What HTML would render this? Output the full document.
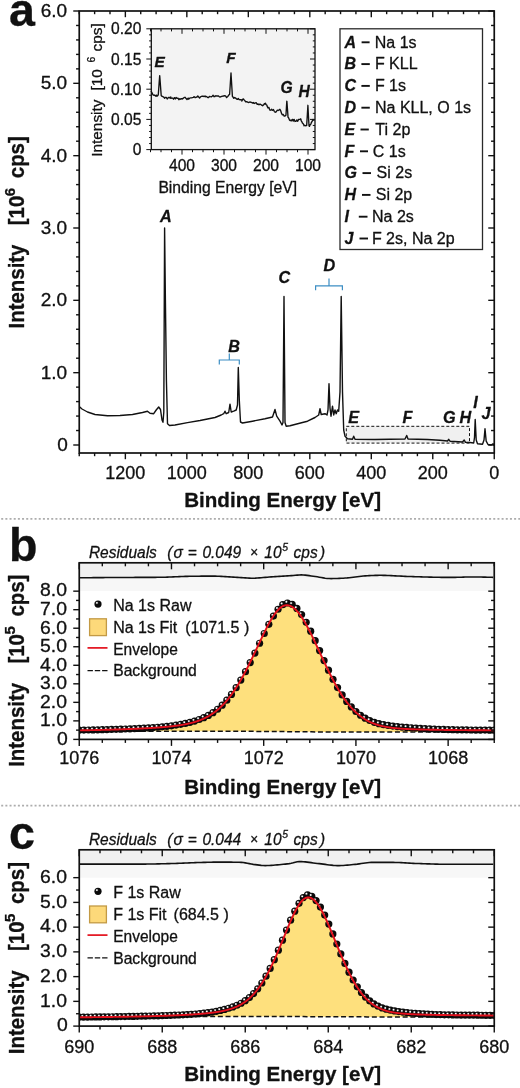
<!DOCTYPE html>
<html lang="en"><head><meta charset="utf-8"><title>XPS spectra</title>
<style>html,body{margin:0;padding:0;background:#fff}svg{display:block}text{stroke:#111;stroke-width:0.3px;stroke-linejoin:round}</style></head>
<body>
<svg width="520" height="1088" viewBox="0 0 520 1088" font-family='"Liberation Sans", Arial, Helvetica, sans-serif'>
<defs><g id="m"><circle r="3.6" fill="#0a0a0a"/><circle cx="-1.1" cy="-1.25" r="0.9" fill="#fff"/><circle cx="-1.05" cy="-1.2" r="1.45" fill="#fff" fill-opacity="0.18"/></g></defs>
<rect width="520" height="1088" fill="#fff"/>
<line x1="1.2" y1="518.8" x2="520" y2="518.8" stroke="#adadad" stroke-width="1.8" stroke-dasharray="2 2.17"/>
<line x1="1.2" y1="805.6" x2="520" y2="805.6" stroke="#adadad" stroke-width="1.8" stroke-dasharray="2 2.17"/>
<rect x="346.3" y="426.3" width="123.2" height="16.8" fill="#f0f0f0" stroke="#111" stroke-width="1" stroke-dasharray="3 2"/>
<path d="M79.5 406.8 L82 409 L87.5 412 L95 414.5 L107.5 415.8 L120 415.5 L132.5 414.5 L142.5 412.5 L147.5 411.2 L150 413.2 L153.7 413.7 L156.2 410 L158.7 407 L160.5 409.5 L162 420 L163 422.3 L163.8 412 L164.6 228 L165.4 300 L166.4 380 L167.5 423.7 L169.5 425.5 L175 425 L187.5 422.6 L200 420.5 L215 417.5 L221.2 415 L223.7 413.7 L225 411.2 L226.2 413.7 L228.7 412.5 L230 404.2 L231.2 412 L233.7 411.2 L236.2 410 L237.5 405 L238.3 367.5 L239.3 400 L240.5 422 L242.5 423 L252.5 421.2 L265 418.7 L272.5 417 L275 409.5 L276.7 416.2 L280 421.2 L282 425 L283 422.5 L284 296.5 L285 422.5 L286.2 426.2 L290 425.7 L302.5 422.5 L307.5 421.2 L315 417.5 L318.7 415 L320 408.7 L321.2 414.5 L325 413.7 L327 415 L328 410 L329 383.7 L330 408 L331 416.2 L332.5 406.2 L333.7 415 L335 410 L336.2 413.7 L337.5 410 L338.7 411.2 L340 392 L341.2 296.5 L342.5 392 L343.7 430 L345 436.2 L347.5 438.7 L352.5 439.2 L353.7 436.2 L355 439.3 L375 439.5 L390 439.3 L405 439 L406.7 435.5 L408 439 L427.5 439.5 L440 440.2 L447.5 441 L448.7 439.3 L450 441.2 L462.5 442 L464.2 440 L465.5 442.4 L470 442.5 L473.7 443 L474.5 437.5 L475.2 419.5 L476.2 440 L477.5 443.7 L482.5 444.2 L484 440 L485 428.7 L486.2 441.2 L488 444.5 L491.2 445 L493 443.7 L494 445.5" fill="none" stroke="#111" stroke-width="1.4" stroke-linejoin="round" />
<rect x="79.25" y="11" width="415" height="442" fill="none" stroke="#111" stroke-width="1.7"/>
<line x1="73.25" y1="445" x2="79.25" y2="445" stroke="#111" stroke-width="1.4" />
<line x1="488.25" y1="445" x2="494.25" y2="445" stroke="#111" stroke-width="1.4" />
<text x="0" y="0" font-size="17.6" text-anchor="end" font-weight="normal" font-style="normal" fill="#111" transform="translate(67.85 450.9) scale(1.08 1)" >0</text>
<line x1="76.05" y1="430.53" x2="79.25" y2="430.53" stroke="#111" stroke-width="1.4" />
<line x1="491.05" y1="430.53" x2="494.25" y2="430.53" stroke="#111" stroke-width="1.4" />
<line x1="76.05" y1="416.07" x2="79.25" y2="416.07" stroke="#111" stroke-width="1.4" />
<line x1="491.05" y1="416.07" x2="494.25" y2="416.07" stroke="#111" stroke-width="1.4" />
<line x1="76.05" y1="401.6" x2="79.25" y2="401.6" stroke="#111" stroke-width="1.4" />
<line x1="491.05" y1="401.6" x2="494.25" y2="401.6" stroke="#111" stroke-width="1.4" />
<line x1="76.05" y1="387.13" x2="79.25" y2="387.13" stroke="#111" stroke-width="1.4" />
<line x1="491.05" y1="387.13" x2="494.25" y2="387.13" stroke="#111" stroke-width="1.4" />
<line x1="73.25" y1="372.67" x2="79.25" y2="372.67" stroke="#111" stroke-width="1.4" />
<line x1="488.25" y1="372.67" x2="494.25" y2="372.67" stroke="#111" stroke-width="1.4" />
<text x="0" y="0" font-size="17.6" text-anchor="end" font-weight="normal" font-style="normal" fill="#111" transform="translate(67.05 378.57) scale(1.08 1)" >1.0</text>
<line x1="76.05" y1="358.2" x2="79.25" y2="358.2" stroke="#111" stroke-width="1.4" />
<line x1="491.05" y1="358.2" x2="494.25" y2="358.2" stroke="#111" stroke-width="1.4" />
<line x1="76.05" y1="343.73" x2="79.25" y2="343.73" stroke="#111" stroke-width="1.4" />
<line x1="491.05" y1="343.73" x2="494.25" y2="343.73" stroke="#111" stroke-width="1.4" />
<line x1="76.05" y1="329.27" x2="79.25" y2="329.27" stroke="#111" stroke-width="1.4" />
<line x1="491.05" y1="329.27" x2="494.25" y2="329.27" stroke="#111" stroke-width="1.4" />
<line x1="76.05" y1="314.8" x2="79.25" y2="314.8" stroke="#111" stroke-width="1.4" />
<line x1="491.05" y1="314.8" x2="494.25" y2="314.8" stroke="#111" stroke-width="1.4" />
<line x1="73.25" y1="300.33" x2="79.25" y2="300.33" stroke="#111" stroke-width="1.4" />
<line x1="488.25" y1="300.33" x2="494.25" y2="300.33" stroke="#111" stroke-width="1.4" />
<text x="0" y="0" font-size="17.6" text-anchor="end" font-weight="normal" font-style="normal" fill="#111" transform="translate(67.05 306.23) scale(1.08 1)" >2.0</text>
<line x1="76.05" y1="285.87" x2="79.25" y2="285.87" stroke="#111" stroke-width="1.4" />
<line x1="491.05" y1="285.87" x2="494.25" y2="285.87" stroke="#111" stroke-width="1.4" />
<line x1="76.05" y1="271.4" x2="79.25" y2="271.4" stroke="#111" stroke-width="1.4" />
<line x1="491.05" y1="271.4" x2="494.25" y2="271.4" stroke="#111" stroke-width="1.4" />
<line x1="76.05" y1="256.93" x2="79.25" y2="256.93" stroke="#111" stroke-width="1.4" />
<line x1="491.05" y1="256.93" x2="494.25" y2="256.93" stroke="#111" stroke-width="1.4" />
<line x1="76.05" y1="242.47" x2="79.25" y2="242.47" stroke="#111" stroke-width="1.4" />
<line x1="491.05" y1="242.47" x2="494.25" y2="242.47" stroke="#111" stroke-width="1.4" />
<line x1="73.25" y1="228" x2="79.25" y2="228" stroke="#111" stroke-width="1.4" />
<line x1="488.25" y1="228" x2="494.25" y2="228" stroke="#111" stroke-width="1.4" />
<text x="0" y="0" font-size="17.6" text-anchor="end" font-weight="normal" font-style="normal" fill="#111" transform="translate(67.05 233.9) scale(1.08 1)" >3.0</text>
<line x1="76.05" y1="213.53" x2="79.25" y2="213.53" stroke="#111" stroke-width="1.4" />
<line x1="491.05" y1="213.53" x2="494.25" y2="213.53" stroke="#111" stroke-width="1.4" />
<line x1="76.05" y1="199.07" x2="79.25" y2="199.07" stroke="#111" stroke-width="1.4" />
<line x1="491.05" y1="199.07" x2="494.25" y2="199.07" stroke="#111" stroke-width="1.4" />
<line x1="76.05" y1="184.6" x2="79.25" y2="184.6" stroke="#111" stroke-width="1.4" />
<line x1="491.05" y1="184.6" x2="494.25" y2="184.6" stroke="#111" stroke-width="1.4" />
<line x1="76.05" y1="170.13" x2="79.25" y2="170.13" stroke="#111" stroke-width="1.4" />
<line x1="491.05" y1="170.13" x2="494.25" y2="170.13" stroke="#111" stroke-width="1.4" />
<line x1="73.25" y1="155.67" x2="79.25" y2="155.67" stroke="#111" stroke-width="1.4" />
<line x1="488.25" y1="155.67" x2="494.25" y2="155.67" stroke="#111" stroke-width="1.4" />
<text x="0" y="0" font-size="17.6" text-anchor="end" font-weight="normal" font-style="normal" fill="#111" transform="translate(67.05 161.57) scale(1.08 1)" >4.0</text>
<line x1="76.05" y1="141.2" x2="79.25" y2="141.2" stroke="#111" stroke-width="1.4" />
<line x1="491.05" y1="141.2" x2="494.25" y2="141.2" stroke="#111" stroke-width="1.4" />
<line x1="76.05" y1="126.73" x2="79.25" y2="126.73" stroke="#111" stroke-width="1.4" />
<line x1="491.05" y1="126.73" x2="494.25" y2="126.73" stroke="#111" stroke-width="1.4" />
<line x1="76.05" y1="112.27" x2="79.25" y2="112.27" stroke="#111" stroke-width="1.4" />
<line x1="491.05" y1="112.27" x2="494.25" y2="112.27" stroke="#111" stroke-width="1.4" />
<line x1="76.05" y1="97.8" x2="79.25" y2="97.8" stroke="#111" stroke-width="1.4" />
<line x1="491.05" y1="97.8" x2="494.25" y2="97.8" stroke="#111" stroke-width="1.4" />
<line x1="73.25" y1="83.33" x2="79.25" y2="83.33" stroke="#111" stroke-width="1.4" />
<line x1="488.25" y1="83.33" x2="494.25" y2="83.33" stroke="#111" stroke-width="1.4" />
<text x="0" y="0" font-size="17.6" text-anchor="end" font-weight="normal" font-style="normal" fill="#111" transform="translate(67.05 89.23) scale(1.08 1)" >5.0</text>
<line x1="76.05" y1="68.87" x2="79.25" y2="68.87" stroke="#111" stroke-width="1.4" />
<line x1="491.05" y1="68.87" x2="494.25" y2="68.87" stroke="#111" stroke-width="1.4" />
<line x1="76.05" y1="54.4" x2="79.25" y2="54.4" stroke="#111" stroke-width="1.4" />
<line x1="491.05" y1="54.4" x2="494.25" y2="54.4" stroke="#111" stroke-width="1.4" />
<line x1="76.05" y1="39.93" x2="79.25" y2="39.93" stroke="#111" stroke-width="1.4" />
<line x1="491.05" y1="39.93" x2="494.25" y2="39.93" stroke="#111" stroke-width="1.4" />
<line x1="76.05" y1="25.47" x2="79.25" y2="25.47" stroke="#111" stroke-width="1.4" />
<line x1="491.05" y1="25.47" x2="494.25" y2="25.47" stroke="#111" stroke-width="1.4" />
<line x1="73.25" y1="11" x2="79.25" y2="11" stroke="#111" stroke-width="1.4" />
<line x1="488.25" y1="11" x2="494.25" y2="11" stroke="#111" stroke-width="1.4" />
<text x="0" y="0" font-size="17.6" text-anchor="end" font-weight="normal" font-style="normal" fill="#111" transform="translate(67.05 16.9) scale(1.08 1)" >6.0</text>
<line x1="494.25" y1="453" x2="494.25" y2="459.2" stroke="#111" stroke-width="1.4" />
<line x1="494.25" y1="11" x2="494.25" y2="17.2" stroke="#111" stroke-width="1.4" />
<text x="494.25" y="478.9" font-size="18" text-anchor="middle" font-weight="normal" font-style="normal" fill="#111" >0</text>
<line x1="478.88" y1="453" x2="478.88" y2="456.2" stroke="#111" stroke-width="1.4" />
<line x1="478.88" y1="11" x2="478.88" y2="14.2" stroke="#111" stroke-width="1.4" />
<line x1="463.51" y1="453" x2="463.51" y2="456.2" stroke="#111" stroke-width="1.4" />
<line x1="463.51" y1="11" x2="463.51" y2="14.2" stroke="#111" stroke-width="1.4" />
<line x1="448.14" y1="453" x2="448.14" y2="456.2" stroke="#111" stroke-width="1.4" />
<line x1="448.14" y1="11" x2="448.14" y2="14.2" stroke="#111" stroke-width="1.4" />
<line x1="432.77" y1="453" x2="432.77" y2="459.2" stroke="#111" stroke-width="1.4" />
<line x1="432.77" y1="11" x2="432.77" y2="17.2" stroke="#111" stroke-width="1.4" />
<text x="432.77" y="478.9" font-size="18" text-anchor="middle" font-weight="normal" font-style="normal" fill="#111" >200</text>
<line x1="417.4" y1="453" x2="417.4" y2="456.2" stroke="#111" stroke-width="1.4" />
<line x1="417.4" y1="11" x2="417.4" y2="14.2" stroke="#111" stroke-width="1.4" />
<line x1="402.03" y1="453" x2="402.03" y2="456.2" stroke="#111" stroke-width="1.4" />
<line x1="402.03" y1="11" x2="402.03" y2="14.2" stroke="#111" stroke-width="1.4" />
<line x1="386.66" y1="453" x2="386.66" y2="456.2" stroke="#111" stroke-width="1.4" />
<line x1="386.66" y1="11" x2="386.66" y2="14.2" stroke="#111" stroke-width="1.4" />
<line x1="371.29" y1="453" x2="371.29" y2="459.2" stroke="#111" stroke-width="1.4" />
<line x1="371.29" y1="11" x2="371.29" y2="17.2" stroke="#111" stroke-width="1.4" />
<text x="371.29" y="478.9" font-size="18" text-anchor="middle" font-weight="normal" font-style="normal" fill="#111" >400</text>
<line x1="355.92" y1="453" x2="355.92" y2="456.2" stroke="#111" stroke-width="1.4" />
<line x1="355.92" y1="11" x2="355.92" y2="14.2" stroke="#111" stroke-width="1.4" />
<line x1="340.55" y1="453" x2="340.55" y2="456.2" stroke="#111" stroke-width="1.4" />
<line x1="340.55" y1="11" x2="340.55" y2="14.2" stroke="#111" stroke-width="1.4" />
<line x1="325.18" y1="453" x2="325.18" y2="456.2" stroke="#111" stroke-width="1.4" />
<line x1="325.18" y1="11" x2="325.18" y2="14.2" stroke="#111" stroke-width="1.4" />
<line x1="309.81" y1="453" x2="309.81" y2="459.2" stroke="#111" stroke-width="1.4" />
<line x1="309.81" y1="11" x2="309.81" y2="17.2" stroke="#111" stroke-width="1.4" />
<text x="309.81" y="478.9" font-size="18" text-anchor="middle" font-weight="normal" font-style="normal" fill="#111" >600</text>
<line x1="294.44" y1="453" x2="294.44" y2="456.2" stroke="#111" stroke-width="1.4" />
<line x1="294.44" y1="11" x2="294.44" y2="14.2" stroke="#111" stroke-width="1.4" />
<line x1="279.06" y1="453" x2="279.06" y2="456.2" stroke="#111" stroke-width="1.4" />
<line x1="279.06" y1="11" x2="279.06" y2="14.2" stroke="#111" stroke-width="1.4" />
<line x1="263.69" y1="453" x2="263.69" y2="456.2" stroke="#111" stroke-width="1.4" />
<line x1="263.69" y1="11" x2="263.69" y2="14.2" stroke="#111" stroke-width="1.4" />
<line x1="248.32" y1="453" x2="248.32" y2="459.2" stroke="#111" stroke-width="1.4" />
<line x1="248.32" y1="11" x2="248.32" y2="17.2" stroke="#111" stroke-width="1.4" />
<text x="248.32" y="478.9" font-size="18" text-anchor="middle" font-weight="normal" font-style="normal" fill="#111" >800</text>
<line x1="232.95" y1="453" x2="232.95" y2="456.2" stroke="#111" stroke-width="1.4" />
<line x1="232.95" y1="11" x2="232.95" y2="14.2" stroke="#111" stroke-width="1.4" />
<line x1="217.58" y1="453" x2="217.58" y2="456.2" stroke="#111" stroke-width="1.4" />
<line x1="217.58" y1="11" x2="217.58" y2="14.2" stroke="#111" stroke-width="1.4" />
<line x1="202.21" y1="453" x2="202.21" y2="456.2" stroke="#111" stroke-width="1.4" />
<line x1="202.21" y1="11" x2="202.21" y2="14.2" stroke="#111" stroke-width="1.4" />
<line x1="186.84" y1="453" x2="186.84" y2="459.2" stroke="#111" stroke-width="1.4" />
<line x1="186.84" y1="11" x2="186.84" y2="17.2" stroke="#111" stroke-width="1.4" />
<text x="186.84" y="478.9" font-size="18" text-anchor="middle" font-weight="normal" font-style="normal" fill="#111" >1000</text>
<line x1="171.47" y1="453" x2="171.47" y2="456.2" stroke="#111" stroke-width="1.4" />
<line x1="171.47" y1="11" x2="171.47" y2="14.2" stroke="#111" stroke-width="1.4" />
<line x1="156.1" y1="453" x2="156.1" y2="456.2" stroke="#111" stroke-width="1.4" />
<line x1="156.1" y1="11" x2="156.1" y2="14.2" stroke="#111" stroke-width="1.4" />
<line x1="140.73" y1="453" x2="140.73" y2="456.2" stroke="#111" stroke-width="1.4" />
<line x1="140.73" y1="11" x2="140.73" y2="14.2" stroke="#111" stroke-width="1.4" />
<line x1="125.36" y1="453" x2="125.36" y2="459.2" stroke="#111" stroke-width="1.4" />
<line x1="125.36" y1="11" x2="125.36" y2="17.2" stroke="#111" stroke-width="1.4" />
<text x="125.36" y="478.9" font-size="18" text-anchor="middle" font-weight="normal" font-style="normal" fill="#111" >1200</text>
<line x1="109.99" y1="453" x2="109.99" y2="456.2" stroke="#111" stroke-width="1.4" />
<line x1="109.99" y1="11" x2="109.99" y2="14.2" stroke="#111" stroke-width="1.4" />
<line x1="94.62" y1="453" x2="94.62" y2="456.2" stroke="#111" stroke-width="1.4" />
<line x1="94.62" y1="11" x2="94.62" y2="14.2" stroke="#111" stroke-width="1.4" />
<line x1="79.25" y1="453" x2="79.25" y2="456.2" stroke="#111" stroke-width="1.4" />
<line x1="79.25" y1="11" x2="79.25" y2="14.2" stroke="#111" stroke-width="1.4" />
<text transform="translate(24.2 328.4) rotate(-90) scale(1 1.1)" font-size="20.4" font-weight="bold" fill="#111">Intensity</text>
<text transform="translate(24.2 225.2) rotate(-90) scale(1 1.1)" font-size="20.4" font-weight="bold" fill="#111">[10</text>
<text transform="translate(14.5 196.2) rotate(-90) scale(1 0.95)" font-size="15" font-weight="bold" fill="#111">6</text>
<text transform="translate(24.2 178.2) rotate(-90) scale(1 1.1)" font-size="20.4" font-weight="bold" fill="#111">cps]</text>
<text x="184.2" y="507.2" font-size="20.6" text-anchor="start" font-weight="bold" font-style="normal" fill="#111" >Binding Energy [eV]</text>
<text x="9" y="26.2" font-size="46.6" text-anchor="start" font-weight="bold" font-style="normal" fill="#111" >a</text>
<text x="160" y="221.7" font-size="16.2" text-anchor="start" font-weight="bold" font-style="italic" fill="#111" >A</text>
<text x="228.3" y="352.2" font-size="16.2" text-anchor="start" font-weight="bold" font-style="italic" fill="#111" >B</text>
<text x="278.6" y="283" font-size="16.2" text-anchor="start" font-weight="bold" font-style="italic" fill="#111" >C</text>
<text x="323.6" y="270.6" font-size="16.2" text-anchor="start" font-weight="bold" font-style="italic" fill="#111" >D</text>
<text x="348.2" y="423" font-size="16.2" text-anchor="start" font-weight="bold" font-style="italic" fill="#111" >E</text>
<text x="402.6" y="422.6" font-size="16.2" text-anchor="start" font-weight="bold" font-style="italic" fill="#111" >F</text>
<text x="443" y="422.6" font-size="16.2" text-anchor="start" font-weight="bold" font-style="italic" fill="#111" >G</text>
<text x="459.6" y="422.6" font-size="16.2" text-anchor="start" font-weight="bold" font-style="italic" fill="#111" >H</text>
<text x="473.2" y="407.6" font-size="16.2" text-anchor="start" font-weight="bold" font-style="italic" fill="#111" >I</text>
<text x="481.6" y="418.6" font-size="16.2" text-anchor="start" font-weight="bold" font-style="italic" fill="#111" >J</text>
<path d="M219.3 364.6V360H239.3V364.6M229.3 360V353.6" fill="none" stroke="#3d8ec4" stroke-width="1.2"/>
<path d="M315.6 290.2V285.8H342.4V290.2M329 285.8V278.6" fill="none" stroke="#3d8ec4" stroke-width="1.2"/>
<rect x="340" y="28.8" width="142.5" height="220.7" fill="#fff" stroke="#2a2a2a" stroke-width="1.3"/>
<text x="344.4" y="47.6" font-size="16" text-anchor="start" font-weight="bold" font-style="italic" fill="#111" >A</text>
<line x1="361.6" y1="42.3" x2="369.6" y2="42.3" stroke="#111" stroke-width="1.9" />
<text x="374.8" y="47.6" font-size="16" text-anchor="start" font-weight="normal" font-style="normal" fill="#111" >Na 1s</text>
<text x="344.4" y="69.4" font-size="16" text-anchor="start" font-weight="bold" font-style="italic" fill="#111" >B</text>
<line x1="361.4" y1="64.1" x2="369.8" y2="64.1" stroke="#111" stroke-width="1.9" />
<text x="374.9" y="69.4" font-size="16" text-anchor="start" font-weight="normal" font-style="normal" fill="#111" >F KLL</text>
<text x="344.4" y="91.2" font-size="16" text-anchor="start" font-weight="bold" font-style="italic" fill="#111" >C</text>
<line x1="361.4" y1="85.9" x2="369.8" y2="85.9" stroke="#111" stroke-width="1.9" />
<text x="374.9" y="91.2" font-size="16" text-anchor="start" font-weight="normal" font-style="normal" fill="#111" >F 1s</text>
<text x="344.4" y="113" font-size="16" text-anchor="start" font-weight="bold" font-style="italic" fill="#111" >D</text>
<line x1="361.4" y1="107.7" x2="369.8" y2="107.7" stroke="#111" stroke-width="1.9" />
<text x="375" y="113" font-size="16" text-anchor="start" font-weight="normal" font-style="normal" fill="#111" >Na KLL, O 1s</text>
<text x="344.4" y="134.8" font-size="16" text-anchor="start" font-weight="bold" font-style="italic" fill="#111" >E</text>
<line x1="360.5" y1="129.5" x2="368.8" y2="129.5" stroke="#111" stroke-width="1.9" />
<text x="375.3" y="134.8" font-size="16" text-anchor="start" font-weight="normal" font-style="normal" fill="#111" >Ti 2p</text>
<text x="344.4" y="156.6" font-size="16" text-anchor="start" font-weight="bold" font-style="italic" fill="#111" >F</text>
<line x1="360" y1="151.3" x2="368" y2="151.3" stroke="#111" stroke-width="1.9" />
<text x="372.8" y="156.6" font-size="16" text-anchor="start" font-weight="normal" font-style="normal" fill="#111" >C 1s</text>
<text x="344.4" y="178.4" font-size="16" text-anchor="start" font-weight="bold" font-style="italic" fill="#111" >G</text>
<line x1="362.5" y1="173.1" x2="371" y2="173.1" stroke="#111" stroke-width="1.9" />
<text x="376.6" y="178.4" font-size="16" text-anchor="start" font-weight="normal" font-style="normal" fill="#111" >Si 2s</text>
<text x="344.4" y="200.2" font-size="16" text-anchor="start" font-weight="bold" font-style="italic" fill="#111" >H</text>
<line x1="362" y1="194.9" x2="370.5" y2="194.9" stroke="#111" stroke-width="1.9" />
<text x="375.8" y="200.2" font-size="16" text-anchor="start" font-weight="normal" font-style="normal" fill="#111" >Si 2p</text>
<text x="344.4" y="222" font-size="16" text-anchor="start" font-weight="bold" font-style="italic" fill="#111" >I</text>
<line x1="358.8" y1="216.7" x2="367.5" y2="216.7" stroke="#111" stroke-width="1.9" />
<text x="372" y="222" font-size="16" text-anchor="start" font-weight="normal" font-style="normal" fill="#111" >Na 2s</text>
<text x="344.4" y="243.8" font-size="16" text-anchor="start" font-weight="bold" font-style="italic" fill="#111" >J</text>
<line x1="359.5" y1="238.5" x2="368" y2="238.5" stroke="#111" stroke-width="1.9" />
<text x="371.9" y="243.8" font-size="16" text-anchor="start" font-weight="normal" font-style="normal" fill="#111" >F 2s, Na 2p</text>
<rect x="151.3" y="28.8" width="163.7" height="120.8" fill="#f3f3f3"/>
<path d="M151 91 L151.9 92.52 L152.8 94.6 L153.7 95.29 L154.6 95.03 L155.5 95.95 L156.2 96.3 L156.4 95.08 L157.3 95.97 L158.2 94.95 L158.3 94.5 L159.1 83.6 L159.7 75.6 L160 79.42 L160.9 91.37 L161.2 95.5 L161.8 96.2 L162.7 96.49 L163.6 97.12 L164 97.2 L164.5 98.28 L165.4 97.53 L166.3 97.36 L167.2 98.97 L168.1 97.88 L169 97.19 L169.9 97.97 L170.8 96.99 L171 98.4 L171.7 98.19 L172.6 98.05 L173.5 99.19 L174.4 97.61 L175.3 98.97 L176.2 97.46 L177.1 98.36 L178 98.08 L178.9 99.74 L179.6 98.9 L179.8 98.68 L180.7 99.3 L181.6 98.61 L182.5 98.97 L183.4 98.1 L184.3 97.44 L185.2 97.3 L186.1 98.53 L187 99.57 L187.9 98.3 L188.3 98.1 L188.8 99.19 L189.7 98.1 L190.6 97.92 L191.5 97.92 L192.4 97.59 L193.3 97.39 L194.2 96.62 L195.1 97.69 L196 97.24 L196.9 97.2 L196.9 96.98 L197.8 96 L198.7 97.04 L199.6 98.06 L200.5 96.76 L201.4 96.41 L202.3 96.17 L203.2 96.21 L204.1 96.61 L205 96.03 L205.6 96.7 L205.9 96.52 L206.8 96.71 L207.7 97.47 L208.6 97.46 L209.5 96.39 L210.4 96.68 L211.3 96.88 L212.2 96.28 L213.1 95.28 L214 96.7 L214.2 96.3 L214.9 96.53 L215.8 95.69 L216.7 96.1 L217.6 95.83 L218.5 95.97 L219.4 96.9 L220.3 97.01 L221.2 96.46 L222.1 96.36 L222.9 96 L223 96 L223.9 96.01 L224.8 95.71 L225.7 96.13 L226.6 97.57 L227.5 96.79 L228 96.3 L228.4 95.57 L229.3 94.32 L229.6 94.5 L230.2 85.52 L231 73 L231.1 74.97 L232 89.44 L232.4 96.5 L232.9 96.87 L233.8 98.31 L234.7 97.51 L235.6 98.11 L236.5 98.97 L236.7 98.9 L237.4 99.4 L238.3 98.54 L239.2 99.6 L240.1 99.71 L241 99.65 L241.8 100.1 L241.9 101.08 L242.8 99.16 L243.5 98.9 L243.7 99.54 L244.6 100.38 L245.3 101.2 L245.5 101.72 L246.4 101.76 L247.3 101.9 L248.2 102.48 L249.1 102.29 L250 101.96 L250.9 102.33 L251.8 102.46 L252.7 103.11 L253.6 102.56 L254 103.3 L254.5 103.48 L255.4 102.85 L256.3 102.72 L257.2 104.34 L258.1 103.92 L259 104.87 L259.1 104.6 L259.9 104.2 L260.8 104.44 L261.7 105.18 L262.6 105.8 L262.6 105.31 L263.5 105.04 L264.4 103.7 L265.2 104.1 L265.3 103.09 L266.2 104.65 L267 105.3 L267.1 106.12 L268 107.93 L268.9 107.41 L269.5 109.3 L269.8 110.1 L270.7 110.2 L271.6 109.28 L272.5 110.32 L273 110.2 L273.4 109.56 L274.3 111.34 L275.2 112.31 L275.6 111.9 L276.1 111.98 L277 110.5 L277.9 110.17 L278.2 110.5 L278.8 110.19 L279.7 109.39 L279.9 109.3 L280.6 110.51 L281.5 113.27 L281.6 113.6 L282.4 114.74 L283.3 114.51 L284.2 116.2 L284.2 115.91 L285.1 115.95 L285.9 115.3 L286 114.46 L286.8 101.2 L286.9 101.41 L287.8 113.63 L288 117.1 L288.7 118.01 L289.6 120.22 L290.3 120.6 L290.5 120.08 L291.4 120.87 L292.3 119.42 L292.9 119.7 L293.2 121.13 L294.1 119.34 L295 121.45 L295.5 121.4 L295.9 121.36 L296.8 119.97 L297.7 121.31 L298 120.6 L298.6 119.39 L299.5 119.38 L300.4 119.47 L300.7 118.8 L301.3 120.8 L302.2 122.33 L302.4 123.1 L303.1 123.49 L304 125.36 L304.1 125.7 L304.9 125.43 L305.8 125.79 L306.7 125.4 L306.7 125.04 L307.6 110.35 L307.9 105.3 L308.5 116.78 L309 125.7 L309.4 126.4 L310.3 124.46 L311 124 L311.2 122.9 L312.1 121.39 L312.8 119.7 L313 119.36 L313.9 120.25 L314.5 120.6" fill="none" stroke="#111" stroke-width="1.35" stroke-linejoin="round" />
<rect x="151.3" y="28.8" width="163.7" height="120.8" fill="none" stroke="#111" stroke-width="1.3"/>
<line x1="146.3" y1="149.6" x2="151.3" y2="149.6" stroke="#111" stroke-width="1" />
<line x1="310" y1="149.6" x2="315" y2="149.6" stroke="#111" stroke-width="1" />
<text x="141.4" y="155.1" font-size="15.6" text-anchor="end" font-weight="normal" font-style="normal" fill="#111" >0</text>
<line x1="149.1" y1="143.56" x2="151.3" y2="143.56" stroke="#111" stroke-width="1" />
<line x1="312.8" y1="143.56" x2="315" y2="143.56" stroke="#111" stroke-width="1" />
<line x1="149.1" y1="137.52" x2="151.3" y2="137.52" stroke="#111" stroke-width="1" />
<line x1="312.8" y1="137.52" x2="315" y2="137.52" stroke="#111" stroke-width="1" />
<line x1="149.1" y1="131.48" x2="151.3" y2="131.48" stroke="#111" stroke-width="1" />
<line x1="312.8" y1="131.48" x2="315" y2="131.48" stroke="#111" stroke-width="1" />
<line x1="149.1" y1="125.44" x2="151.3" y2="125.44" stroke="#111" stroke-width="1" />
<line x1="312.8" y1="125.44" x2="315" y2="125.44" stroke="#111" stroke-width="1" />
<line x1="146.3" y1="119.4" x2="151.3" y2="119.4" stroke="#111" stroke-width="1" />
<line x1="310" y1="119.4" x2="315" y2="119.4" stroke="#111" stroke-width="1" />
<text x="141.4" y="124.9" font-size="15.6" text-anchor="end" font-weight="normal" font-style="normal" fill="#111" >0.05</text>
<line x1="149.1" y1="113.36" x2="151.3" y2="113.36" stroke="#111" stroke-width="1" />
<line x1="312.8" y1="113.36" x2="315" y2="113.36" stroke="#111" stroke-width="1" />
<line x1="149.1" y1="107.32" x2="151.3" y2="107.32" stroke="#111" stroke-width="1" />
<line x1="312.8" y1="107.32" x2="315" y2="107.32" stroke="#111" stroke-width="1" />
<line x1="149.1" y1="101.28" x2="151.3" y2="101.28" stroke="#111" stroke-width="1" />
<line x1="312.8" y1="101.28" x2="315" y2="101.28" stroke="#111" stroke-width="1" />
<line x1="149.1" y1="95.24" x2="151.3" y2="95.24" stroke="#111" stroke-width="1" />
<line x1="312.8" y1="95.24" x2="315" y2="95.24" stroke="#111" stroke-width="1" />
<line x1="146.3" y1="89.2" x2="151.3" y2="89.2" stroke="#111" stroke-width="1" />
<line x1="310" y1="89.2" x2="315" y2="89.2" stroke="#111" stroke-width="1" />
<text x="141.4" y="94.7" font-size="15.6" text-anchor="end" font-weight="normal" font-style="normal" fill="#111" >0.10</text>
<line x1="149.1" y1="83.16" x2="151.3" y2="83.16" stroke="#111" stroke-width="1" />
<line x1="312.8" y1="83.16" x2="315" y2="83.16" stroke="#111" stroke-width="1" />
<line x1="149.1" y1="77.12" x2="151.3" y2="77.12" stroke="#111" stroke-width="1" />
<line x1="312.8" y1="77.12" x2="315" y2="77.12" stroke="#111" stroke-width="1" />
<line x1="149.1" y1="71.08" x2="151.3" y2="71.08" stroke="#111" stroke-width="1" />
<line x1="312.8" y1="71.08" x2="315" y2="71.08" stroke="#111" stroke-width="1" />
<line x1="149.1" y1="65.04" x2="151.3" y2="65.04" stroke="#111" stroke-width="1" />
<line x1="312.8" y1="65.04" x2="315" y2="65.04" stroke="#111" stroke-width="1" />
<line x1="146.3" y1="59" x2="151.3" y2="59" stroke="#111" stroke-width="1" />
<line x1="310" y1="59" x2="315" y2="59" stroke="#111" stroke-width="1" />
<text x="141.4" y="64.5" font-size="15.6" text-anchor="end" font-weight="normal" font-style="normal" fill="#111" >0.15</text>
<line x1="149.1" y1="52.96" x2="151.3" y2="52.96" stroke="#111" stroke-width="1" />
<line x1="312.8" y1="52.96" x2="315" y2="52.96" stroke="#111" stroke-width="1" />
<line x1="149.1" y1="46.92" x2="151.3" y2="46.92" stroke="#111" stroke-width="1" />
<line x1="312.8" y1="46.92" x2="315" y2="46.92" stroke="#111" stroke-width="1" />
<line x1="149.1" y1="40.88" x2="151.3" y2="40.88" stroke="#111" stroke-width="1" />
<line x1="312.8" y1="40.88" x2="315" y2="40.88" stroke="#111" stroke-width="1" />
<line x1="149.1" y1="34.84" x2="151.3" y2="34.84" stroke="#111" stroke-width="1" />
<line x1="312.8" y1="34.84" x2="315" y2="34.84" stroke="#111" stroke-width="1" />
<line x1="146.3" y1="28.8" x2="151.3" y2="28.8" stroke="#111" stroke-width="1" />
<line x1="310" y1="28.8" x2="315" y2="28.8" stroke="#111" stroke-width="1" />
<text x="141.4" y="34.3" font-size="15.6" text-anchor="end" font-weight="normal" font-style="normal" fill="#111" >0.20</text>
<line x1="308" y1="149.6" x2="308" y2="154.6" stroke="#111" stroke-width="1" />
<line x1="308" y1="28.8" x2="308" y2="33.8" stroke="#111" stroke-width="1" />
<text x="308" y="171" font-size="15.6" text-anchor="middle" font-weight="normal" font-style="normal" fill="#111" >100</text>
<line x1="297.5" y1="149.6" x2="297.5" y2="152.2" stroke="#111" stroke-width="1" />
<line x1="297.5" y1="28.8" x2="297.5" y2="31.4" stroke="#111" stroke-width="1" />
<line x1="287" y1="149.6" x2="287" y2="152.2" stroke="#111" stroke-width="1" />
<line x1="287" y1="28.8" x2="287" y2="31.4" stroke="#111" stroke-width="1" />
<line x1="276.5" y1="149.6" x2="276.5" y2="152.2" stroke="#111" stroke-width="1" />
<line x1="276.5" y1="28.8" x2="276.5" y2="31.4" stroke="#111" stroke-width="1" />
<line x1="266" y1="149.6" x2="266" y2="154.6" stroke="#111" stroke-width="1" />
<line x1="266" y1="28.8" x2="266" y2="33.8" stroke="#111" stroke-width="1" />
<text x="266" y="171" font-size="15.6" text-anchor="middle" font-weight="normal" font-style="normal" fill="#111" >200</text>
<line x1="255.5" y1="149.6" x2="255.5" y2="152.2" stroke="#111" stroke-width="1" />
<line x1="255.5" y1="28.8" x2="255.5" y2="31.4" stroke="#111" stroke-width="1" />
<line x1="245" y1="149.6" x2="245" y2="152.2" stroke="#111" stroke-width="1" />
<line x1="245" y1="28.8" x2="245" y2="31.4" stroke="#111" stroke-width="1" />
<line x1="234.5" y1="149.6" x2="234.5" y2="152.2" stroke="#111" stroke-width="1" />
<line x1="234.5" y1="28.8" x2="234.5" y2="31.4" stroke="#111" stroke-width="1" />
<line x1="224" y1="149.6" x2="224" y2="154.6" stroke="#111" stroke-width="1" />
<line x1="224" y1="28.8" x2="224" y2="33.8" stroke="#111" stroke-width="1" />
<text x="224" y="171" font-size="15.6" text-anchor="middle" font-weight="normal" font-style="normal" fill="#111" >300</text>
<line x1="213.5" y1="149.6" x2="213.5" y2="152.2" stroke="#111" stroke-width="1" />
<line x1="213.5" y1="28.8" x2="213.5" y2="31.4" stroke="#111" stroke-width="1" />
<line x1="203" y1="149.6" x2="203" y2="152.2" stroke="#111" stroke-width="1" />
<line x1="203" y1="28.8" x2="203" y2="31.4" stroke="#111" stroke-width="1" />
<line x1="192.5" y1="149.6" x2="192.5" y2="152.2" stroke="#111" stroke-width="1" />
<line x1="192.5" y1="28.8" x2="192.5" y2="31.4" stroke="#111" stroke-width="1" />
<line x1="182" y1="149.6" x2="182" y2="154.6" stroke="#111" stroke-width="1" />
<line x1="182" y1="28.8" x2="182" y2="33.8" stroke="#111" stroke-width="1" />
<text x="182" y="171" font-size="15.6" text-anchor="middle" font-weight="normal" font-style="normal" fill="#111" >400</text>
<line x1="171.5" y1="149.6" x2="171.5" y2="152.2" stroke="#111" stroke-width="1" />
<line x1="171.5" y1="28.8" x2="171.5" y2="31.4" stroke="#111" stroke-width="1" />
<line x1="161" y1="149.6" x2="161" y2="152.2" stroke="#111" stroke-width="1" />
<line x1="161" y1="28.8" x2="161" y2="31.4" stroke="#111" stroke-width="1" />
<line x1="150.5" y1="149.6" x2="150.5" y2="152.2" stroke="#111" stroke-width="1" />
<line x1="150.5" y1="28.8" x2="150.5" y2="31.4" stroke="#111" stroke-width="1" />
<text x="158.4" y="193.2" font-size="15.7" text-anchor="start" font-weight="normal" font-style="normal" fill="#111" >Binding Energy [eV]</text>
<text x="101.6" y="156.8" font-size="15.4" text-anchor="start" font-weight="normal" font-style="normal" fill="#111" transform="rotate(-90 101.6 156.8)" >Intensity</text>
<text x="101.6" y="90.6" font-size="15.4" text-anchor="start" font-weight="normal" font-style="normal" fill="#111" transform="rotate(-90 101.6 90.6)" >[10</text>
<text x="94.8" y="62.4" font-size="10.5" text-anchor="start" font-weight="normal" font-style="normal" fill="#111" transform="rotate(-90 94.8 62.4)" >6</text>
<text x="101.6" y="51.4" font-size="15.4" text-anchor="start" font-weight="normal" font-style="normal" fill="#111" transform="rotate(-90 101.6 51.4)" >cps]</text>
<text x="154.4" y="66.8" font-size="15.4" text-anchor="start" font-weight="bold" font-style="italic" fill="#111" >E</text>
<text x="226.2" y="63" font-size="15.4" text-anchor="start" font-weight="bold" font-style="italic" fill="#111" >F</text>
<text x="280.4" y="93.2" font-size="15.6" text-anchor="start" font-weight="bold" font-style="italic" fill="#111" >G</text>
<text x="298.6" y="97" font-size="15.6" text-anchor="start" font-weight="bold" font-style="italic" fill="#111" >H</text>
<rect x="79.25" y="562.8" width="415" height="15" fill="#f0f0f0"/>
<rect x="79.25" y="577.8" width="415" height="13.2" fill="#f7f7f7"/>
<path d="M79.25 577.8 L81.25 577.78 L83.25 577.76 L85.25 577.74 L87.25 577.72 L89.25 577.7 L91.25 577.68 L93.25 577.66 L95.25 577.65 L97.25 577.63 L99.25 577.61 L101.25 577.6 L103.25 577.58 L105.25 577.57 L107.25 577.55 L109.25 577.54 L111.25 577.52 L113.25 577.51 L115.25 577.5 L117.25 577.49 L119.25 577.48 L121.25 577.47 L123.25 577.46 L125.25 577.45 L127.25 577.45 L129.25 577.44 L131.25 577.43 L133.25 577.43 L135.25 577.42 L137.25 577.41 L139.25 577.41 L141.25 577.4 L143.25 577.39 L145.25 577.39 L147.25 577.38 L149.25 577.37 L151.25 577.36 L153.25 577.35 L155.25 577.33 L157.25 577.32 L159.25 577.31 L161.25 577.29 L163.25 577.25 L165.25 577.2 L167.25 577.14 L169.25 577.07 L171.25 576.99 L173.25 576.9 L175.25 576.81 L177.25 576.72 L179.25 576.64 L181.25 576.55 L183.25 576.48 L185.25 576.41 L187.25 576.35 L189.25 576.31 L191.25 576.28 L193.25 576.25 L195.25 576.23 L197.25 576.2 L199.25 576.18 L201.25 576.15 L203.25 576.14 L205.25 576.12 L207.25 576.11 L209.25 576.1 L211.25 576.1 L213.25 576.12 L215.25 576.16 L217.25 576.22 L219.25 576.31 L221.25 576.4 L223.25 576.51 L225.25 576.63 L227.25 576.75 L229.25 576.87 L231.25 576.99 L233.25 577.11 L235.25 577.21 L237.25 577.33 L239.25 577.47 L241.25 577.62 L243.25 577.77 L245.25 577.91 L247.25 578.03 L249.25 578.13 L251.25 578.19 L253.25 578.2 L255.25 578.15 L257.25 578.05 L259.25 577.92 L261.25 577.75 L263.25 577.57 L265.25 577.39 L267.25 577.21 L269.25 577.05 L271.25 576.92 L273.25 576.78 L275.25 576.66 L277.25 576.53 L279.25 576.4 L281.25 576.27 L283.25 576.14 L285.25 576.01 L287.25 575.88 L289.25 575.75 L291.25 575.61 L293.25 575.43 L295.25 575.25 L297.25 575.08 L299.25 574.96 L301.25 574.9 L303.25 574.95 L305.25 575.11 L307.25 575.35 L309.25 575.64 L311.25 575.95 L313.25 576.26 L315.25 576.53 L317.25 576.83 L319.25 577.17 L321.25 577.53 L323.25 577.88 L325.25 578.19 L327.25 578.43 L329.25 578.57 L331.25 578.6 L333.25 578.57 L335.25 578.52 L337.25 578.45 L339.25 578.37 L341.25 578.28 L343.25 578.19 L345.25 578.06 L347.25 577.9 L349.25 577.69 L351.25 577.46 L353.25 577.21 L355.25 576.96 L357.25 576.7 L359.25 576.45 L361.25 576.22 L363.25 576.01 L365.25 575.84 L367.25 575.72 L369.25 575.62 L371.25 575.53 L373.25 575.45 L375.25 575.38 L377.25 575.33 L379.25 575.3 L381.25 575.3 L383.25 575.33 L385.25 575.38 L387.25 575.45 L389.25 575.53 L391.25 575.62 L393.25 575.73 L395.25 575.84 L397.25 575.95 L399.25 576.06 L401.25 576.17 L403.25 576.27 L405.25 576.36 L407.25 576.44 L409.25 576.51 L411.25 576.57 L413.25 576.63 L415.25 576.69 L417.25 576.75 L419.25 576.81 L421.25 576.87 L423.25 576.93 L425.25 576.98 L427.25 577.04 L429.25 577.09 L431.25 577.14 L433.25 577.19 L435.25 577.23 L437.25 577.27 L439.25 577.31 L441.25 577.34 L443.25 577.36 L445.25 577.38 L447.25 577.39 L449.25 577.4 L451.25 577.4 L453.25 577.37 L455.25 577.34 L457.25 577.29 L459.25 577.24 L461.25 577.18 L463.25 577.12 L465.25 577.07 L467.25 577.03 L469.25 577.01 L471.25 577 L473.25 577 L475.25 577.01 L477.25 577.03 L479.25 577.05 L481.25 577.07 L483.25 577.1 L485.25 577.14 L487.25 577.19 L489.25 577.24 L491.25 577.3 L493.25 577.36" fill="none" stroke="#111" stroke-width="1.6" stroke-linejoin="round" />
<path d="M79.25 730.38 L79.75 730.37 L80.25 730.36 L80.75 730.35 L81.25 730.34 L81.75 730.33 L82.25 730.32 L82.75 730.32 L83.25 730.31 L83.75 730.3 L84.25 730.29 L84.75 730.28 L85.25 730.27 L85.75 730.26 L86.25 730.25 L86.75 730.24 L87.25 730.23 L87.75 730.22 L88.25 730.21 L88.75 730.2 L89.25 730.19 L89.75 730.18 L90.25 730.17 L90.75 730.16 L91.25 730.15 L91.75 730.14 L92.25 730.13 L92.75 730.11 L93.25 730.1 L93.75 730.09 L94.25 730.08 L94.75 730.07 L95.25 730.06 L95.75 730.05 L96.25 730.04 L96.75 730.03 L97.25 730.01 L97.75 730 L98.25 729.99 L98.75 729.98 L99.25 729.97 L99.75 729.96 L100.25 729.94 L100.75 729.93 L101.25 729.92 L101.75 729.91 L102.25 729.9 L102.75 729.88 L103.25 729.87 L103.75 729.86 L104.25 729.84 L104.75 729.83 L105.25 729.82 L105.75 729.81 L106.25 729.79 L106.75 729.78 L107.25 729.77 L107.75 729.75 L108.25 729.74 L108.75 729.73 L109.25 729.71 L109.75 729.7 L110.25 729.68 L110.75 729.67 L111.25 729.65 L111.75 729.64 L112.25 729.63 L112.75 729.61 L113.25 729.6 L113.75 729.58 L114.25 729.57 L114.75 729.55 L115.25 729.54 L115.75 729.52 L116.25 729.51 L116.75 729.49 L117.25 729.47 L117.75 729.46 L118.25 729.44 L118.75 729.43 L119.25 729.41 L119.75 729.39 L120.25 729.38 L120.75 729.36 L121.25 729.34 L121.75 729.33 L122.25 729.31 L122.75 729.29 L123.25 729.27 L123.75 729.26 L124.25 729.24 L124.75 729.22 L125.25 729.2 L125.75 729.19 L126.25 729.17 L126.75 729.15 L127.25 729.13 L127.75 729.11 L128.25 729.09 L128.75 729.07 L129.25 729.05 L129.75 729.03 L130.25 729.01 L130.75 728.99 L131.25 728.97 L131.75 728.95 L132.25 728.93 L132.75 728.91 L133.25 728.89 L133.75 728.87 L134.25 728.85 L134.75 728.83 L135.25 728.81 L135.75 728.78 L136.25 728.76 L136.75 728.74 L137.25 728.72 L137.75 728.69 L138.25 728.67 L138.75 728.65 L139.25 728.62 L139.75 728.6 L140.25 728.58 L140.75 728.55 L141.25 728.53 L141.75 728.5 L142.25 728.48 L142.75 728.45 L143.25 728.43 L143.75 728.4 L144.25 728.38 L144.75 728.35 L145.25 728.32 L145.75 728.3 L146.25 728.27 L146.75 728.24 L147.25 728.21 L147.75 728.19 L148.25 728.16 L148.75 728.13 L149.25 728.1 L149.75 728.07 L150.25 728.04 L150.75 728.01 L151.25 727.98 L151.75 727.95 L152.25 727.92 L152.75 727.89 L153.25 727.85 L153.75 727.82 L154.25 727.79 L154.75 727.76 L155.25 727.72 L155.75 727.69 L156.25 727.65 L156.75 727.62 L157.25 727.58 L157.75 727.55 L158.25 727.51 L158.75 727.47 L159.25 727.44 L159.75 727.4 L160.25 727.36 L160.75 727.32 L161.25 727.28 L161.75 727.24 L162.25 727.2 L162.75 727.16 L163.25 727.12 L163.75 727.07 L164.25 727.03 L164.75 726.99 L165.25 726.94 L165.75 726.9 L166.25 726.85 L166.75 726.8 L167.25 726.75 L167.75 726.71 L168.25 726.66 L168.75 726.61 L169.25 726.56 L169.75 726.5 L170.25 726.45 L170.75 726.4 L171.25 726.34 L171.75 726.29 L172.25 726.23 L172.75 726.17 L173.25 726.11 L173.75 726.05 L174.25 725.99 L174.75 725.93 L175.25 725.87 L175.75 725.8 L176.25 725.73 L176.75 725.67 L177.25 725.6 L177.75 725.53 L178.25 725.46 L178.75 725.38 L179.25 725.31 L179.75 725.23 L180.25 725.15 L180.75 725.08 L181.25 724.99 L181.75 724.91 L182.25 724.83 L182.75 724.74 L183.25 724.65 L183.75 724.56 L184.25 724.47 L184.75 724.38 L185.25 724.28 L185.75 724.18 L186.25 724.08 L186.75 723.98 L187.25 723.87 L187.75 723.76 L188.25 723.65 L188.75 723.54 L189.25 723.43 L189.75 723.31 L190.25 723.19 L190.75 723.06 L191.25 722.94 L191.75 722.81 L192.25 722.68 L192.75 722.54 L193.25 722.4 L193.75 722.26 L194.25 722.11 L194.75 721.97 L195.25 721.81 L195.75 721.66 L196.25 721.5 L196.75 721.33 L197.25 721.17 L197.75 720.99 L198.25 720.82 L198.75 720.64 L199.25 720.46 L199.75 720.27 L200.25 720.08 L200.75 719.88 L201.25 719.68 L201.75 719.47 L202.25 719.26 L202.75 719.04 L203.25 718.82 L203.75 718.59 L204.25 718.36 L204.75 718.12 L205.25 717.88 L205.75 717.63 L206.25 717.38 L206.75 717.12 L207.25 716.85 L207.75 716.58 L208.25 716.3 L208.75 716.02 L209.25 715.72 L209.75 715.43 L210.25 715.12 L210.75 714.81 L211.25 714.49 L211.75 714.17 L212.25 713.84 L212.75 713.5 L213.25 713.15 L213.75 712.8 L214.25 712.43 L214.75 712.07 L215.25 711.69 L215.75 711.3 L216.25 710.91 L216.75 710.51 L217.25 710.1 L217.75 709.68 L218.25 709.26 L218.75 708.82 L219.25 708.38 L219.75 707.92 L220.25 707.46 L220.75 706.99 L221.25 706.51 L221.75 706.03 L222.25 705.53 L222.75 705.02 L223.25 704.51 L223.75 703.98 L224.25 703.44 L224.75 702.9 L225.25 702.34 L225.75 701.78 L226.25 701.21 L226.75 700.62 L227.25 700.03 L227.75 699.42 L228.25 698.81 L228.75 698.18 L229.25 697.55 L229.75 696.91 L230.25 696.25 L230.75 695.59 L231.25 694.91 L231.75 694.22 L232.25 693.53 L232.75 692.82 L233.25 692.1 L233.75 691.38 L234.25 690.64 L234.75 689.89 L235.25 689.13 L235.75 688.37 L236.25 687.59 L236.75 686.8 L237.25 686 L237.75 685.19 L238.25 684.37 L238.75 683.54 L239.25 682.71 L239.75 681.86 L240.25 681 L240.75 680.13 L241.25 679.26 L241.75 678.37 L242.25 677.47 L242.75 676.57 L243.25 675.66 L243.75 674.73 L244.25 673.8 L244.75 672.87 L245.25 671.92 L245.75 670.96 L246.25 670 L246.75 669.03 L247.25 668.05 L247.75 667.06 L248.25 666.07 L248.75 665.07 L249.25 664.07 L249.75 663.06 L250.25 662.04 L250.75 661.01 L251.25 659.99 L251.75 658.95 L252.25 657.91 L252.75 656.87 L253.25 655.82 L253.75 654.77 L254.25 653.72 L254.75 652.66 L255.25 651.6 L255.75 650.54 L256.25 649.48 L256.75 648.42 L257.25 647.35 L257.75 646.29 L258.25 645.22 L258.75 644.16 L259.25 643.1 L259.75 642.03 L260.25 640.97 L260.75 639.92 L261.25 638.87 L261.75 637.82 L262.25 636.77 L262.75 635.73 L263.25 634.7 L263.75 633.67 L264.25 632.65 L264.75 631.64 L265.25 630.63 L265.75 629.63 L266.25 628.65 L266.75 627.67 L267.25 626.71 L267.75 625.75 L268.25 624.81 L268.75 623.88 L269.25 622.97 L269.75 622.07 L270.25 621.18 L270.75 620.32 L271.25 619.46 L271.75 618.63 L272.25 617.82 L272.75 617.02 L273.25 616.24 L273.75 615.49 L274.25 614.75 L274.75 614.04 L275.25 613.35 L275.75 612.68 L276.25 612.04 L276.75 611.43 L277.25 610.84 L277.75 610.27 L278.25 609.73 L278.75 609.22 L279.25 608.74 L279.75 608.29 L280.25 607.86 L280.75 607.47 L281.25 607.1 L281.75 606.77 L282.25 606.47 L282.75 606.19 L283.25 605.96 L283.75 605.75 L284.25 605.57 L284.75 605.43 L285.25 605.32 L285.75 605.24 L286.25 605.2 L286.75 605.19 L287.25 605.21 L287.75 605.25 L288.25 605.33 L288.75 605.43 L289.25 605.56 L289.75 605.72 L290.25 605.91 L290.75 606.13 L291.25 606.37 L291.75 606.64 L292.25 606.93 L292.75 607.26 L293.25 607.61 L293.75 607.99 L294.25 608.39 L294.75 608.82 L295.25 609.27 L295.75 609.75 L296.25 610.25 L296.75 610.78 L297.25 611.33 L297.75 611.91 L298.25 612.5 L298.75 613.12 L299.25 613.76 L299.75 614.43 L300.25 615.11 L300.75 615.82 L301.25 616.54 L301.75 617.28 L302.25 618.05 L302.75 618.83 L303.25 619.63 L303.75 620.44 L304.25 621.28 L304.75 622.13 L305.25 622.99 L305.75 623.87 L306.25 624.77 L306.75 625.68 L307.25 626.6 L307.75 627.53 L308.25 628.48 L308.75 629.44 L309.25 630.41 L309.75 631.39 L310.25 632.38 L310.75 633.38 L311.25 634.39 L311.75 635.41 L312.25 636.44 L312.75 637.47 L313.25 638.51 L313.75 639.56 L314.25 640.61 L314.75 641.67 L315.25 642.73 L315.75 643.79 L316.25 644.86 L316.75 645.94 L317.25 647.01 L317.75 648.09 L318.25 649.17 L318.75 650.25 L319.25 651.33 L319.75 652.41 L320.25 653.5 L320.75 654.58 L321.25 655.66 L321.75 656.74 L322.25 657.81 L322.75 658.89 L323.25 659.96 L323.75 661.03 L324.25 662.09 L324.75 663.16 L325.25 664.21 L325.75 665.27 L326.25 666.31 L326.75 667.36 L327.25 668.39 L327.75 669.43 L328.25 670.45 L328.75 671.47 L329.25 672.48 L329.75 673.49 L330.25 674.49 L330.75 675.48 L331.25 676.46 L331.75 677.43 L332.25 678.4 L332.75 679.36 L333.25 680.31 L333.75 681.25 L334.25 682.18 L334.75 683.1 L335.25 684.01 L335.75 684.91 L336.25 685.8 L336.75 686.69 L337.25 687.56 L337.75 688.42 L338.25 689.27 L338.75 690.12 L339.25 690.95 L339.75 691.77 L340.25 692.58 L340.75 693.37 L341.25 694.16 L341.75 694.94 L342.25 695.71 L342.75 696.46 L343.25 697.2 L343.75 697.94 L344.25 698.66 L344.75 699.37 L345.25 700.07 L345.75 700.75 L346.25 701.43 L346.75 702.1 L347.25 702.75 L347.75 703.39 L348.25 704.03 L348.75 704.65 L349.25 705.26 L349.75 705.86 L350.25 706.45 L350.75 707.02 L351.25 707.59 L351.75 708.15 L352.25 708.69 L352.75 709.22 L353.25 709.75 L353.75 710.26 L354.25 710.77 L354.75 711.26 L355.25 711.74 L355.75 712.22 L356.25 712.68 L356.75 713.13 L357.25 713.58 L357.75 714.01 L358.25 714.43 L358.75 714.85 L359.25 715.25 L359.75 715.65 L360.25 716.04 L360.75 716.42 L361.25 716.79 L361.75 717.15 L362.25 717.5 L362.75 717.85 L363.25 718.18 L363.75 718.51 L364.25 718.83 L364.75 719.14 L365.25 719.45 L365.75 719.74 L366.25 720.03 L366.75 720.31 L367.25 720.59 L367.75 720.86 L368.25 721.12 L368.75 721.37 L369.25 721.62 L369.75 721.86 L370.25 722.09 L370.75 722.32 L371.25 722.54 L371.75 722.76 L372.25 722.97 L372.75 723.17 L373.25 723.37 L373.75 723.56 L374.25 723.75 L374.75 723.93 L375.25 724.11 L375.75 724.28 L376.25 724.45 L376.75 724.61 L377.25 724.77 L377.75 724.92 L378.25 725.07 L378.75 725.22 L379.25 725.36 L379.75 725.49 L380.25 725.62 L380.75 725.75 L381.25 725.88 L381.75 726 L382.25 726.11 L382.75 726.23 L383.25 726.34 L383.75 726.44 L384.25 726.55 L384.75 726.65 L385.25 726.74 L385.75 726.84 L386.25 726.93 L386.75 727.02 L387.25 727.1 L387.75 727.19 L388.25 727.27 L388.75 727.34 L389.25 727.42 L389.75 727.49 L390.25 727.56 L390.75 727.63 L391.25 727.7 L391.75 727.76 L392.25 727.83 L392.75 727.89 L393.25 727.94 L393.75 728 L394.25 728.06 L394.75 728.11 L395.25 728.16 L395.75 728.21 L396.25 728.26 L396.75 728.31 L397.25 728.35 L397.75 728.4 L398.25 728.44 L398.75 728.48 L399.25 728.52 L399.75 728.56 L400.25 728.6 L400.75 728.63 L401.25 728.67 L401.75 728.71 L402.25 728.74 L402.75 728.77 L403.25 728.8 L403.75 728.83 L404.25 728.86 L404.75 728.89 L405.25 728.92 L405.75 728.95 L406.25 728.97 L406.75 729 L407.25 729.02 L407.75 729.05 L408.25 729.07 L408.75 729.1 L409.25 729.12 L409.75 729.14 L410.25 729.16 L410.75 729.18 L411.25 729.2 L411.75 729.22 L412.25 729.24 L412.75 729.26 L413.25 729.28 L413.75 729.3 L414.25 729.31 L414.75 729.33 L415.25 729.35 L415.75 729.36 L416.25 729.38 L416.75 729.39 L417.25 729.41 L417.75 729.42 L418.25 729.44 L418.75 729.45 L419.25 729.47 L419.75 729.48 L420.25 729.49 L420.75 729.51 L421.25 729.52 L421.75 729.53 L422.25 729.54 L422.75 729.56 L423.25 729.57 L423.75 729.58 L424.25 729.59 L424.75 729.6 L425.25 729.61 L425.75 729.62 L426.25 729.63 L426.75 729.64 L427.25 729.65 L427.75 729.66 L428.25 729.67 L428.75 729.68 L429.25 729.69 L429.75 729.7 L430.25 729.71 L430.75 729.72 L431.25 729.73 L431.75 729.74 L432.25 729.75 L432.75 729.76 L433.25 729.76 L433.75 729.77 L434.25 729.78 L434.75 729.79 L435.25 729.8 L435.75 729.81 L436.25 729.81 L436.75 729.82 L437.25 729.83 L437.75 729.84 L438.25 729.84 L438.75 729.85 L439.25 729.86 L439.75 729.87 L440.25 729.87 L440.75 729.88 L441.25 729.89 L441.75 729.89 L442.25 729.9 L442.75 729.91 L443.25 729.92 L443.75 729.92 L444.25 729.93 L444.75 729.93 L445.25 729.94 L445.75 729.95 L446.25 729.95 L446.75 729.96 L447.25 729.97 L447.75 729.97 L448.25 729.98 L448.75 729.98 L449.25 729.99 L449.75 730 L450.25 730 L450.75 730.01 L451.25 730.01 L451.75 730.02 L452.25 730.03 L452.75 730.03 L453.25 730.04 L453.75 730.04 L454.25 730.05 L454.75 730.05 L455.25 730.06 L455.75 730.06 L456.25 730.07 L456.75 730.07 L457.25 730.08 L457.75 730.08 L458.25 730.09 L458.75 730.09 L459.25 730.1 L459.75 730.1 L460.25 730.11 L460.75 730.11 L461.25 730.12 L461.75 730.12 L462.25 730.13 L462.75 730.13 L463.25 730.14 L463.75 730.14 L464.25 730.15 L464.75 730.15 L465.25 730.16 L465.75 730.16 L466.25 730.17 L466.75 730.17 L467.25 730.17 L467.75 730.18 L468.25 730.18 L468.75 730.19 L469.25 730.19 L469.75 730.2 L470.25 730.2 L470.75 730.2 L471.25 730.21 L471.75 730.21 L472.25 730.22 L472.75 730.22 L473.25 730.23 L473.75 730.23 L474.25 730.23 L474.75 730.24 L475.25 730.24 L475.75 730.24 L476.25 730.25 L476.75 730.25 L477.25 730.26 L477.75 730.26 L478.25 730.26 L478.75 730.27 L479.25 730.27 L479.75 730.27 L480.25 730.28 L480.75 730.28 L481.25 730.29 L481.75 730.29 L482.25 730.29 L482.75 730.3 L483.25 730.3 L483.75 730.3 L484.25 730.31 L484.75 730.31 L485.25 730.31 L485.75 730.32 L486.25 730.32 L486.75 730.32 L487.25 730.33 L487.75 730.33 L488.25 730.33 L488.75 730.34 L489.25 730.34 L489.75 730.34 L490.25 730.35 L490.75 730.35 L491.25 730.35 L491.75 730.36 L492.25 730.36 L492.75 730.36 L493.25 730.36 L493.75 730.37 L494.25 730.37 L494.25 732.1 L493.75 732.1 L493.25 732.1 L492.75 732.1 L492.25 732.1 L491.75 732.1 L491.25 732.1 L490.75 732.1 L490.25 732.1 L489.75 732.1 L489.25 732.1 L488.75 732.1 L488.25 732.1 L487.75 732.1 L487.25 732.1 L486.75 732.1 L486.25 732.1 L485.75 732.1 L485.25 732.1 L484.75 732.1 L484.25 732.1 L483.75 732.1 L483.25 732.1 L482.75 732.1 L482.25 732.1 L481.75 732.1 L481.25 732.1 L480.75 732.1 L480.25 732.1 L479.75 732.1 L479.25 732.1 L478.75 732.1 L478.25 732.1 L477.75 732.1 L477.25 732.1 L476.75 732.1 L476.25 732.1 L475.75 732.1 L475.25 732.1 L474.75 732.1 L474.25 732.1 L473.75 732.1 L473.25 732.1 L472.75 732.1 L472.25 732.1 L471.75 732.1 L471.25 732.1 L470.75 732.1 L470.25 732.1 L469.75 732.1 L469.25 732.1 L468.75 732.1 L468.25 732.1 L467.75 732.1 L467.25 732.1 L466.75 732.1 L466.25 732.1 L465.75 732.1 L465.25 732.1 L464.75 732.1 L464.25 732.1 L463.75 732.1 L463.25 732.1 L462.75 732.1 L462.25 732.1 L461.75 732.1 L461.25 732.1 L460.75 732.1 L460.25 732.1 L459.75 732.1 L459.25 732.1 L458.75 732.1 L458.25 732.1 L457.75 732.1 L457.25 732.1 L456.75 732.1 L456.25 732.1 L455.75 732.1 L455.25 732.1 L454.75 732.1 L454.25 732.1 L453.75 732.1 L453.25 732.1 L452.75 732.1 L452.25 732.1 L451.75 732.1 L451.25 732.1 L450.75 732.1 L450.25 732.1 L449.75 732.1 L449.25 732.1 L448.75 732.1 L448.25 732.1 L447.75 732.1 L447.25 732.1 L446.75 732.1 L446.25 732.1 L445.75 732.1 L445.25 732.1 L444.75 732.1 L444.25 732.1 L443.75 732.1 L443.25 732.1 L442.75 732.1 L442.25 732.1 L441.75 732.1 L441.25 732.1 L440.75 732.1 L440.25 732.1 L439.75 732.1 L439.25 732.1 L438.75 732.1 L438.25 732.1 L437.75 732.1 L437.25 732.1 L436.75 732.1 L436.25 732.1 L435.75 732.1 L435.25 732.1 L434.75 732.1 L434.25 732.1 L433.75 732.1 L433.25 732.1 L432.75 732.1 L432.25 732.1 L431.75 732.1 L431.25 732.1 L430.75 732.1 L430.25 732.1 L429.75 732.1 L429.25 732.1 L428.75 732.1 L428.25 732.1 L427.75 732.1 L427.25 732.1 L426.75 732.1 L426.25 732.1 L425.75 732.1 L425.25 732.1 L424.75 732.1 L424.25 732.1 L423.75 732.1 L423.25 732.1 L422.75 732.1 L422.25 732.1 L421.75 732.1 L421.25 732.1 L420.75 732.1 L420.25 732.1 L419.75 732.1 L419.25 732.1 L418.75 732.1 L418.25 732.1 L417.75 732.1 L417.25 732.1 L416.75 732.1 L416.25 732.1 L415.75 732.1 L415.25 732.1 L414.75 732.1 L414.25 732.1 L413.75 732.1 L413.25 732.1 L412.75 732.1 L412.25 732.1 L411.75 732.1 L411.25 732.1 L410.75 732.1 L410.25 732.1 L409.75 732.1 L409.25 732.1 L408.75 732.1 L408.25 732.1 L407.75 732.1 L407.25 732.1 L406.75 732.1 L406.25 732.1 L405.75 732.1 L405.25 732.1 L404.75 732.1 L404.25 732.1 L403.75 732.1 L403.25 732.09 L402.75 732.09 L402.25 732.09 L401.75 732.09 L401.25 732.09 L400.75 732.09 L400.25 732.09 L399.75 732.09 L399.25 732.09 L398.75 732.09 L398.25 732.09 L397.75 732.09 L397.25 732.09 L396.75 732.09 L396.25 732.09 L395.75 732.09 L395.25 732.09 L394.75 732.09 L394.25 732.09 L393.75 732.09 L393.25 732.09 L392.75 732.09 L392.25 732.09 L391.75 732.09 L391.25 732.09 L390.75 732.09 L390.25 732.09 L389.75 732.09 L389.25 732.09 L388.75 732.09 L388.25 732.09 L387.75 732.09 L387.25 732.09 L386.75 732.09 L386.25 732.09 L385.75 732.09 L385.25 732.09 L384.75 732.09 L384.25 732.09 L383.75 732.09 L383.25 732.09 L382.75 732.09 L382.25 732.09 L381.75 732.09 L381.25 732.09 L380.75 732.09 L380.25 732.09 L379.75 732.09 L379.25 732.09 L378.75 732.09 L378.25 732.08 L377.75 732.08 L377.25 732.08 L376.75 732.08 L376.25 732.08 L375.75 732.08 L375.25 732.08 L374.75 732.08 L374.25 732.08 L373.75 732.08 L373.25 732.08 L372.75 732.08 L372.25 732.08 L371.75 732.08 L371.25 732.08 L370.75 732.08 L370.25 732.08 L369.75 732.08 L369.25 732.08 L368.75 732.08 L368.25 732.08 L367.75 732.08 L367.25 732.08 L366.75 732.07 L366.25 732.07 L365.75 732.07 L365.25 732.07 L364.75 732.07 L364.25 732.07 L363.75 732.07 L363.25 732.07 L362.75 732.07 L362.25 732.07 L361.75 732.07 L361.25 732.07 L360.75 732.07 L360.25 732.07 L359.75 732.07 L359.25 732.07 L358.75 732.06 L358.25 732.06 L357.75 732.06 L357.25 732.06 L356.75 732.06 L356.25 732.06 L355.75 732.06 L355.25 732.06 L354.75 732.06 L354.25 732.06 L353.75 732.06 L353.25 732.06 L352.75 732.05 L352.25 732.05 L351.75 732.05 L351.25 732.05 L350.75 732.05 L350.25 732.05 L349.75 732.05 L349.25 732.05 L348.75 732.05 L348.25 732.04 L347.75 732.04 L347.25 732.04 L346.75 732.04 L346.25 732.04 L345.75 732.04 L345.25 732.04 L344.75 732.04 L344.25 732.03 L343.75 732.03 L343.25 732.03 L342.75 732.03 L342.25 732.03 L341.75 732.03 L341.25 732.03 L340.75 732.02 L340.25 732.02 L339.75 732.02 L339.25 732.02 L338.75 732.02 L338.25 732.02 L337.75 732.01 L337.25 732.01 L336.75 732.01 L336.25 732.01 L335.75 732.01 L335.25 732.01 L334.75 732 L334.25 732 L333.75 732 L333.25 732 L332.75 732 L332.25 731.99 L331.75 731.99 L331.25 731.99 L330.75 731.99 L330.25 731.99 L329.75 731.98 L329.25 731.98 L328.75 731.98 L328.25 731.98 L327.75 731.97 L327.25 731.97 L326.75 731.97 L326.25 731.97 L325.75 731.96 L325.25 731.96 L324.75 731.96 L324.25 731.96 L323.75 731.95 L323.25 731.95 L322.75 731.95 L322.25 731.94 L321.75 731.94 L321.25 731.94 L320.75 731.94 L320.25 731.93 L319.75 731.93 L319.25 731.93 L318.75 731.92 L318.25 731.92 L317.75 731.92 L317.25 731.91 L316.75 731.91 L316.25 731.91 L315.75 731.9 L315.25 731.9 L314.75 731.9 L314.25 731.89 L313.75 731.89 L313.25 731.89 L312.75 731.88 L312.25 731.88 L311.75 731.88 L311.25 731.87 L310.75 731.87 L310.25 731.86 L309.75 731.86 L309.25 731.86 L308.75 731.85 L308.25 731.85 L307.75 731.84 L307.25 731.84 L306.75 731.84 L306.25 731.83 L305.75 731.83 L305.25 731.82 L304.75 731.82 L304.25 731.81 L303.75 731.81 L303.25 731.81 L302.75 731.8 L302.25 731.8 L301.75 731.79 L301.25 731.79 L300.75 731.78 L300.25 731.78 L299.75 731.77 L299.25 731.77 L298.75 731.76 L298.25 731.76 L297.75 731.76 L297.25 731.75 L296.75 731.75 L296.25 731.74 L295.75 731.74 L295.25 731.73 L294.75 731.73 L294.25 731.72 L293.75 731.72 L293.25 731.71 L292.75 731.71 L292.25 731.7 L291.75 731.7 L291.25 731.69 L290.75 731.69 L290.25 731.68 L289.75 731.68 L289.25 731.67 L288.75 731.67 L288.25 731.66 L287.75 731.66 L287.25 731.65 L286.75 731.65 L286.25 731.64 L285.75 731.64 L285.25 731.63 L284.75 731.63 L284.25 731.62 L283.75 731.62 L283.25 731.61 L282.75 731.61 L282.25 731.6 L281.75 731.6 L281.25 731.59 L280.75 731.59 L280.25 731.58 L279.75 731.58 L279.25 731.57 L278.75 731.57 L278.25 731.56 L277.75 731.56 L277.25 731.55 L276.75 731.55 L276.25 731.54 L275.75 731.54 L275.25 731.54 L274.75 731.53 L274.25 731.53 L273.75 731.52 L273.25 731.52 L272.75 731.51 L272.25 731.51 L271.75 731.5 L271.25 731.5 L270.75 731.49 L270.25 731.49 L269.75 731.49 L269.25 731.48 L268.75 731.48 L268.25 731.47 L267.75 731.47 L267.25 731.46 L266.75 731.46 L266.25 731.46 L265.75 731.45 L265.25 731.45 L264.75 731.44 L264.25 731.44 L263.75 731.44 L263.25 731.43 L262.75 731.43 L262.25 731.42 L261.75 731.42 L261.25 731.42 L260.75 731.41 L260.25 731.41 L259.75 731.41 L259.25 731.4 L258.75 731.4 L258.25 731.4 L257.75 731.39 L257.25 731.39 L256.75 731.39 L256.25 731.38 L255.75 731.38 L255.25 731.38 L254.75 731.37 L254.25 731.37 L253.75 731.37 L253.25 731.36 L252.75 731.36 L252.25 731.36 L251.75 731.36 L251.25 731.35 L250.75 731.35 L250.25 731.35 L249.75 731.34 L249.25 731.34 L248.75 731.34 L248.25 731.34 L247.75 731.33 L247.25 731.33 L246.75 731.33 L246.25 731.33 L245.75 731.32 L245.25 731.32 L244.75 731.32 L244.25 731.32 L243.75 731.31 L243.25 731.31 L242.75 731.31 L242.25 731.31 L241.75 731.31 L241.25 731.3 L240.75 731.3 L240.25 731.3 L239.75 731.3 L239.25 731.3 L238.75 731.29 L238.25 731.29 L237.75 731.29 L237.25 731.29 L236.75 731.29 L236.25 731.29 L235.75 731.28 L235.25 731.28 L234.75 731.28 L234.25 731.28 L233.75 731.28 L233.25 731.28 L232.75 731.27 L232.25 731.27 L231.75 731.27 L231.25 731.27 L230.75 731.27 L230.25 731.27 L229.75 731.27 L229.25 731.26 L228.75 731.26 L228.25 731.26 L227.75 731.26 L227.25 731.26 L226.75 731.26 L226.25 731.26 L225.75 731.26 L225.25 731.25 L224.75 731.25 L224.25 731.25 L223.75 731.25 L223.25 731.25 L222.75 731.25 L222.25 731.25 L221.75 731.25 L221.25 731.25 L220.75 731.24 L220.25 731.24 L219.75 731.24 L219.25 731.24 L218.75 731.24 L218.25 731.24 L217.75 731.24 L217.25 731.24 L216.75 731.24 L216.25 731.24 L215.75 731.24 L215.25 731.24 L214.75 731.23 L214.25 731.23 L213.75 731.23 L213.25 731.23 L212.75 731.23 L212.25 731.23 L211.75 731.23 L211.25 731.23 L210.75 731.23 L210.25 731.23 L209.75 731.23 L209.25 731.23 L208.75 731.23 L208.25 731.23 L207.75 731.23 L207.25 731.23 L206.75 731.22 L206.25 731.22 L205.75 731.22 L205.25 731.22 L204.75 731.22 L204.25 731.22 L203.75 731.22 L203.25 731.22 L202.75 731.22 L202.25 731.22 L201.75 731.22 L201.25 731.22 L200.75 731.22 L200.25 731.22 L199.75 731.22 L199.25 731.22 L198.75 731.22 L198.25 731.22 L197.75 731.22 L197.25 731.22 L196.75 731.22 L196.25 731.22 L195.75 731.22 L195.25 731.21 L194.75 731.21 L194.25 731.21 L193.75 731.21 L193.25 731.21 L192.75 731.21 L192.25 731.21 L191.75 731.21 L191.25 731.21 L190.75 731.21 L190.25 731.21 L189.75 731.21 L189.25 731.21 L188.75 731.21 L188.25 731.21 L187.75 731.21 L187.25 731.21 L186.75 731.21 L186.25 731.21 L185.75 731.21 L185.25 731.21 L184.75 731.21 L184.25 731.21 L183.75 731.21 L183.25 731.21 L182.75 731.21 L182.25 731.21 L181.75 731.21 L181.25 731.21 L180.75 731.21 L180.25 731.21 L179.75 731.21 L179.25 731.21 L178.75 731.21 L178.25 731.21 L177.75 731.21 L177.25 731.21 L176.75 731.21 L176.25 731.21 L175.75 731.21 L175.25 731.21 L174.75 731.21 L174.25 731.21 L173.75 731.21 L173.25 731.21 L172.75 731.21 L172.25 731.21 L171.75 731.21 L171.25 731.21 L170.75 731.21 L170.25 731.2 L169.75 731.2 L169.25 731.2 L168.75 731.2 L168.25 731.2 L167.75 731.2 L167.25 731.2 L166.75 731.2 L166.25 731.2 L165.75 731.2 L165.25 731.2 L164.75 731.2 L164.25 731.2 L163.75 731.2 L163.25 731.2 L162.75 731.2 L162.25 731.2 L161.75 731.2 L161.25 731.2 L160.75 731.2 L160.25 731.2 L159.75 731.2 L159.25 731.2 L158.75 731.2 L158.25 731.2 L157.75 731.2 L157.25 731.2 L156.75 731.2 L156.25 731.2 L155.75 731.2 L155.25 731.2 L154.75 731.2 L154.25 731.2 L153.75 731.2 L153.25 731.2 L152.75 731.2 L152.25 731.2 L151.75 731.2 L151.25 731.2 L150.75 731.2 L150.25 731.2 L149.75 731.2 L149.25 731.2 L148.75 731.2 L148.25 731.2 L147.75 731.2 L147.25 731.2 L146.75 731.2 L146.25 731.2 L145.75 731.2 L145.25 731.2 L144.75 731.2 L144.25 731.2 L143.75 731.2 L143.25 731.2 L142.75 731.2 L142.25 731.2 L141.75 731.2 L141.25 731.2 L140.75 731.2 L140.25 731.2 L139.75 731.2 L139.25 731.2 L138.75 731.2 L138.25 731.2 L137.75 731.2 L137.25 731.2 L136.75 731.2 L136.25 731.2 L135.75 731.2 L135.25 731.2 L134.75 731.2 L134.25 731.2 L133.75 731.2 L133.25 731.2 L132.75 731.2 L132.25 731.2 L131.75 731.2 L131.25 731.2 L130.75 731.2 L130.25 731.2 L129.75 731.2 L129.25 731.2 L128.75 731.2 L128.25 731.2 L127.75 731.2 L127.25 731.2 L126.75 731.2 L126.25 731.2 L125.75 731.2 L125.25 731.2 L124.75 731.2 L124.25 731.2 L123.75 731.2 L123.25 731.2 L122.75 731.2 L122.25 731.2 L121.75 731.2 L121.25 731.2 L120.75 731.2 L120.25 731.2 L119.75 731.2 L119.25 731.2 L118.75 731.2 L118.25 731.2 L117.75 731.2 L117.25 731.2 L116.75 731.2 L116.25 731.2 L115.75 731.2 L115.25 731.2 L114.75 731.2 L114.25 731.2 L113.75 731.2 L113.25 731.2 L112.75 731.2 L112.25 731.2 L111.75 731.2 L111.25 731.2 L110.75 731.2 L110.25 731.2 L109.75 731.2 L109.25 731.2 L108.75 731.2 L108.25 731.2 L107.75 731.2 L107.25 731.2 L106.75 731.2 L106.25 731.2 L105.75 731.2 L105.25 731.2 L104.75 731.2 L104.25 731.2 L103.75 731.2 L103.25 731.2 L102.75 731.2 L102.25 731.2 L101.75 731.2 L101.25 731.2 L100.75 731.2 L100.25 731.2 L99.75 731.2 L99.25 731.2 L98.75 731.2 L98.25 731.2 L97.75 731.2 L97.25 731.2 L96.75 731.2 L96.25 731.2 L95.75 731.2 L95.25 731.2 L94.75 731.2 L94.25 731.2 L93.75 731.2 L93.25 731.2 L92.75 731.2 L92.25 731.2 L91.75 731.2 L91.25 731.2 L90.75 731.2 L90.25 731.2 L89.75 731.2 L89.25 731.2 L88.75 731.2 L88.25 731.2 L87.75 731.2 L87.25 731.2 L86.75 731.2 L86.25 731.2 L85.75 731.2 L85.25 731.2 L84.75 731.2 L84.25 731.2 L83.75 731.2 L83.25 731.2 L82.75 731.2 L82.25 731.2 L81.75 731.2 L81.25 731.2 L80.75 731.2 L80.25 731.2 L79.75 731.2 L79.25 731.2Z" fill="#fee07d" stroke="none"/>
<path d="M79.25 731.2 L83.25 731.2 L87.25 731.2 L91.25 731.2 L95.25 731.2 L99.25 731.2 L103.25 731.2 L107.25 731.2 L111.25 731.2 L115.25 731.2 L119.25 731.2 L123.25 731.2 L127.25 731.2 L131.25 731.2 L135.25 731.2 L139.25 731.2 L143.25 731.2 L147.25 731.2 L151.25 731.2 L155.25 731.2 L159.25 731.2 L163.25 731.2 L167.25 731.2 L171.25 731.21 L175.25 731.21 L179.25 731.21 L183.25 731.21 L187.25 731.21 L191.25 731.21 L195.25 731.21 L199.25 731.22 L203.25 731.22 L207.25 731.23 L211.25 731.23 L215.25 731.24 L219.25 731.24 L223.25 731.25 L227.25 731.26 L231.25 731.27 L235.25 731.28 L239.25 731.3 L243.25 731.31 L247.25 731.33 L251.25 731.35 L255.25 731.38 L259.25 731.4 L263.25 731.43 L267.25 731.46 L271.25 731.5 L275.25 731.54 L279.25 731.57 L283.25 731.61 L287.25 731.65 L291.25 731.69 L295.25 731.73 L299.25 731.77 L303.25 731.81 L307.25 731.84 L311.25 731.87 L315.25 731.9 L319.25 731.93 L323.25 731.95 L327.25 731.97 L331.25 731.99 L335.25 732.01 L339.25 732.02 L343.25 732.03 L347.25 732.04 L351.25 732.05 L355.25 732.06 L359.25 732.07 L363.25 732.07 L367.25 732.08 L371.25 732.08 L375.25 732.08 L379.25 732.09 L383.25 732.09 L387.25 732.09 L391.25 732.09 L395.25 732.09 L399.25 732.09 L403.25 732.09 L407.25 732.1 L411.25 732.1 L415.25 732.1 L419.25 732.1 L423.25 732.1 L427.25 732.1 L431.25 732.1 L435.25 732.1 L439.25 732.1 L443.25 732.1 L447.25 732.1 L451.25 732.1 L455.25 732.1 L459.25 732.1 L463.25 732.1 L467.25 732.1 L471.25 732.1 L475.25 732.1 L479.25 732.1 L483.25 732.1 L487.25 732.1 L491.25 732.1" fill="none" stroke="#111" stroke-width="1.5" stroke-linejoin="round" stroke-dasharray="5 2.7"/>
<clipPath id="clipb"><rect x="79.25" y="562.8" width="415" height="176.6"/></clipPath><g clip-path="url(#clipb)">
<use href="#m" x="79.25" y="730.18"/>
<use href="#m" x="83.86" y="730.09"/>
<use href="#m" x="88.47" y="730"/>
<use href="#m" x="93.08" y="729.91"/>
<use href="#m" x="97.69" y="729.8"/>
<use href="#m" x="102.31" y="729.69"/>
<use href="#m" x="106.92" y="729.57"/>
<use href="#m" x="111.53" y="729.45"/>
<use href="#m" x="116.14" y="729.31"/>
<use href="#m" x="120.75" y="729.16"/>
<use href="#m" x="125.36" y="729"/>
<use href="#m" x="129.97" y="728.82"/>
<use href="#m" x="134.58" y="728.63"/>
<use href="#m" x="139.19" y="728.42"/>
<use href="#m" x="143.81" y="728.19"/>
<use href="#m" x="148.42" y="727.92"/>
<use href="#m" x="153.03" y="727.62"/>
<use href="#m" x="157.64" y="727.27"/>
<use href="#m" x="162.25" y="726.86"/>
<use href="#m" x="166.86" y="726.37"/>
<use href="#m" x="171.47" y="725.79"/>
<use href="#m" x="176.08" y="725.11"/>
<use href="#m" x="180.69" y="724.31"/>
<use href="#m" x="185.31" y="723.38"/>
<use href="#m" x="189.92" y="722.3"/>
<use href="#m" x="194.53" y="721.03"/>
<use href="#m" x="199.14" y="719.52"/>
<use href="#m" x="203.75" y="717.69"/>
<use href="#m" x="208.36" y="715.44"/>
<use href="#m" x="212.97" y="712.67"/>
<use href="#m" x="217.59" y="709.27"/>
<use href="#m" x="222.2" y="705.14"/>
<use href="#m" x="226.83" y="700.2"/>
<use href="#m" x="231.46" y="694.39"/>
<use href="#m" x="236.12" y="687.68"/>
<use href="#m" x="240.8" y="680.1"/>
<use href="#m" x="245.5" y="671.7"/>
<use href="#m" x="250.21" y="662.62"/>
<use href="#m" x="254.91" y="653.05"/>
<use href="#m" x="259.59" y="643.23"/>
<use href="#m" x="264.23" y="633.52"/>
<use href="#m" x="268.84" y="624.31"/>
<use href="#m" x="273.44" y="616.04"/>
<use href="#m" x="278.06" y="609.27"/>
<use href="#m" x="282.73" y="604.7"/>
<use href="#m" x="287.44" y="603.01"/>
<use href="#m" x="292.17" y="604.35"/>
<use href="#m" x="296.9" y="608.39"/>
<use href="#m" x="301.58" y="614.59"/>
<use href="#m" x="306.19" y="622.34"/>
<use href="#m" x="310.72" y="631.17"/>
<use href="#m" x="315.18" y="640.7"/>
<use href="#m" x="319.62" y="650.6"/>
<use href="#m" x="324.05" y="660.53"/>
<use href="#m" x="328.52" y="670.16"/>
<use href="#m" x="333.02" y="679.23"/>
<use href="#m" x="337.56" y="687.54"/>
<use href="#m" x="342.13" y="694.97"/>
<use href="#m" x="346.71" y="701.44"/>
<use href="#m" x="351.31" y="706.94"/>
<use href="#m" x="355.92" y="711.52"/>
<use href="#m" x="360.53" y="715.24"/>
<use href="#m" x="365.14" y="718.21"/>
<use href="#m" x="369.75" y="720.52"/>
<use href="#m" x="374.36" y="722.3"/>
<use href="#m" x="378.97" y="723.66"/>
<use href="#m" x="383.58" y="724.68"/>
<use href="#m" x="388.19" y="725.47"/>
<use href="#m" x="392.81" y="726.09"/>
<use href="#m" x="397.42" y="726.6"/>
<use href="#m" x="402.03" y="727.03"/>
<use href="#m" x="406.64" y="727.41"/>
<use href="#m" x="411.25" y="727.76"/>
<use href="#m" x="415.86" y="728.09"/>
<use href="#m" x="420.47" y="728.39"/>
<use href="#m" x="425.08" y="728.66"/>
<use href="#m" x="429.69" y="728.9"/>
<use href="#m" x="434.31" y="729.12"/>
<use href="#m" x="438.92" y="729.31"/>
<use href="#m" x="443.53" y="729.46"/>
<use href="#m" x="448.14" y="729.6"/>
<use href="#m" x="452.75" y="729.71"/>
<use href="#m" x="457.36" y="729.8"/>
<use href="#m" x="461.97" y="729.87"/>
<use href="#m" x="466.58" y="729.93"/>
<use href="#m" x="471.19" y="729.99"/>
<use href="#m" x="475.81" y="730.03"/>
<use href="#m" x="480.42" y="730.07"/>
<use href="#m" x="485.03" y="730.11"/>
<use href="#m" x="489.64" y="730.14"/>
<use href="#m" x="494.25" y="730.17"/>
<path d="M79.25 730.38 L79.75 730.37 L80.25 730.36 L80.75 730.35 L81.25 730.34 L81.75 730.33 L82.25 730.32 L82.75 730.32 L83.25 730.31 L83.75 730.3 L84.25 730.29 L84.75 730.28 L85.25 730.27 L85.75 730.26 L86.25 730.25 L86.75 730.24 L87.25 730.23 L87.75 730.22 L88.25 730.21 L88.75 730.2 L89.25 730.19 L89.75 730.18 L90.25 730.17 L90.75 730.16 L91.25 730.15 L91.75 730.14 L92.25 730.13 L92.75 730.11 L93.25 730.1 L93.75 730.09 L94.25 730.08 L94.75 730.07 L95.25 730.06 L95.75 730.05 L96.25 730.04 L96.75 730.03 L97.25 730.01 L97.75 730 L98.25 729.99 L98.75 729.98 L99.25 729.97 L99.75 729.96 L100.25 729.94 L100.75 729.93 L101.25 729.92 L101.75 729.91 L102.25 729.9 L102.75 729.88 L103.25 729.87 L103.75 729.86 L104.25 729.84 L104.75 729.83 L105.25 729.82 L105.75 729.81 L106.25 729.79 L106.75 729.78 L107.25 729.77 L107.75 729.75 L108.25 729.74 L108.75 729.73 L109.25 729.71 L109.75 729.7 L110.25 729.68 L110.75 729.67 L111.25 729.65 L111.75 729.64 L112.25 729.63 L112.75 729.61 L113.25 729.6 L113.75 729.58 L114.25 729.57 L114.75 729.55 L115.25 729.54 L115.75 729.52 L116.25 729.51 L116.75 729.49 L117.25 729.47 L117.75 729.46 L118.25 729.44 L118.75 729.43 L119.25 729.41 L119.75 729.39 L120.25 729.38 L120.75 729.36 L121.25 729.34 L121.75 729.33 L122.25 729.31 L122.75 729.29 L123.25 729.27 L123.75 729.26 L124.25 729.24 L124.75 729.22 L125.25 729.2 L125.75 729.19 L126.25 729.17 L126.75 729.15 L127.25 729.13 L127.75 729.11 L128.25 729.09 L128.75 729.07 L129.25 729.05 L129.75 729.03 L130.25 729.01 L130.75 728.99 L131.25 728.97 L131.75 728.95 L132.25 728.93 L132.75 728.91 L133.25 728.89 L133.75 728.87 L134.25 728.85 L134.75 728.83 L135.25 728.81 L135.75 728.78 L136.25 728.76 L136.75 728.74 L137.25 728.72 L137.75 728.69 L138.25 728.67 L138.75 728.65 L139.25 728.62 L139.75 728.6 L140.25 728.58 L140.75 728.55 L141.25 728.53 L141.75 728.5 L142.25 728.48 L142.75 728.45 L143.25 728.43 L143.75 728.4 L144.25 728.38 L144.75 728.35 L145.25 728.32 L145.75 728.3 L146.25 728.27 L146.75 728.24 L147.25 728.21 L147.75 728.19 L148.25 728.16 L148.75 728.13 L149.25 728.1 L149.75 728.07 L150.25 728.04 L150.75 728.01 L151.25 727.98 L151.75 727.95 L152.25 727.92 L152.75 727.89 L153.25 727.85 L153.75 727.82 L154.25 727.79 L154.75 727.76 L155.25 727.72 L155.75 727.69 L156.25 727.65 L156.75 727.62 L157.25 727.58 L157.75 727.55 L158.25 727.51 L158.75 727.47 L159.25 727.44 L159.75 727.4 L160.25 727.36 L160.75 727.32 L161.25 727.28 L161.75 727.24 L162.25 727.2 L162.75 727.16 L163.25 727.12 L163.75 727.07 L164.25 727.03 L164.75 726.99 L165.25 726.94 L165.75 726.9 L166.25 726.85 L166.75 726.8 L167.25 726.75 L167.75 726.71 L168.25 726.66 L168.75 726.61 L169.25 726.56 L169.75 726.5 L170.25 726.45 L170.75 726.4 L171.25 726.34 L171.75 726.29 L172.25 726.23 L172.75 726.17 L173.25 726.11 L173.75 726.05 L174.25 725.99 L174.75 725.93 L175.25 725.87 L175.75 725.8 L176.25 725.73 L176.75 725.67 L177.25 725.6 L177.75 725.53 L178.25 725.46 L178.75 725.38 L179.25 725.31 L179.75 725.23 L180.25 725.15 L180.75 725.08 L181.25 724.99 L181.75 724.91 L182.25 724.83 L182.75 724.74 L183.25 724.65 L183.75 724.56 L184.25 724.47 L184.75 724.38 L185.25 724.28 L185.75 724.18 L186.25 724.08 L186.75 723.98 L187.25 723.87 L187.75 723.76 L188.25 723.65 L188.75 723.54 L189.25 723.43 L189.75 723.31 L190.25 723.19 L190.75 723.06 L191.25 722.94 L191.75 722.81 L192.25 722.68 L192.75 722.54 L193.25 722.4 L193.75 722.26 L194.25 722.11 L194.75 721.97 L195.25 721.81 L195.75 721.66 L196.25 721.5 L196.75 721.33 L197.25 721.17 L197.75 720.99 L198.25 720.82 L198.75 720.64 L199.25 720.46 L199.75 720.27 L200.25 720.08 L200.75 719.88 L201.25 719.68 L201.75 719.47 L202.25 719.26 L202.75 719.04 L203.25 718.82 L203.75 718.59 L204.25 718.36 L204.75 718.12 L205.25 717.88 L205.75 717.63 L206.25 717.38 L206.75 717.12 L207.25 716.85 L207.75 716.58 L208.25 716.3 L208.75 716.02 L209.25 715.72 L209.75 715.43 L210.25 715.12 L210.75 714.81 L211.25 714.49 L211.75 714.17 L212.25 713.84 L212.75 713.5 L213.25 713.15 L213.75 712.8 L214.25 712.43 L214.75 712.07 L215.25 711.69 L215.75 711.3 L216.25 710.91 L216.75 710.51 L217.25 710.1 L217.75 709.68 L218.25 709.26 L218.75 708.82 L219.25 708.38 L219.75 707.92 L220.25 707.46 L220.75 706.99 L221.25 706.51 L221.75 706.03 L222.25 705.53 L222.75 705.02 L223.25 704.51 L223.75 703.98 L224.25 703.44 L224.75 702.9 L225.25 702.34 L225.75 701.78 L226.25 701.21 L226.75 700.62 L227.25 700.03 L227.75 699.42 L228.25 698.81 L228.75 698.18 L229.25 697.55 L229.75 696.91 L230.25 696.25 L230.75 695.59 L231.25 694.91 L231.75 694.22 L232.25 693.53 L232.75 692.82 L233.25 692.1 L233.75 691.38 L234.25 690.64 L234.75 689.89 L235.25 689.13 L235.75 688.37 L236.25 687.59 L236.75 686.8 L237.25 686 L237.75 685.19 L238.25 684.37 L238.75 683.54 L239.25 682.71 L239.75 681.86 L240.25 681 L240.75 680.13 L241.25 679.26 L241.75 678.37 L242.25 677.47 L242.75 676.57 L243.25 675.66 L243.75 674.73 L244.25 673.8 L244.75 672.87 L245.25 671.92 L245.75 670.96 L246.25 670 L246.75 669.03 L247.25 668.05 L247.75 667.06 L248.25 666.07 L248.75 665.07 L249.25 664.07 L249.75 663.06 L250.25 662.04 L250.75 661.01 L251.25 659.99 L251.75 658.95 L252.25 657.91 L252.75 656.87 L253.25 655.82 L253.75 654.77 L254.25 653.72 L254.75 652.66 L255.25 651.6 L255.75 650.54 L256.25 649.48 L256.75 648.42 L257.25 647.35 L257.75 646.29 L258.25 645.22 L258.75 644.16 L259.25 643.1 L259.75 642.03 L260.25 640.97 L260.75 639.92 L261.25 638.87 L261.75 637.82 L262.25 636.77 L262.75 635.73 L263.25 634.7 L263.75 633.67 L264.25 632.65 L264.75 631.64 L265.25 630.63 L265.75 629.63 L266.25 628.65 L266.75 627.67 L267.25 626.71 L267.75 625.75 L268.25 624.81 L268.75 623.88 L269.25 622.97 L269.75 622.07 L270.25 621.18 L270.75 620.32 L271.25 619.46 L271.75 618.63 L272.25 617.82 L272.75 617.02 L273.25 616.24 L273.75 615.49 L274.25 614.75 L274.75 614.04 L275.25 613.35 L275.75 612.68 L276.25 612.04 L276.75 611.43 L277.25 610.84 L277.75 610.27 L278.25 609.73 L278.75 609.22 L279.25 608.74 L279.75 608.29 L280.25 607.86 L280.75 607.47 L281.25 607.1 L281.75 606.77 L282.25 606.47 L282.75 606.19 L283.25 605.96 L283.75 605.75 L284.25 605.57 L284.75 605.43 L285.25 605.32 L285.75 605.24 L286.25 605.2 L286.75 605.19 L287.25 605.21 L287.75 605.25 L288.25 605.33 L288.75 605.43 L289.25 605.56 L289.75 605.72 L290.25 605.91 L290.75 606.13 L291.25 606.37 L291.75 606.64 L292.25 606.93 L292.75 607.26 L293.25 607.61 L293.75 607.99 L294.25 608.39 L294.75 608.82 L295.25 609.27 L295.75 609.75 L296.25 610.25 L296.75 610.78 L297.25 611.33 L297.75 611.91 L298.25 612.5 L298.75 613.12 L299.25 613.76 L299.75 614.43 L300.25 615.11 L300.75 615.82 L301.25 616.54 L301.75 617.28 L302.25 618.05 L302.75 618.83 L303.25 619.63 L303.75 620.44 L304.25 621.28 L304.75 622.13 L305.25 622.99 L305.75 623.87 L306.25 624.77 L306.75 625.68 L307.25 626.6 L307.75 627.53 L308.25 628.48 L308.75 629.44 L309.25 630.41 L309.75 631.39 L310.25 632.38 L310.75 633.38 L311.25 634.39 L311.75 635.41 L312.25 636.44 L312.75 637.47 L313.25 638.51 L313.75 639.56 L314.25 640.61 L314.75 641.67 L315.25 642.73 L315.75 643.79 L316.25 644.86 L316.75 645.94 L317.25 647.01 L317.75 648.09 L318.25 649.17 L318.75 650.25 L319.25 651.33 L319.75 652.41 L320.25 653.5 L320.75 654.58 L321.25 655.66 L321.75 656.74 L322.25 657.81 L322.75 658.89 L323.25 659.96 L323.75 661.03 L324.25 662.09 L324.75 663.16 L325.25 664.21 L325.75 665.27 L326.25 666.31 L326.75 667.36 L327.25 668.39 L327.75 669.43 L328.25 670.45 L328.75 671.47 L329.25 672.48 L329.75 673.49 L330.25 674.49 L330.75 675.48 L331.25 676.46 L331.75 677.43 L332.25 678.4 L332.75 679.36 L333.25 680.31 L333.75 681.25 L334.25 682.18 L334.75 683.1 L335.25 684.01 L335.75 684.91 L336.25 685.8 L336.75 686.69 L337.25 687.56 L337.75 688.42 L338.25 689.27 L338.75 690.12 L339.25 690.95 L339.75 691.77 L340.25 692.58 L340.75 693.37 L341.25 694.16 L341.75 694.94 L342.25 695.71 L342.75 696.46 L343.25 697.2 L343.75 697.94 L344.25 698.66 L344.75 699.37 L345.25 700.07 L345.75 700.75 L346.25 701.43 L346.75 702.1 L347.25 702.75 L347.75 703.39 L348.25 704.03 L348.75 704.65 L349.25 705.26 L349.75 705.86 L350.25 706.45 L350.75 707.02 L351.25 707.59 L351.75 708.15 L352.25 708.69 L352.75 709.22 L353.25 709.75 L353.75 710.26 L354.25 710.77 L354.75 711.26 L355.25 711.74 L355.75 712.22 L356.25 712.68 L356.75 713.13 L357.25 713.58 L357.75 714.01 L358.25 714.43 L358.75 714.85 L359.25 715.25 L359.75 715.65 L360.25 716.04 L360.75 716.42 L361.25 716.79 L361.75 717.15 L362.25 717.5 L362.75 717.85 L363.25 718.18 L363.75 718.51 L364.25 718.83 L364.75 719.14 L365.25 719.45 L365.75 719.74 L366.25 720.03 L366.75 720.31 L367.25 720.59 L367.75 720.86 L368.25 721.12 L368.75 721.37 L369.25 721.62 L369.75 721.86 L370.25 722.09 L370.75 722.32 L371.25 722.54 L371.75 722.76 L372.25 722.97 L372.75 723.17 L373.25 723.37 L373.75 723.56 L374.25 723.75 L374.75 723.93 L375.25 724.11 L375.75 724.28 L376.25 724.45 L376.75 724.61 L377.25 724.77 L377.75 724.92 L378.25 725.07 L378.75 725.22 L379.25 725.36 L379.75 725.49 L380.25 725.62 L380.75 725.75 L381.25 725.88 L381.75 726 L382.25 726.11 L382.75 726.23 L383.25 726.34 L383.75 726.44 L384.25 726.55 L384.75 726.65 L385.25 726.74 L385.75 726.84 L386.25 726.93 L386.75 727.02 L387.25 727.1 L387.75 727.19 L388.25 727.27 L388.75 727.34 L389.25 727.42 L389.75 727.49 L390.25 727.56 L390.75 727.63 L391.25 727.7 L391.75 727.76 L392.25 727.83 L392.75 727.89 L393.25 727.94 L393.75 728 L394.25 728.06 L394.75 728.11 L395.25 728.16 L395.75 728.21 L396.25 728.26 L396.75 728.31 L397.25 728.35 L397.75 728.4 L398.25 728.44 L398.75 728.48 L399.25 728.52 L399.75 728.56 L400.25 728.6 L400.75 728.63 L401.25 728.67 L401.75 728.71 L402.25 728.74 L402.75 728.77 L403.25 728.8 L403.75 728.83 L404.25 728.86 L404.75 728.89 L405.25 728.92 L405.75 728.95 L406.25 728.97 L406.75 729 L407.25 729.02 L407.75 729.05 L408.25 729.07 L408.75 729.1 L409.25 729.12 L409.75 729.14 L410.25 729.16 L410.75 729.18 L411.25 729.2 L411.75 729.22 L412.25 729.24 L412.75 729.26 L413.25 729.28 L413.75 729.3 L414.25 729.31 L414.75 729.33 L415.25 729.35 L415.75 729.36 L416.25 729.38 L416.75 729.39 L417.25 729.41 L417.75 729.42 L418.25 729.44 L418.75 729.45 L419.25 729.47 L419.75 729.48 L420.25 729.49 L420.75 729.51 L421.25 729.52 L421.75 729.53 L422.25 729.54 L422.75 729.56 L423.25 729.57 L423.75 729.58 L424.25 729.59 L424.75 729.6 L425.25 729.61 L425.75 729.62 L426.25 729.63 L426.75 729.64 L427.25 729.65 L427.75 729.66 L428.25 729.67 L428.75 729.68 L429.25 729.69 L429.75 729.7 L430.25 729.71 L430.75 729.72 L431.25 729.73 L431.75 729.74 L432.25 729.75 L432.75 729.76 L433.25 729.76 L433.75 729.77 L434.25 729.78 L434.75 729.79 L435.25 729.8 L435.75 729.81 L436.25 729.81 L436.75 729.82 L437.25 729.83 L437.75 729.84 L438.25 729.84 L438.75 729.85 L439.25 729.86 L439.75 729.87 L440.25 729.87 L440.75 729.88 L441.25 729.89 L441.75 729.89 L442.25 729.9 L442.75 729.91 L443.25 729.92 L443.75 729.92 L444.25 729.93 L444.75 729.93 L445.25 729.94 L445.75 729.95 L446.25 729.95 L446.75 729.96 L447.25 729.97 L447.75 729.97 L448.25 729.98 L448.75 729.98 L449.25 729.99 L449.75 730 L450.25 730 L450.75 730.01 L451.25 730.01 L451.75 730.02 L452.25 730.03 L452.75 730.03 L453.25 730.04 L453.75 730.04 L454.25 730.05 L454.75 730.05 L455.25 730.06 L455.75 730.06 L456.25 730.07 L456.75 730.07 L457.25 730.08 L457.75 730.08 L458.25 730.09 L458.75 730.09 L459.25 730.1 L459.75 730.1 L460.25 730.11 L460.75 730.11 L461.25 730.12 L461.75 730.12 L462.25 730.13 L462.75 730.13 L463.25 730.14 L463.75 730.14 L464.25 730.15 L464.75 730.15 L465.25 730.16 L465.75 730.16 L466.25 730.17 L466.75 730.17 L467.25 730.17 L467.75 730.18 L468.25 730.18 L468.75 730.19 L469.25 730.19 L469.75 730.2 L470.25 730.2 L470.75 730.2 L471.25 730.21 L471.75 730.21 L472.25 730.22 L472.75 730.22 L473.25 730.23 L473.75 730.23 L474.25 730.23 L474.75 730.24 L475.25 730.24 L475.75 730.24 L476.25 730.25 L476.75 730.25 L477.25 730.26 L477.75 730.26 L478.25 730.26 L478.75 730.27 L479.25 730.27 L479.75 730.27 L480.25 730.28 L480.75 730.28 L481.25 730.29 L481.75 730.29 L482.25 730.29 L482.75 730.3 L483.25 730.3 L483.75 730.3 L484.25 730.31 L484.75 730.31 L485.25 730.31 L485.75 730.32 L486.25 730.32 L486.75 730.32 L487.25 730.33 L487.75 730.33 L488.25 730.33 L488.75 730.34 L489.25 730.34 L489.75 730.34 L490.25 730.35 L490.75 730.35 L491.25 730.35 L491.75 730.36 L492.25 730.36 L492.75 730.36 L493.25 730.36 L493.75 730.37 L494.25 730.37" fill="none" stroke="#e3101c" stroke-width="1.9" stroke-linejoin="round" />
</g>
<rect x="79.25" y="562.8" width="415" height="176.6" fill="none" stroke="#111" stroke-width="1.7"/>
<line x1="73.25" y1="739.4" x2="79.25" y2="739.4" stroke="#111" stroke-width="1.4" />
<line x1="488.25" y1="739.4" x2="494.25" y2="739.4" stroke="#111" stroke-width="1.4" />
<text x="0" y="0" font-size="17.8" text-anchor="end" font-weight="normal" font-style="normal" fill="#111" transform="translate(67.85 744.7) scale(1.09 1)" >0</text>
<line x1="76.05" y1="730.13" x2="79.25" y2="730.13" stroke="#111" stroke-width="1.4" />
<line x1="491.05" y1="730.13" x2="494.25" y2="730.13" stroke="#111" stroke-width="1.4" />
<line x1="73.25" y1="720.87" x2="79.25" y2="720.87" stroke="#111" stroke-width="1.4" />
<line x1="488.25" y1="720.87" x2="494.25" y2="720.87" stroke="#111" stroke-width="1.4" />
<text x="0" y="0" font-size="17.8" text-anchor="end" font-weight="normal" font-style="normal" fill="#111" transform="translate(67.05 726.17) scale(1.09 1)" >1.0</text>
<line x1="76.05" y1="711.61" x2="79.25" y2="711.61" stroke="#111" stroke-width="1.4" />
<line x1="491.05" y1="711.61" x2="494.25" y2="711.61" stroke="#111" stroke-width="1.4" />
<line x1="73.25" y1="702.34" x2="79.25" y2="702.34" stroke="#111" stroke-width="1.4" />
<line x1="488.25" y1="702.34" x2="494.25" y2="702.34" stroke="#111" stroke-width="1.4" />
<text x="0" y="0" font-size="17.8" text-anchor="end" font-weight="normal" font-style="normal" fill="#111" transform="translate(67.05 707.64) scale(1.09 1)" >2.0</text>
<line x1="76.05" y1="693.07" x2="79.25" y2="693.07" stroke="#111" stroke-width="1.4" />
<line x1="491.05" y1="693.07" x2="494.25" y2="693.07" stroke="#111" stroke-width="1.4" />
<line x1="73.25" y1="683.81" x2="79.25" y2="683.81" stroke="#111" stroke-width="1.4" />
<line x1="488.25" y1="683.81" x2="494.25" y2="683.81" stroke="#111" stroke-width="1.4" />
<text x="0" y="0" font-size="17.8" text-anchor="end" font-weight="normal" font-style="normal" fill="#111" transform="translate(67.05 689.11) scale(1.09 1)" >3.0</text>
<line x1="76.05" y1="674.54" x2="79.25" y2="674.54" stroke="#111" stroke-width="1.4" />
<line x1="491.05" y1="674.54" x2="494.25" y2="674.54" stroke="#111" stroke-width="1.4" />
<line x1="73.25" y1="665.28" x2="79.25" y2="665.28" stroke="#111" stroke-width="1.4" />
<line x1="488.25" y1="665.28" x2="494.25" y2="665.28" stroke="#111" stroke-width="1.4" />
<text x="0" y="0" font-size="17.8" text-anchor="end" font-weight="normal" font-style="normal" fill="#111" transform="translate(67.05 670.58) scale(1.09 1)" >4.0</text>
<line x1="76.05" y1="656.01" x2="79.25" y2="656.01" stroke="#111" stroke-width="1.4" />
<line x1="491.05" y1="656.01" x2="494.25" y2="656.01" stroke="#111" stroke-width="1.4" />
<line x1="73.25" y1="646.75" x2="79.25" y2="646.75" stroke="#111" stroke-width="1.4" />
<line x1="488.25" y1="646.75" x2="494.25" y2="646.75" stroke="#111" stroke-width="1.4" />
<text x="0" y="0" font-size="17.8" text-anchor="end" font-weight="normal" font-style="normal" fill="#111" transform="translate(67.05 652.05) scale(1.09 1)" >5.0</text>
<line x1="76.05" y1="637.49" x2="79.25" y2="637.49" stroke="#111" stroke-width="1.4" />
<line x1="491.05" y1="637.49" x2="494.25" y2="637.49" stroke="#111" stroke-width="1.4" />
<line x1="73.25" y1="628.22" x2="79.25" y2="628.22" stroke="#111" stroke-width="1.4" />
<line x1="488.25" y1="628.22" x2="494.25" y2="628.22" stroke="#111" stroke-width="1.4" />
<text x="0" y="0" font-size="17.8" text-anchor="end" font-weight="normal" font-style="normal" fill="#111" transform="translate(67.05 633.52) scale(1.09 1)" >6.0</text>
<line x1="76.05" y1="618.95" x2="79.25" y2="618.95" stroke="#111" stroke-width="1.4" />
<line x1="491.05" y1="618.95" x2="494.25" y2="618.95" stroke="#111" stroke-width="1.4" />
<line x1="73.25" y1="609.69" x2="79.25" y2="609.69" stroke="#111" stroke-width="1.4" />
<line x1="488.25" y1="609.69" x2="494.25" y2="609.69" stroke="#111" stroke-width="1.4" />
<text x="0" y="0" font-size="17.8" text-anchor="end" font-weight="normal" font-style="normal" fill="#111" transform="translate(67.05 614.99) scale(1.09 1)" >7.0</text>
<line x1="76.05" y1="600.42" x2="79.25" y2="600.42" stroke="#111" stroke-width="1.4" />
<line x1="491.05" y1="600.42" x2="494.25" y2="600.42" stroke="#111" stroke-width="1.4" />
<line x1="73.25" y1="591.16" x2="79.25" y2="591.16" stroke="#111" stroke-width="1.4" />
<line x1="488.25" y1="591.16" x2="494.25" y2="591.16" stroke="#111" stroke-width="1.4" />
<text x="0" y="0" font-size="17.8" text-anchor="end" font-weight="normal" font-style="normal" fill="#111" transform="translate(67.05 596.46) scale(1.09 1)" >8.0</text>
<line x1="79.25" y1="739.4" x2="79.25" y2="745.9" stroke="#111" stroke-width="1.4" />
<line x1="79.25" y1="562.8" x2="79.25" y2="569.3" stroke="#111" stroke-width="1.4" />
<text x="79.25" y="763.6" font-size="18" text-anchor="middle" font-weight="normal" font-style="normal" fill="#111" >1076</text>
<line x1="102.31" y1="739.4" x2="102.31" y2="742.9" stroke="#111" stroke-width="1.4" />
<line x1="102.31" y1="562.8" x2="102.31" y2="566.3" stroke="#111" stroke-width="1.4" />
<line x1="125.36" y1="739.4" x2="125.36" y2="742.9" stroke="#111" stroke-width="1.4" />
<line x1="125.36" y1="562.8" x2="125.36" y2="566.3" stroke="#111" stroke-width="1.4" />
<line x1="148.42" y1="739.4" x2="148.42" y2="742.9" stroke="#111" stroke-width="1.4" />
<line x1="148.42" y1="562.8" x2="148.42" y2="566.3" stroke="#111" stroke-width="1.4" />
<line x1="171.47" y1="739.4" x2="171.47" y2="745.9" stroke="#111" stroke-width="1.4" />
<line x1="171.47" y1="562.8" x2="171.47" y2="569.3" stroke="#111" stroke-width="1.4" />
<text x="171.47" y="763.6" font-size="18" text-anchor="middle" font-weight="normal" font-style="normal" fill="#111" >1074</text>
<line x1="194.53" y1="739.4" x2="194.53" y2="742.9" stroke="#111" stroke-width="1.4" />
<line x1="194.53" y1="562.8" x2="194.53" y2="566.3" stroke="#111" stroke-width="1.4" />
<line x1="217.58" y1="739.4" x2="217.58" y2="742.9" stroke="#111" stroke-width="1.4" />
<line x1="217.58" y1="562.8" x2="217.58" y2="566.3" stroke="#111" stroke-width="1.4" />
<line x1="240.64" y1="739.4" x2="240.64" y2="742.9" stroke="#111" stroke-width="1.4" />
<line x1="240.64" y1="562.8" x2="240.64" y2="566.3" stroke="#111" stroke-width="1.4" />
<line x1="263.69" y1="739.4" x2="263.69" y2="745.9" stroke="#111" stroke-width="1.4" />
<line x1="263.69" y1="562.8" x2="263.69" y2="569.3" stroke="#111" stroke-width="1.4" />
<text x="263.69" y="763.6" font-size="18" text-anchor="middle" font-weight="normal" font-style="normal" fill="#111" >1072</text>
<line x1="286.75" y1="739.4" x2="286.75" y2="742.9" stroke="#111" stroke-width="1.4" />
<line x1="286.75" y1="562.8" x2="286.75" y2="566.3" stroke="#111" stroke-width="1.4" />
<line x1="309.81" y1="739.4" x2="309.81" y2="742.9" stroke="#111" stroke-width="1.4" />
<line x1="309.81" y1="562.8" x2="309.81" y2="566.3" stroke="#111" stroke-width="1.4" />
<line x1="332.86" y1="739.4" x2="332.86" y2="742.9" stroke="#111" stroke-width="1.4" />
<line x1="332.86" y1="562.8" x2="332.86" y2="566.3" stroke="#111" stroke-width="1.4" />
<line x1="355.92" y1="739.4" x2="355.92" y2="745.9" stroke="#111" stroke-width="1.4" />
<line x1="355.92" y1="562.8" x2="355.92" y2="569.3" stroke="#111" stroke-width="1.4" />
<text x="355.92" y="763.6" font-size="18" text-anchor="middle" font-weight="normal" font-style="normal" fill="#111" >1070</text>
<line x1="378.97" y1="739.4" x2="378.97" y2="742.9" stroke="#111" stroke-width="1.4" />
<line x1="378.97" y1="562.8" x2="378.97" y2="566.3" stroke="#111" stroke-width="1.4" />
<line x1="402.03" y1="739.4" x2="402.03" y2="742.9" stroke="#111" stroke-width="1.4" />
<line x1="402.03" y1="562.8" x2="402.03" y2="566.3" stroke="#111" stroke-width="1.4" />
<line x1="425.08" y1="739.4" x2="425.08" y2="742.9" stroke="#111" stroke-width="1.4" />
<line x1="425.08" y1="562.8" x2="425.08" y2="566.3" stroke="#111" stroke-width="1.4" />
<line x1="448.14" y1="739.4" x2="448.14" y2="745.9" stroke="#111" stroke-width="1.4" />
<line x1="448.14" y1="562.8" x2="448.14" y2="569.3" stroke="#111" stroke-width="1.4" />
<text x="448.14" y="763.6" font-size="18" text-anchor="middle" font-weight="normal" font-style="normal" fill="#111" >1068</text>
<line x1="471.19" y1="739.4" x2="471.19" y2="742.9" stroke="#111" stroke-width="1.4" />
<line x1="471.19" y1="562.8" x2="471.19" y2="566.3" stroke="#111" stroke-width="1.4" />
<line x1="494.25" y1="739.4" x2="494.25" y2="742.9" stroke="#111" stroke-width="1.4" />
<line x1="494.25" y1="562.8" x2="494.25" y2="566.3" stroke="#111" stroke-width="1.4" />
<text transform="translate(24.2 766.8) rotate(-90) scale(1 1.1)" font-size="20.4" font-weight="bold" fill="#111">Intensity</text>
<text transform="translate(24.2 663.6) rotate(-90) scale(1 1.1)" font-size="20.4" font-weight="bold" fill="#111">[10</text>
<text transform="translate(14.5 634.6) rotate(-90) scale(1 0.95)" font-size="15" font-weight="bold" fill="#111">5</text>
<text transform="translate(24.2 616.6) rotate(-90) scale(1 1.1)" font-size="20.4" font-weight="bold" fill="#111">cps]</text>
<text x="184.2" y="794.2" font-size="20.6" text-anchor="start" font-weight="bold" font-style="normal" fill="#111" >Binding Energy [eV]</text>
<text x="9" y="561.2" font-size="46.6" text-anchor="start" font-weight="bold" font-style="normal" fill="#111" >b</text>
<text x="0" y="0" font-size="17" text-anchor="start" font-weight="normal" font-style="italic" fill="#111" transform="translate(88.9 557.6) scale(0.91 1)" >Residuals</text>
<text x="0" y="0" font-size="17" text-anchor="start" font-weight="normal" font-style="italic" fill="#111" transform="translate(167.2 557.6) scale(0.91 1)" >(</text>
<text x="0" y="0" font-size="17" text-anchor="start" font-weight="normal" font-style="italic" fill="#111" transform="translate(173.6 557.6) scale(0.91 1)" >&#963;</text>
<text x="0" y="0" font-size="17" text-anchor="start" font-weight="normal" font-style="italic" fill="#111" transform="translate(187.8 557.6) scale(0.91 1)" >=</text>
<text x="0" y="0" font-size="17" text-anchor="start" font-weight="normal" font-style="italic" fill="#111" transform="translate(202.4 557.6) scale(0.91 1)" >0.049</text>
<text x="0" y="0" font-size="14.5" text-anchor="start" font-weight="normal" font-style="italic" fill="#111" transform="translate(250 557.4) scale(0.95 1)" >&#215;</text>
<text x="0" y="0" font-size="17" text-anchor="start" font-weight="normal" font-style="italic" fill="#111" transform="translate(264.3 557.6) scale(0.91 1)" >10</text>
<text x="0" y="0" font-size="11.5" text-anchor="start" font-weight="normal" font-style="italic" fill="#111" transform="translate(282.3 551) scale(0.91 1)" >5</text>
<text x="0" y="0" font-size="17" text-anchor="start" font-weight="normal" font-style="italic" fill="#111" transform="translate(293.6 557.6) scale(0.91 1)" >cps</text>
<text x="0" y="0" font-size="17" text-anchor="start" font-weight="normal" font-style="italic" fill="#111" transform="translate(320 557.6) scale(0.91 1)" >)</text>
<use href="#m" x="98" y="604.1"/>
<text x="113.2" y="610.6" font-size="16" text-anchor="start" font-weight="normal" font-style="normal" fill="#111" >Na 1s Raw</text>
<rect x="89.6" y="618.8" width="16.8" height="16.8" fill="#fdd97a" stroke="#c39a45" stroke-width="1.3"/>
<text x="113.2" y="632.6" font-size="16" text-anchor="start" font-weight="normal" font-style="normal" fill="#111" >Na 1s Fit</text>
<text x="185.2" y="632.6" font-size="16" text-anchor="start" font-weight="normal" font-style="normal" fill="#111" >(1071.5 )</text>
<line x1="87.5" y1="647.9" x2="107.5" y2="647.9" stroke="#e3101c" stroke-width="1.7" />
<text x="0" y="0" font-size="16" text-anchor="start" font-weight="normal" font-style="normal" fill="#111" transform="translate(113.2 654.6) scale(0.97 1)" >Envelope</text>
<line x1="87.5" y1="670.6" x2="107.5" y2="670.6" stroke="#111" stroke-width="1.3" stroke-dasharray="5.4 1.9"/>
<text x="0" y="0" font-size="16" text-anchor="start" font-weight="normal" font-style="normal" fill="#111" transform="translate(113.2 676.4) scale(0.98 1)" >Background</text>
<rect x="79.25" y="849.8" width="415" height="14.3" fill="#f0f0f0"/>
<rect x="79.25" y="864.1" width="415" height="13.6" fill="#f7f7f7"/>
<path d="M79.25 864.1 L81.25 864.1 L83.25 864.1 L85.25 864.1 L87.25 864.1 L89.25 864.1 L91.25 864.1 L93.25 864.1 L95.25 864.1 L97.25 864.1 L99.25 864.1 L101.25 864.1 L103.25 864.1 L105.25 864.1 L107.25 864.1 L109.25 864.1 L111.25 864.1 L113.25 864.1 L115.25 864.1 L117.25 864.1 L119.25 864.1 L121.25 864.1 L123.25 864.1 L125.25 864.1 L127.25 864.1 L129.25 864.1 L131.25 864.1 L133.25 864.1 L135.25 864.1 L137.25 864.1 L139.25 864.1 L141.25 864.1 L143.25 864.1 L145.25 864.08 L147.25 864.07 L149.25 864.04 L151.25 864.01 L153.25 863.98 L155.25 863.94 L157.25 863.9 L159.25 863.86 L161.25 863.81 L163.25 863.76 L165.25 863.71 L167.25 863.67 L169.25 863.62 L171.25 863.57 L173.25 863.51 L175.25 863.44 L177.25 863.37 L179.25 863.28 L181.25 863.2 L183.25 863.11 L185.25 863.02 L187.25 862.93 L189.25 862.84 L191.25 862.76 L193.25 862.68 L195.25 862.61 L197.25 862.55 L199.25 862.49 L201.25 862.44 L203.25 862.39 L205.25 862.34 L207.25 862.29 L209.25 862.24 L211.25 862.2 L213.25 862.16 L215.25 862.13 L217.25 862.11 L219.25 862.1 L221.25 862.1 L223.25 862.11 L225.25 862.11 L227.25 862.13 L229.25 862.14 L231.25 862.16 L233.25 862.19 L235.25 862.22 L237.25 862.25 L239.25 862.29 L241.25 862.35 L243.25 862.55 L245.25 862.85 L247.25 863.21 L249.25 863.61 L251.25 864 L253.25 864.35 L255.25 864.63 L257.25 864.89 L259.25 865.16 L261.25 865.39 L263.25 865.55 L265.25 865.6 L267.25 865.56 L269.25 865.47 L271.25 865.35 L273.25 865.19 L275.25 865.03 L277.25 864.86 L279.25 864.7 L281.25 864.52 L283.25 864.32 L285.25 864.11 L287.25 863.87 L289.25 863.6 L291.25 863.28 L293.25 862.79 L295.25 862.25 L297.25 861.81 L299.25 861.6 L301.25 861.63 L303.25 861.74 L305.25 861.91 L307.25 862.13 L309.25 862.38 L311.25 862.65 L313.25 862.92 L315.25 863.18 L317.25 863.42 L319.25 863.63 L321.25 863.87 L323.25 864.14 L325.25 864.4 L327.25 864.67 L329.25 864.93 L331.25 865.15 L333.25 865.35 L335.25 865.49 L337.25 865.58 L339.25 865.6 L341.25 865.55 L343.25 865.45 L345.25 865.32 L347.25 865.15 L349.25 864.96 L351.25 864.76 L353.25 864.57 L355.25 864.38 L357.25 864.15 L359.25 863.87 L361.25 863.55 L363.25 863.23 L365.25 862.93 L367.25 862.68 L369.25 862.49 L371.25 862.4 L373.25 862.4 L375.25 862.4 L377.25 862.4 L379.25 862.4 L381.25 862.4 L383.25 862.4 L385.25 862.4 L387.25 862.4 L389.25 862.4 L391.25 862.4 L393.25 862.4 L395.25 862.43 L397.25 862.49 L399.25 862.56 L401.25 862.66 L403.25 862.77 L405.25 862.88 L407.25 863.01 L409.25 863.13 L411.25 863.24 L413.25 863.35 L415.25 863.44 L417.25 863.51 L419.25 863.57 L421.25 863.64 L423.25 863.71 L425.25 863.77 L427.25 863.84 L429.25 863.9 L431.25 863.97 L433.25 864.02 L435.25 864.08 L437.25 864.13 L439.25 864.18 L441.25 864.22 L443.25 864.25 L445.25 864.27 L447.25 864.29 L449.25 864.3 L451.25 864.3 L453.25 864.3 L455.25 864.3 L457.25 864.3 L459.25 864.3 L461.25 864.3 L463.25 864.3 L465.25 864.3 L467.25 864.3 L469.25 864.3 L471.25 864.3 L473.25 864.3 L475.25 864.3 L477.25 864.3 L479.25 864.3 L481.25 864.3 L483.25 864.3 L485.25 864.3 L487.25 864.3 L489.25 864.3 L491.25 864.3 L493.25 864.3" fill="none" stroke="#111" stroke-width="1.6" stroke-linejoin="round" />
<path d="M79.25 1016.4 L79.75 1016.4 L80.25 1016.4 L80.75 1016.4 L81.25 1016.4 L81.75 1016.4 L82.25 1016.4 L82.75 1016.4 L83.25 1016.4 L83.75 1016.4 L84.25 1016.4 L84.75 1016.4 L85.25 1016.4 L85.75 1016.4 L86.25 1016.4 L86.75 1016.4 L87.25 1016.4 L87.75 1016.4 L88.25 1016.4 L88.75 1016.4 L89.25 1016.4 L89.75 1016.4 L90.25 1016.4 L90.75 1016.4 L91.25 1016.4 L91.75 1016.4 L92.25 1016.4 L92.75 1016.4 L93.25 1016.4 L93.75 1016.4 L94.25 1016.4 L94.75 1016.4 L95.25 1016.4 L95.75 1016.4 L96.25 1016.4 L96.75 1016.4 L97.25 1016.4 L97.75 1016.4 L98.25 1016.4 L98.75 1016.4 L99.25 1016.4 L99.75 1016.4 L100.25 1016.4 L100.75 1016.4 L101.25 1016.4 L101.75 1016.4 L102.25 1016.4 L102.75 1016.4 L103.25 1016.4 L103.75 1016.4 L104.25 1016.4 L104.75 1016.4 L105.25 1016.4 L105.75 1016.4 L106.25 1016.4 L106.75 1016.4 L107.25 1016.4 L107.75 1016.4 L108.25 1016.4 L108.75 1016.4 L109.25 1016.4 L109.75 1016.4 L110.25 1016.4 L110.75 1016.4 L111.25 1016.4 L111.75 1016.4 L112.25 1016.4 L112.75 1016.4 L113.25 1016.4 L113.75 1016.4 L114.25 1016.4 L114.75 1016.4 L115.25 1016.4 L115.75 1016.4 L116.25 1016.4 L116.75 1016.4 L117.25 1016.4 L117.75 1016.4 L118.25 1016.4 L118.75 1016.4 L119.25 1016.4 L119.75 1016.4 L120.25 1016.4 L120.75 1016.4 L121.25 1016.4 L121.75 1016.4 L122.25 1016.4 L122.75 1016.4 L123.25 1016.4 L123.75 1016.4 L124.25 1016.4 L124.75 1016.4 L125.25 1016.4 L125.75 1016.4 L126.25 1016.4 L126.75 1016.4 L127.25 1016.4 L127.75 1016.4 L128.25 1016.4 L128.75 1016.4 L129.25 1016.4 L129.75 1016.4 L130.25 1016.4 L130.75 1016.4 L131.25 1016.4 L131.75 1016.4 L132.25 1016.4 L132.75 1016.4 L133.25 1016.4 L133.75 1016.4 L134.25 1016.4 L134.75 1016.4 L135.25 1016.4 L135.75 1016.4 L136.25 1016.4 L136.75 1016.4 L137.25 1016.4 L137.75 1016.4 L138.25 1016.4 L138.75 1016.4 L139.25 1016.4 L139.75 1016.4 L140.25 1016.4 L140.75 1016.4 L141.25 1016.4 L141.75 1016.4 L142.25 1016.4 L142.75 1016.39 L143.25 1016.38 L143.75 1016.36 L144.25 1016.35 L144.75 1016.34 L145.25 1016.33 L145.75 1016.32 L146.25 1016.3 L146.75 1016.29 L147.25 1016.28 L147.75 1016.27 L148.25 1016.26 L148.75 1016.24 L149.25 1016.23 L149.75 1016.22 L150.25 1016.2 L150.75 1016.19 L151.25 1016.18 L151.75 1016.16 L152.25 1016.15 L152.75 1016.14 L153.25 1016.12 L153.75 1016.11 L154.25 1016.1 L154.75 1016.08 L155.25 1016.07 L155.75 1016.05 L156.25 1016.04 L156.75 1016.02 L157.25 1016.01 L157.75 1015.99 L158.25 1015.98 L158.75 1015.96 L159.25 1015.95 L159.75 1015.93 L160.25 1015.92 L160.75 1015.9 L161.25 1015.88 L161.75 1015.87 L162.25 1015.85 L162.75 1015.84 L163.25 1015.82 L163.75 1015.8 L164.25 1015.78 L164.75 1015.77 L165.25 1015.75 L165.75 1015.73 L166.25 1015.72 L166.75 1015.7 L167.25 1015.68 L167.75 1015.66 L168.25 1015.64 L168.75 1015.62 L169.25 1015.61 L169.75 1015.59 L170.25 1015.57 L170.75 1015.55 L171.25 1015.53 L171.75 1015.51 L172.25 1015.49 L172.75 1015.47 L173.25 1015.45 L173.75 1015.43 L174.25 1015.41 L174.75 1015.39 L175.25 1015.36 L175.75 1015.34 L176.25 1015.32 L176.75 1015.3 L177.25 1015.28 L177.75 1015.25 L178.25 1015.23 L178.75 1015.21 L179.25 1015.19 L179.75 1015.16 L180.25 1015.14 L180.75 1015.11 L181.25 1015.09 L181.75 1015.06 L182.25 1015.04 L182.75 1015.01 L183.25 1014.99 L183.75 1014.96 L184.25 1014.94 L184.75 1014.91 L185.25 1014.88 L185.75 1014.86 L186.25 1014.83 L186.75 1014.8 L187.25 1014.77 L187.75 1014.75 L188.25 1014.72 L188.75 1014.69 L189.25 1014.66 L189.75 1014.63 L190.25 1014.6 L190.75 1014.57 L191.25 1014.54 L191.75 1014.51 L192.25 1014.47 L192.75 1014.44 L193.25 1014.41 L193.75 1014.38 L194.25 1014.34 L194.75 1014.31 L195.25 1014.27 L195.75 1014.24 L196.25 1014.2 L196.75 1014.17 L197.25 1014.13 L197.75 1014.09 L198.25 1014.05 L198.75 1014.02 L199.25 1013.98 L199.75 1013.94 L200.25 1013.9 L200.75 1013.86 L201.25 1013.81 L201.75 1013.77 L202.25 1013.73 L202.75 1013.69 L203.25 1013.64 L203.75 1013.6 L204.25 1013.55 L204.75 1013.5 L205.25 1013.46 L205.75 1013.41 L206.25 1013.36 L206.75 1013.31 L207.25 1013.26 L207.75 1013.2 L208.25 1013.15 L208.75 1013.1 L209.25 1013.04 L209.75 1012.99 L210.25 1012.93 L210.75 1012.87 L211.25 1012.81 L211.75 1012.75 L212.25 1012.69 L212.75 1012.62 L213.25 1012.56 L213.75 1012.49 L214.25 1012.42 L214.75 1012.35 L215.25 1012.28 L215.75 1012.21 L216.25 1012.13 L216.75 1012.06 L217.25 1011.98 L217.75 1011.9 L218.25 1011.82 L218.75 1011.73 L219.25 1011.65 L219.75 1011.56 L220.25 1011.47 L220.75 1011.37 L221.25 1011.28 L221.75 1011.18 L222.25 1011.08 L222.75 1010.98 L223.25 1010.87 L223.75 1010.76 L224.25 1010.65 L224.75 1010.54 L225.25 1010.42 L225.75 1010.3 L226.25 1010.17 L226.75 1010.05 L227.25 1009.92 L227.75 1009.78 L228.25 1009.64 L228.75 1009.5 L229.25 1009.35 L229.75 1009.2 L230.25 1009.05 L230.75 1008.89 L231.25 1008.73 L231.75 1008.56 L232.25 1008.38 L232.75 1008.21 L233.25 1008.02 L233.75 1007.83 L234.25 1007.64 L234.75 1007.44 L235.25 1007.24 L235.75 1007.02 L236.25 1006.81 L236.75 1006.58 L237.25 1006.36 L237.75 1006.12 L238.25 1005.88 L238.75 1005.63 L239.25 1005.37 L239.75 1005.11 L240.25 1004.83 L240.75 1004.56 L241.25 1004.27 L241.75 1003.97 L242.25 1003.67 L242.75 1003.36 L243.25 1003.04 L243.75 1002.71 L244.25 1002.37 L244.75 1002.03 L245.25 1001.67 L245.75 1001.31 L246.25 1000.93 L246.75 1000.55 L247.25 1000.15 L247.75 999.74 L248.25 999.33 L248.75 998.9 L249.25 998.46 L249.75 998.02 L250.25 997.56 L250.75 997.08 L251.25 996.6 L251.75 996.11 L252.25 995.6 L252.75 995.08 L253.25 994.55 L253.75 994.01 L254.25 993.45 L254.75 992.88 L255.25 992.3 L255.75 991.71 L256.25 991.1 L256.75 990.48 L257.25 989.84 L257.75 989.2 L258.25 988.54 L258.75 987.86 L259.25 987.17 L259.75 986.47 L260.25 985.75 L260.75 985.02 L261.25 984.27 L261.75 983.51 L262.25 982.74 L262.75 981.95 L263.25 981.15 L263.75 980.33 L264.25 979.5 L264.75 978.66 L265.25 977.8 L265.75 976.92 L266.25 976.03 L266.75 975.13 L267.25 974.21 L267.75 973.28 L268.25 972.34 L268.75 971.38 L269.25 970.41 L269.75 969.43 L270.25 968.43 L270.75 967.42 L271.25 966.39 L271.75 965.36 L272.25 964.31 L272.75 963.25 L273.25 962.18 L273.75 961.09 L274.25 960 L274.75 958.89 L275.25 957.77 L275.75 956.65 L276.25 955.51 L276.75 954.36 L277.25 953.21 L277.75 952.04 L278.25 950.87 L278.75 949.69 L279.25 948.5 L279.75 947.31 L280.25 946.11 L280.75 944.91 L281.25 943.7 L281.75 942.48 L282.25 941.27 L282.75 940.05 L283.25 938.83 L283.75 937.6 L284.25 936.38 L284.75 935.16 L285.25 933.93 L285.75 932.71 L286.25 931.5 L286.75 930.28 L287.25 929.08 L287.75 927.87 L288.25 926.68 L288.75 925.49 L289.25 924.31 L289.75 923.14 L290.25 921.98 L290.75 920.83 L291.25 919.7 L291.75 918.58 L292.25 917.47 L292.75 916.38 L293.25 915.31 L293.75 914.26 L294.25 913.23 L294.75 912.22 L295.25 911.24 L295.75 910.27 L296.25 909.34 L296.75 908.43 L297.25 907.54 L297.75 906.69 L298.25 905.87 L298.75 905.08 L299.25 904.32 L299.75 903.6 L300.25 902.91 L300.75 902.26 L301.25 901.64 L301.75 901.07 L302.25 900.53 L302.75 900.03 L303.25 899.58 L303.75 899.16 L304.25 898.79 L304.75 898.46 L305.25 898.18 L305.75 897.94 L306.25 897.75 L306.75 897.6 L307.25 897.5 L307.75 897.44 L308.25 897.42 L308.75 897.45 L309.25 897.52 L309.75 897.62 L310.25 897.77 L310.75 897.95 L311.25 898.17 L311.75 898.43 L312.25 898.73 L312.75 899.07 L313.25 899.44 L313.75 899.85 L314.25 900.29 L314.75 900.77 L315.25 901.28 L315.75 901.83 L316.25 902.41 L316.75 903.03 L317.25 903.67 L317.75 904.35 L318.25 905.06 L318.75 905.8 L319.25 906.57 L319.75 907.36 L320.25 908.19 L320.75 909.04 L321.25 909.91 L321.75 910.81 L322.25 911.74 L322.75 912.68 L323.25 913.65 L323.75 914.64 L324.25 915.65 L324.75 916.68 L325.25 917.72 L325.75 918.79 L326.25 919.87 L326.75 920.96 L327.25 922.07 L327.75 923.2 L328.25 924.33 L328.75 925.48 L329.25 926.64 L329.75 927.81 L330.25 928.99 L330.75 930.17 L331.25 931.36 L331.75 932.56 L332.25 933.77 L332.75 934.98 L333.25 936.19 L333.75 937.41 L334.25 938.63 L334.75 939.85 L335.25 941.07 L335.75 942.3 L336.25 943.52 L336.75 944.74 L337.25 945.96 L337.75 947.17 L338.25 948.38 L338.75 949.59 L339.25 950.8 L339.75 951.99 L340.25 953.19 L340.75 954.37 L341.25 955.55 L341.75 956.72 L342.25 957.89 L342.75 959.04 L343.25 960.19 L343.75 961.33 L344.25 962.46 L344.75 963.57 L345.25 964.68 L345.75 965.78 L346.25 966.86 L346.75 967.93 L347.25 968.99 L347.75 970.04 L348.25 971.07 L348.75 972.1 L349.25 973.11 L349.75 974.1 L350.25 975.08 L350.75 976.05 L351.25 977 L351.75 977.94 L352.25 978.87 L352.75 979.78 L353.25 980.68 L353.75 981.56 L354.25 982.42 L354.75 983.28 L355.25 984.11 L355.75 984.93 L356.25 985.74 L356.75 986.53 L357.25 987.31 L357.75 988.07 L358.25 988.82 L358.75 989.55 L359.25 990.26 L359.75 990.96 L360.25 991.65 L360.75 992.32 L361.25 992.98 L361.75 993.62 L362.25 994.25 L362.75 994.86 L363.25 995.46 L363.75 996.05 L364.25 996.62 L364.75 997.18 L365.25 997.72 L365.75 998.25 L366.25 998.77 L366.75 999.27 L367.25 999.76 L367.75 1000.24 L368.25 1000.71 L368.75 1001.16 L369.25 1001.6 L369.75 1002.03 L370.25 1002.45 L370.75 1002.85 L371.25 1003.25 L371.75 1003.63 L372.25 1004 L372.75 1004.36 L373.25 1004.72 L373.75 1005.06 L374.25 1005.39 L374.75 1005.71 L375.25 1006.02 L375.75 1006.32 L376.25 1006.61 L376.75 1006.89 L377.25 1007.17 L377.75 1007.43 L378.25 1007.69 L378.75 1007.94 L379.25 1008.18 L379.75 1008.41 L380.25 1008.63 L380.75 1008.85 L381.25 1009.06 L381.75 1009.27 L382.25 1009.46 L382.75 1009.65 L383.25 1009.84 L383.75 1010.01 L384.25 1010.18 L384.75 1010.35 L385.25 1010.51 L385.75 1010.66 L386.25 1010.81 L386.75 1010.96 L387.25 1011.09 L387.75 1011.23 L388.25 1011.36 L388.75 1011.48 L389.25 1011.6 L389.75 1011.72 L390.25 1011.83 L390.75 1011.93 L391.25 1012.04 L391.75 1012.14 L392.25 1012.23 L392.75 1012.33 L393.25 1012.42 L393.75 1012.5 L394.25 1012.58 L394.75 1012.66 L395.25 1012.74 L395.75 1012.82 L396.25 1012.89 L396.75 1012.96 L397.25 1013.02 L397.75 1013.09 L398.25 1013.15 L398.75 1013.21 L399.25 1013.26 L399.75 1013.32 L400.25 1013.37 L400.75 1013.43 L401.25 1013.47 L401.75 1013.52 L402.25 1013.57 L402.75 1013.61 L403.25 1013.66 L403.75 1013.7 L404.25 1013.74 L404.75 1013.78 L405.25 1013.81 L405.75 1013.85 L406.25 1013.89 L406.75 1013.92 L407.25 1013.95 L407.75 1013.98 L408.25 1014.02 L408.75 1014.05 L409.25 1014.07 L409.75 1014.1 L410.25 1014.13 L410.75 1014.16 L411.25 1014.18 L411.75 1014.21 L412.25 1014.23 L412.75 1014.25 L413.25 1014.28 L413.75 1014.3 L414.25 1014.32 L414.75 1014.34 L415.25 1014.36 L415.75 1014.38 L416.25 1014.4 L416.75 1014.42 L417.25 1014.44 L417.75 1014.45 L418.25 1014.47 L418.75 1014.49 L419.25 1014.51 L419.75 1014.52 L420.25 1014.54 L420.75 1014.55 L421.25 1014.57 L421.75 1014.58 L422.25 1014.6 L422.75 1014.61 L423.25 1014.63 L423.75 1014.64 L424.25 1014.65 L424.75 1014.67 L425.25 1014.68 L425.75 1014.69 L426.25 1014.7 L426.75 1014.72 L427.25 1014.73 L427.75 1014.74 L428.25 1014.75 L428.75 1014.76 L429.25 1014.78 L429.75 1014.79 L430.25 1014.8 L430.75 1014.81 L431.25 1014.82 L431.75 1014.83 L432.25 1014.84 L432.75 1014.85 L433.25 1014.86 L433.75 1014.87 L434.25 1014.88 L434.75 1014.89 L435.25 1014.9 L435.75 1014.91 L436.25 1014.92 L436.75 1014.93 L437.25 1014.93 L437.75 1014.94 L438.25 1014.95 L438.75 1014.96 L439.25 1014.97 L439.75 1014.98 L440.25 1014.99 L440.75 1014.99 L441.25 1015 L441.75 1015.01 L442.25 1015.02 L442.75 1015.03 L443.25 1015.03 L443.75 1015.04 L444.25 1015.05 L444.75 1015.06 L445.25 1015.06 L445.75 1015.07 L446.25 1015.08 L446.75 1015.09 L447.25 1015.09 L447.75 1015.1 L448.25 1015.11 L448.75 1015.11 L449.25 1015.12 L449.75 1015.13 L450.25 1015.13 L450.75 1015.14 L451.25 1015.15 L451.75 1015.15 L452.25 1015.16 L452.75 1015.17 L453.25 1015.17 L453.75 1015.18 L454.25 1015.19 L454.75 1015.19 L455.25 1015.2 L455.75 1015.2 L456.25 1015.21 L456.75 1015.22 L457.25 1015.22 L457.75 1015.23 L458.25 1015.23 L458.75 1015.24 L459.25 1015.25 L459.75 1015.25 L460.25 1015.26 L460.75 1015.26 L461.25 1015.27 L461.75 1015.27 L462.25 1015.28 L462.75 1015.28 L463.25 1015.29 L463.75 1015.29 L464.25 1015.3 L464.75 1015.3 L465.25 1015.31 L465.75 1015.31 L466.25 1015.32 L466.75 1015.32 L467.25 1015.33 L467.75 1015.33 L468.25 1015.34 L468.75 1015.34 L469.25 1015.35 L469.75 1015.35 L470.25 1015.36 L470.75 1015.36 L471.25 1015.37 L471.75 1015.37 L472.25 1015.38 L472.75 1015.38 L473.25 1015.39 L473.75 1015.39 L474.25 1015.39 L474.75 1015.4 L475.25 1015.4 L475.75 1015.41 L476.25 1015.41 L476.75 1015.42 L477.25 1015.42 L477.75 1015.42 L478.25 1015.43 L478.75 1015.43 L479.25 1015.44 L479.75 1015.44 L480.25 1015.44 L480.75 1015.45 L481.25 1015.45 L481.75 1015.46 L482.25 1015.46 L482.75 1015.46 L483.25 1015.47 L483.75 1015.47 L484.25 1015.47 L484.75 1015.48 L485.25 1015.48 L485.75 1015.49 L486.25 1015.49 L486.75 1015.49 L487.25 1015.5 L487.75 1015.5 L488.25 1015.5 L488.75 1015.51 L489.25 1015.51 L489.75 1015.51 L490.25 1015.52 L490.75 1015.52 L491.25 1015.52 L491.75 1015.53 L492.25 1015.53 L492.75 1015.53 L493.25 1015.54 L493.75 1015.54 L494.25 1015.54 L494.25 1016.9 L493.75 1016.9 L493.25 1016.9 L492.75 1016.9 L492.25 1016.9 L491.75 1016.9 L491.25 1016.9 L490.75 1016.9 L490.25 1016.9 L489.75 1016.9 L489.25 1016.9 L488.75 1016.9 L488.25 1016.9 L487.75 1016.9 L487.25 1016.9 L486.75 1016.9 L486.25 1016.9 L485.75 1016.9 L485.25 1016.9 L484.75 1016.9 L484.25 1016.9 L483.75 1016.9 L483.25 1016.9 L482.75 1016.9 L482.25 1016.9 L481.75 1016.9 L481.25 1016.9 L480.75 1016.9 L480.25 1016.9 L479.75 1016.9 L479.25 1016.9 L478.75 1016.9 L478.25 1016.9 L477.75 1016.9 L477.25 1016.9 L476.75 1016.9 L476.25 1016.9 L475.75 1016.9 L475.25 1016.9 L474.75 1016.9 L474.25 1016.9 L473.75 1016.9 L473.25 1016.9 L472.75 1016.9 L472.25 1016.9 L471.75 1016.9 L471.25 1016.9 L470.75 1016.9 L470.25 1016.9 L469.75 1016.9 L469.25 1016.9 L468.75 1016.9 L468.25 1016.9 L467.75 1016.9 L467.25 1016.9 L466.75 1016.9 L466.25 1016.9 L465.75 1016.9 L465.25 1016.9 L464.75 1016.9 L464.25 1016.9 L463.75 1016.9 L463.25 1016.9 L462.75 1016.9 L462.25 1016.9 L461.75 1016.9 L461.25 1016.9 L460.75 1016.9 L460.25 1016.9 L459.75 1016.9 L459.25 1016.9 L458.75 1016.9 L458.25 1016.9 L457.75 1016.9 L457.25 1016.9 L456.75 1016.9 L456.25 1016.9 L455.75 1016.9 L455.25 1016.9 L454.75 1016.9 L454.25 1016.9 L453.75 1016.9 L453.25 1016.9 L452.75 1016.9 L452.25 1016.9 L451.75 1016.9 L451.25 1016.9 L450.75 1016.9 L450.25 1016.9 L449.75 1016.9 L449.25 1016.9 L448.75 1016.9 L448.25 1016.9 L447.75 1016.9 L447.25 1016.9 L446.75 1016.9 L446.25 1016.9 L445.75 1016.9 L445.25 1016.9 L444.75 1016.9 L444.25 1016.9 L443.75 1016.9 L443.25 1016.9 L442.75 1016.9 L442.25 1016.9 L441.75 1016.9 L441.25 1016.9 L440.75 1016.9 L440.25 1016.9 L439.75 1016.9 L439.25 1016.9 L438.75 1016.9 L438.25 1016.9 L437.75 1016.9 L437.25 1016.9 L436.75 1016.9 L436.25 1016.9 L435.75 1016.9 L435.25 1016.9 L434.75 1016.9 L434.25 1016.9 L433.75 1016.9 L433.25 1016.9 L432.75 1016.9 L432.25 1016.9 L431.75 1016.9 L431.25 1016.9 L430.75 1016.9 L430.25 1016.9 L429.75 1016.9 L429.25 1016.9 L428.75 1016.9 L428.25 1016.9 L427.75 1016.9 L427.25 1016.9 L426.75 1016.9 L426.25 1016.9 L425.75 1016.9 L425.25 1016.9 L424.75 1016.9 L424.25 1016.9 L423.75 1016.9 L423.25 1016.9 L422.75 1016.9 L422.25 1016.9 L421.75 1016.9 L421.25 1016.9 L420.75 1016.9 L420.25 1016.9 L419.75 1016.9 L419.25 1016.9 L418.75 1016.9 L418.25 1016.9 L417.75 1016.9 L417.25 1016.9 L416.75 1016.9 L416.25 1016.9 L415.75 1016.9 L415.25 1016.9 L414.75 1016.9 L414.25 1016.9 L413.75 1016.9 L413.25 1016.9 L412.75 1016.9 L412.25 1016.9 L411.75 1016.9 L411.25 1016.9 L410.75 1016.9 L410.25 1016.9 L409.75 1016.9 L409.25 1016.9 L408.75 1016.9 L408.25 1016.9 L407.75 1016.9 L407.25 1016.9 L406.75 1016.9 L406.25 1016.9 L405.75 1016.9 L405.25 1016.9 L404.75 1016.9 L404.25 1016.9 L403.75 1016.9 L403.25 1016.9 L402.75 1016.9 L402.25 1016.9 L401.75 1016.9 L401.25 1016.9 L400.75 1016.9 L400.25 1016.9 L399.75 1016.89 L399.25 1016.89 L398.75 1016.89 L398.25 1016.89 L397.75 1016.89 L397.25 1016.89 L396.75 1016.89 L396.25 1016.89 L395.75 1016.89 L395.25 1016.89 L394.75 1016.89 L394.25 1016.89 L393.75 1016.89 L393.25 1016.89 L392.75 1016.89 L392.25 1016.89 L391.75 1016.89 L391.25 1016.89 L390.75 1016.89 L390.25 1016.89 L389.75 1016.89 L389.25 1016.89 L388.75 1016.89 L388.25 1016.89 L387.75 1016.89 L387.25 1016.89 L386.75 1016.89 L386.25 1016.89 L385.75 1016.89 L385.25 1016.89 L384.75 1016.89 L384.25 1016.89 L383.75 1016.89 L383.25 1016.89 L382.75 1016.89 L382.25 1016.89 L381.75 1016.89 L381.25 1016.89 L380.75 1016.89 L380.25 1016.89 L379.75 1016.89 L379.25 1016.89 L378.75 1016.89 L378.25 1016.89 L377.75 1016.89 L377.25 1016.88 L376.75 1016.88 L376.25 1016.88 L375.75 1016.88 L375.25 1016.88 L374.75 1016.88 L374.25 1016.88 L373.75 1016.88 L373.25 1016.88 L372.75 1016.88 L372.25 1016.88 L371.75 1016.88 L371.25 1016.88 L370.75 1016.88 L370.25 1016.88 L369.75 1016.88 L369.25 1016.88 L368.75 1016.88 L368.25 1016.88 L367.75 1016.88 L367.25 1016.88 L366.75 1016.87 L366.25 1016.87 L365.75 1016.87 L365.25 1016.87 L364.75 1016.87 L364.25 1016.87 L363.75 1016.87 L363.25 1016.87 L362.75 1016.87 L362.25 1016.87 L361.75 1016.87 L361.25 1016.87 L360.75 1016.87 L360.25 1016.87 L359.75 1016.87 L359.25 1016.86 L358.75 1016.86 L358.25 1016.86 L357.75 1016.86 L357.25 1016.86 L356.75 1016.86 L356.25 1016.86 L355.75 1016.86 L355.25 1016.86 L354.75 1016.86 L354.25 1016.85 L353.75 1016.85 L353.25 1016.85 L352.75 1016.85 L352.25 1016.85 L351.75 1016.85 L351.25 1016.85 L350.75 1016.85 L350.25 1016.85 L349.75 1016.84 L349.25 1016.84 L348.75 1016.84 L348.25 1016.84 L347.75 1016.84 L347.25 1016.84 L346.75 1016.84 L346.25 1016.84 L345.75 1016.83 L345.25 1016.83 L344.75 1016.83 L344.25 1016.83 L343.75 1016.83 L343.25 1016.83 L342.75 1016.83 L342.25 1016.82 L341.75 1016.82 L341.25 1016.82 L340.75 1016.82 L340.25 1016.82 L339.75 1016.82 L339.25 1016.81 L338.75 1016.81 L338.25 1016.81 L337.75 1016.81 L337.25 1016.81 L336.75 1016.8 L336.25 1016.8 L335.75 1016.8 L335.25 1016.8 L334.75 1016.8 L334.25 1016.79 L333.75 1016.79 L333.25 1016.79 L332.75 1016.79 L332.25 1016.79 L331.75 1016.78 L331.25 1016.78 L330.75 1016.78 L330.25 1016.78 L329.75 1016.77 L329.25 1016.77 L328.75 1016.77 L328.25 1016.77 L327.75 1016.76 L327.25 1016.76 L326.75 1016.76 L326.25 1016.76 L325.75 1016.75 L325.25 1016.75 L324.75 1016.75 L324.25 1016.75 L323.75 1016.74 L323.25 1016.74 L322.75 1016.74 L322.25 1016.74 L321.75 1016.73 L321.25 1016.73 L320.75 1016.73 L320.25 1016.72 L319.75 1016.72 L319.25 1016.72 L318.75 1016.72 L318.25 1016.71 L317.75 1016.71 L317.25 1016.71 L316.75 1016.7 L316.25 1016.7 L315.75 1016.7 L315.25 1016.69 L314.75 1016.69 L314.25 1016.69 L313.75 1016.69 L313.25 1016.68 L312.75 1016.68 L312.25 1016.68 L311.75 1016.67 L311.25 1016.67 L310.75 1016.67 L310.25 1016.66 L309.75 1016.66 L309.25 1016.66 L308.75 1016.65 L308.25 1016.65 L307.75 1016.65 L307.25 1016.65 L306.75 1016.64 L306.25 1016.64 L305.75 1016.64 L305.25 1016.63 L304.75 1016.63 L304.25 1016.63 L303.75 1016.62 L303.25 1016.62 L302.75 1016.62 L302.25 1016.61 L301.75 1016.61 L301.25 1016.61 L300.75 1016.61 L300.25 1016.6 L299.75 1016.6 L299.25 1016.6 L298.75 1016.59 L298.25 1016.59 L297.75 1016.59 L297.25 1016.58 L296.75 1016.58 L296.25 1016.58 L295.75 1016.58 L295.25 1016.57 L294.75 1016.57 L294.25 1016.57 L293.75 1016.56 L293.25 1016.56 L292.75 1016.56 L292.25 1016.56 L291.75 1016.55 L291.25 1016.55 L290.75 1016.55 L290.25 1016.55 L289.75 1016.54 L289.25 1016.54 L288.75 1016.54 L288.25 1016.54 L287.75 1016.53 L287.25 1016.53 L286.75 1016.53 L286.25 1016.53 L285.75 1016.52 L285.25 1016.52 L284.75 1016.52 L284.25 1016.52 L283.75 1016.51 L283.25 1016.51 L282.75 1016.51 L282.25 1016.51 L281.75 1016.51 L281.25 1016.5 L280.75 1016.5 L280.25 1016.5 L279.75 1016.5 L279.25 1016.5 L278.75 1016.49 L278.25 1016.49 L277.75 1016.49 L277.25 1016.49 L276.75 1016.49 L276.25 1016.48 L275.75 1016.48 L275.25 1016.48 L274.75 1016.48 L274.25 1016.48 L273.75 1016.48 L273.25 1016.47 L272.75 1016.47 L272.25 1016.47 L271.75 1016.47 L271.25 1016.47 L270.75 1016.47 L270.25 1016.47 L269.75 1016.46 L269.25 1016.46 L268.75 1016.46 L268.25 1016.46 L267.75 1016.46 L267.25 1016.46 L266.75 1016.46 L266.25 1016.46 L265.75 1016.45 L265.25 1016.45 L264.75 1016.45 L264.25 1016.45 L263.75 1016.45 L263.25 1016.45 L262.75 1016.45 L262.25 1016.45 L261.75 1016.45 L261.25 1016.44 L260.75 1016.44 L260.25 1016.44 L259.75 1016.44 L259.25 1016.44 L258.75 1016.44 L258.25 1016.44 L257.75 1016.44 L257.25 1016.44 L256.75 1016.44 L256.25 1016.43 L255.75 1016.43 L255.25 1016.43 L254.75 1016.43 L254.25 1016.43 L253.75 1016.43 L253.25 1016.43 L252.75 1016.43 L252.25 1016.43 L251.75 1016.43 L251.25 1016.43 L250.75 1016.43 L250.25 1016.43 L249.75 1016.43 L249.25 1016.43 L248.75 1016.42 L248.25 1016.42 L247.75 1016.42 L247.25 1016.42 L246.75 1016.42 L246.25 1016.42 L245.75 1016.42 L245.25 1016.42 L244.75 1016.42 L244.25 1016.42 L243.75 1016.42 L243.25 1016.42 L242.75 1016.42 L242.25 1016.42 L241.75 1016.42 L241.25 1016.42 L240.75 1016.42 L240.25 1016.42 L239.75 1016.42 L239.25 1016.42 L238.75 1016.42 L238.25 1016.41 L237.75 1016.41 L237.25 1016.41 L236.75 1016.41 L236.25 1016.41 L235.75 1016.41 L235.25 1016.41 L234.75 1016.41 L234.25 1016.41 L233.75 1016.41 L233.25 1016.41 L232.75 1016.41 L232.25 1016.41 L231.75 1016.41 L231.25 1016.41 L230.75 1016.41 L230.25 1016.41 L229.75 1016.41 L229.25 1016.41 L228.75 1016.41 L228.25 1016.41 L227.75 1016.41 L227.25 1016.41 L226.75 1016.41 L226.25 1016.41 L225.75 1016.41 L225.25 1016.41 L224.75 1016.41 L224.25 1016.41 L223.75 1016.41 L223.25 1016.41 L222.75 1016.41 L222.25 1016.41 L221.75 1016.41 L221.25 1016.41 L220.75 1016.41 L220.25 1016.41 L219.75 1016.41 L219.25 1016.41 L218.75 1016.41 L218.25 1016.41 L217.75 1016.41 L217.25 1016.41 L216.75 1016.41 L216.25 1016.41 L215.75 1016.4 L215.25 1016.4 L214.75 1016.4 L214.25 1016.4 L213.75 1016.4 L213.25 1016.4 L212.75 1016.4 L212.25 1016.4 L211.75 1016.4 L211.25 1016.4 L210.75 1016.4 L210.25 1016.4 L209.75 1016.4 L209.25 1016.4 L208.75 1016.4 L208.25 1016.4 L207.75 1016.4 L207.25 1016.4 L206.75 1016.4 L206.25 1016.4 L205.75 1016.4 L205.25 1016.4 L204.75 1016.4 L204.25 1016.4 L203.75 1016.4 L203.25 1016.4 L202.75 1016.4 L202.25 1016.4 L201.75 1016.4 L201.25 1016.4 L200.75 1016.4 L200.25 1016.4 L199.75 1016.4 L199.25 1016.4 L198.75 1016.4 L198.25 1016.4 L197.75 1016.4 L197.25 1016.4 L196.75 1016.4 L196.25 1016.4 L195.75 1016.4 L195.25 1016.4 L194.75 1016.4 L194.25 1016.4 L193.75 1016.4 L193.25 1016.4 L192.75 1016.4 L192.25 1016.4 L191.75 1016.4 L191.25 1016.4 L190.75 1016.4 L190.25 1016.4 L189.75 1016.4 L189.25 1016.4 L188.75 1016.4 L188.25 1016.4 L187.75 1016.4 L187.25 1016.4 L186.75 1016.4 L186.25 1016.4 L185.75 1016.4 L185.25 1016.4 L184.75 1016.4 L184.25 1016.4 L183.75 1016.4 L183.25 1016.4 L182.75 1016.4 L182.25 1016.4 L181.75 1016.4 L181.25 1016.4 L180.75 1016.4 L180.25 1016.4 L179.75 1016.4 L179.25 1016.4 L178.75 1016.4 L178.25 1016.4 L177.75 1016.4 L177.25 1016.4 L176.75 1016.4 L176.25 1016.4 L175.75 1016.4 L175.25 1016.4 L174.75 1016.4 L174.25 1016.4 L173.75 1016.4 L173.25 1016.4 L172.75 1016.4 L172.25 1016.4 L171.75 1016.4 L171.25 1016.4 L170.75 1016.4 L170.25 1016.4 L169.75 1016.4 L169.25 1016.4 L168.75 1016.4 L168.25 1016.4 L167.75 1016.4 L167.25 1016.4 L166.75 1016.4 L166.25 1016.4 L165.75 1016.4 L165.25 1016.4 L164.75 1016.4 L164.25 1016.4 L163.75 1016.4 L163.25 1016.4 L162.75 1016.4 L162.25 1016.4 L161.75 1016.4 L161.25 1016.4 L160.75 1016.4 L160.25 1016.4 L159.75 1016.4 L159.25 1016.4 L158.75 1016.4 L158.25 1016.4 L157.75 1016.4 L157.25 1016.4 L156.75 1016.4 L156.25 1016.4 L155.75 1016.4 L155.25 1016.4 L154.75 1016.4 L154.25 1016.4 L153.75 1016.4 L153.25 1016.4 L152.75 1016.4 L152.25 1016.4 L151.75 1016.4 L151.25 1016.4 L150.75 1016.4 L150.25 1016.4 L149.75 1016.4 L149.25 1016.4 L148.75 1016.4 L148.25 1016.4 L147.75 1016.4 L147.25 1016.4 L146.75 1016.4 L146.25 1016.4 L145.75 1016.4 L145.25 1016.4 L144.75 1016.4 L144.25 1016.4 L143.75 1016.4 L143.25 1016.4 L142.75 1016.4 L142.25 1016.4 L141.75 1016.4 L141.25 1016.4 L140.75 1016.4 L140.25 1016.4 L139.75 1016.4 L139.25 1016.4 L138.75 1016.4 L138.25 1016.4 L137.75 1016.4 L137.25 1016.4 L136.75 1016.4 L136.25 1016.4 L135.75 1016.4 L135.25 1016.4 L134.75 1016.4 L134.25 1016.4 L133.75 1016.4 L133.25 1016.4 L132.75 1016.4 L132.25 1016.4 L131.75 1016.4 L131.25 1016.4 L130.75 1016.4 L130.25 1016.4 L129.75 1016.4 L129.25 1016.4 L128.75 1016.4 L128.25 1016.4 L127.75 1016.4 L127.25 1016.4 L126.75 1016.4 L126.25 1016.4 L125.75 1016.4 L125.25 1016.4 L124.75 1016.4 L124.25 1016.4 L123.75 1016.4 L123.25 1016.4 L122.75 1016.4 L122.25 1016.4 L121.75 1016.4 L121.25 1016.4 L120.75 1016.4 L120.25 1016.4 L119.75 1016.4 L119.25 1016.4 L118.75 1016.4 L118.25 1016.4 L117.75 1016.4 L117.25 1016.4 L116.75 1016.4 L116.25 1016.4 L115.75 1016.4 L115.25 1016.4 L114.75 1016.4 L114.25 1016.4 L113.75 1016.4 L113.25 1016.4 L112.75 1016.4 L112.25 1016.4 L111.75 1016.4 L111.25 1016.4 L110.75 1016.4 L110.25 1016.4 L109.75 1016.4 L109.25 1016.4 L108.75 1016.4 L108.25 1016.4 L107.75 1016.4 L107.25 1016.4 L106.75 1016.4 L106.25 1016.4 L105.75 1016.4 L105.25 1016.4 L104.75 1016.4 L104.25 1016.4 L103.75 1016.4 L103.25 1016.4 L102.75 1016.4 L102.25 1016.4 L101.75 1016.4 L101.25 1016.4 L100.75 1016.4 L100.25 1016.4 L99.75 1016.4 L99.25 1016.4 L98.75 1016.4 L98.25 1016.4 L97.75 1016.4 L97.25 1016.4 L96.75 1016.4 L96.25 1016.4 L95.75 1016.4 L95.25 1016.4 L94.75 1016.4 L94.25 1016.4 L93.75 1016.4 L93.25 1016.4 L92.75 1016.4 L92.25 1016.4 L91.75 1016.4 L91.25 1016.4 L90.75 1016.4 L90.25 1016.4 L89.75 1016.4 L89.25 1016.4 L88.75 1016.4 L88.25 1016.4 L87.75 1016.4 L87.25 1016.4 L86.75 1016.4 L86.25 1016.4 L85.75 1016.4 L85.25 1016.4 L84.75 1016.4 L84.25 1016.4 L83.75 1016.4 L83.25 1016.4 L82.75 1016.4 L82.25 1016.4 L81.75 1016.4 L81.25 1016.4 L80.75 1016.4 L80.25 1016.4 L79.75 1016.4 L79.25 1016.4Z" fill="#fee07d" stroke="none"/>
<path d="M79.25 1016.4 L83.25 1016.4 L87.25 1016.4 L91.25 1016.4 L95.25 1016.4 L99.25 1016.4 L103.25 1016.4 L107.25 1016.4 L111.25 1016.4 L115.25 1016.4 L119.25 1016.4 L123.25 1016.4 L127.25 1016.4 L131.25 1016.4 L135.25 1016.4 L139.25 1016.4 L143.25 1016.4 L147.25 1016.4 L151.25 1016.4 L155.25 1016.4 L159.25 1016.4 L163.25 1016.4 L167.25 1016.4 L171.25 1016.4 L175.25 1016.4 L179.25 1016.4 L183.25 1016.4 L187.25 1016.4 L191.25 1016.4 L195.25 1016.4 L199.25 1016.4 L203.25 1016.4 L207.25 1016.4 L211.25 1016.4 L215.25 1016.4 L219.25 1016.41 L223.25 1016.41 L227.25 1016.41 L231.25 1016.41 L235.25 1016.41 L239.25 1016.42 L243.25 1016.42 L247.25 1016.42 L251.25 1016.43 L255.25 1016.43 L259.25 1016.44 L263.25 1016.45 L267.25 1016.46 L271.25 1016.47 L275.25 1016.48 L279.25 1016.5 L283.25 1016.51 L287.25 1016.53 L291.25 1016.55 L295.25 1016.57 L299.25 1016.6 L303.25 1016.62 L307.25 1016.65 L311.25 1016.67 L315.25 1016.69 L319.25 1016.72 L323.25 1016.74 L327.25 1016.76 L331.25 1016.78 L335.25 1016.8 L339.25 1016.81 L343.25 1016.83 L347.25 1016.84 L351.25 1016.85 L355.25 1016.86 L359.25 1016.86 L363.25 1016.87 L367.25 1016.88 L371.25 1016.88 L375.25 1016.88 L379.25 1016.89 L383.25 1016.89 L387.25 1016.89 L391.25 1016.89 L395.25 1016.89 L399.25 1016.89 L403.25 1016.9 L407.25 1016.9 L411.25 1016.9 L415.25 1016.9 L419.25 1016.9 L423.25 1016.9 L427.25 1016.9 L431.25 1016.9 L435.25 1016.9 L439.25 1016.9 L443.25 1016.9 L447.25 1016.9 L451.25 1016.9 L455.25 1016.9 L459.25 1016.9 L463.25 1016.9 L467.25 1016.9 L471.25 1016.9 L475.25 1016.9 L479.25 1016.9 L483.25 1016.9 L487.25 1016.9 L491.25 1016.9" fill="none" stroke="#111" stroke-width="1.5" stroke-linejoin="round" stroke-dasharray="5 2.7"/>
<clipPath id="clipc"><rect x="79.25" y="849.8" width="415" height="176.3"/></clipPath><g clip-path="url(#clipc)">
<use href="#m" x="79.25" y="1017.1"/>
<use href="#m" x="83.4" y="1017.07"/>
<use href="#m" x="87.55" y="1017.03"/>
<use href="#m" x="91.7" y="1016.98"/>
<use href="#m" x="95.85" y="1016.94"/>
<use href="#m" x="100" y="1016.89"/>
<use href="#m" x="104.15" y="1016.84"/>
<use href="#m" x="108.3" y="1016.79"/>
<use href="#m" x="112.45" y="1016.73"/>
<use href="#m" x="116.6" y="1016.67"/>
<use href="#m" x="120.75" y="1016.61"/>
<use href="#m" x="124.9" y="1016.54"/>
<use href="#m" x="129.05" y="1016.47"/>
<use href="#m" x="133.2" y="1016.39"/>
<use href="#m" x="137.35" y="1016.31"/>
<use href="#m" x="141.5" y="1016.22"/>
<use href="#m" x="145.65" y="1016.12"/>
<use href="#m" x="149.8" y="1016.02"/>
<use href="#m" x="153.95" y="1015.9"/>
<use href="#m" x="158.1" y="1015.78"/>
<use href="#m" x="162.25" y="1015.65"/>
<use href="#m" x="166.4" y="1015.51"/>
<use href="#m" x="170.55" y="1015.36"/>
<use href="#m" x="174.7" y="1015.19"/>
<use href="#m" x="178.85" y="1015"/>
<use href="#m" x="183" y="1014.79"/>
<use href="#m" x="187.15" y="1014.56"/>
<use href="#m" x="191.3" y="1014.3"/>
<use href="#m" x="195.45" y="1013.99"/>
<use href="#m" x="199.6" y="1013.62"/>
<use href="#m" x="203.75" y="1013.18"/>
<use href="#m" x="207.9" y="1012.66"/>
<use href="#m" x="212.05" y="1012.03"/>
<use href="#m" x="216.2" y="1011.28"/>
<use href="#m" x="220.35" y="1010.42"/>
<use href="#m" x="224.5" y="1009.41"/>
<use href="#m" x="228.65" y="1008.25"/>
<use href="#m" x="232.8" y="1006.89"/>
<use href="#m" x="236.95" y="1005.25"/>
<use href="#m" x="241.1" y="1003.23"/>
<use href="#m" x="245.25" y="1000.71"/>
<use href="#m" x="249.4" y="997.54"/>
<use href="#m" x="253.55" y="993.61"/>
<use href="#m" x="257.7" y="988.78"/>
<use href="#m" x="261.85" y="982.99"/>
<use href="#m" x="266" y="976.18"/>
<use href="#m" x="270.15" y="968.38"/>
<use href="#m" x="274.29" y="959.66"/>
<use href="#m" x="278.4" y="950.19"/>
<use href="#m" x="282.48" y="940.21"/>
<use href="#m" x="286.52" y="930.07"/>
<use href="#m" x="290.6" y="920.22"/>
<use href="#m" x="294.78" y="911.14"/>
<use href="#m" x="299.03" y="903.31"/>
<use href="#m" x="303.28" y="897.53"/>
<use href="#m" x="307.53" y="894.97"/>
<use href="#m" x="311.79" y="896.23"/>
<use href="#m" x="316.09" y="900.6"/>
<use href="#m" x="320.42" y="907.09"/>
<use href="#m" x="324.69" y="915.04"/>
<use href="#m" x="328.83" y="924.1"/>
<use href="#m" x="332.85" y="933.9"/>
<use href="#m" x="336.83" y="944"/>
<use href="#m" x="340.83" y="953.97"/>
<use href="#m" x="344.9" y="963.47"/>
<use href="#m" x="349.02" y="972.21"/>
<use href="#m" x="353.15" y="980.02"/>
<use href="#m" x="357.3" y="986.79"/>
<use href="#m" x="361.45" y="992.51"/>
<use href="#m" x="365.6" y="997.2"/>
<use href="#m" x="369.75" y="1000.97"/>
<use href="#m" x="373.9" y="1003.91"/>
<use href="#m" x="378.05" y="1006.18"/>
<use href="#m" x="382.2" y="1007.9"/>
<use href="#m" x="386.35" y="1009.19"/>
<use href="#m" x="390.5" y="1010.18"/>
<use href="#m" x="394.65" y="1010.96"/>
<use href="#m" x="398.8" y="1011.59"/>
<use href="#m" x="402.95" y="1012.12"/>
<use href="#m" x="407.1" y="1012.58"/>
<use href="#m" x="411.25" y="1012.99"/>
<use href="#m" x="415.4" y="1013.35"/>
<use href="#m" x="419.55" y="1013.67"/>
<use href="#m" x="423.7" y="1013.95"/>
<use href="#m" x="427.85" y="1014.18"/>
<use href="#m" x="432" y="1014.38"/>
<use href="#m" x="436.15" y="1014.54"/>
<use href="#m" x="440.3" y="1014.67"/>
<use href="#m" x="444.45" y="1014.78"/>
<use href="#m" x="448.6" y="1014.87"/>
<use href="#m" x="452.75" y="1014.94"/>
<use href="#m" x="456.9" y="1015"/>
<use href="#m" x="461.05" y="1015.06"/>
<use href="#m" x="465.2" y="1015.11"/>
<use href="#m" x="469.35" y="1015.15"/>
<use href="#m" x="473.5" y="1015.19"/>
<use href="#m" x="477.65" y="1015.22"/>
<use href="#m" x="481.8" y="1015.26"/>
<use href="#m" x="485.95" y="1015.29"/>
<use href="#m" x="490.1" y="1015.32"/>
<use href="#m" x="494.25" y="1015.34"/>
<path d="M79.25 1017.3 L79.75 1017.3 L80.25 1017.3 L80.75 1017.29 L81.25 1017.29 L81.75 1017.28 L82.25 1017.28 L82.75 1017.27 L83.25 1017.27 L83.75 1017.26 L84.25 1017.26 L84.75 1017.25 L85.25 1017.25 L85.75 1017.24 L86.25 1017.24 L86.75 1017.23 L87.25 1017.23 L87.75 1017.22 L88.25 1017.22 L88.75 1017.21 L89.25 1017.21 L89.75 1017.2 L90.25 1017.2 L90.75 1017.19 L91.25 1017.19 L91.75 1017.18 L92.25 1017.18 L92.75 1017.17 L93.25 1017.17 L93.75 1017.16 L94.25 1017.16 L94.75 1017.15 L95.25 1017.15 L95.75 1017.14 L96.25 1017.14 L96.75 1017.13 L97.25 1017.12 L97.75 1017.12 L98.25 1017.11 L98.75 1017.11 L99.25 1017.1 L99.75 1017.1 L100.25 1017.09 L100.75 1017.08 L101.25 1017.08 L101.75 1017.07 L102.25 1017.07 L102.75 1017.06 L103.25 1017.05 L103.75 1017.05 L104.25 1017.04 L104.75 1017.04 L105.25 1017.03 L105.75 1017.02 L106.25 1017.02 L106.75 1017.01 L107.25 1017 L107.75 1017 L108.25 1016.99 L108.75 1016.98 L109.25 1016.98 L109.75 1016.97 L110.25 1016.96 L110.75 1016.96 L111.25 1016.95 L111.75 1016.94 L112.25 1016.94 L112.75 1016.93 L113.25 1016.92 L113.75 1016.91 L114.25 1016.91 L114.75 1016.9 L115.25 1016.89 L115.75 1016.89 L116.25 1016.88 L116.75 1016.87 L117.25 1016.86 L117.75 1016.86 L118.25 1016.85 L118.75 1016.84 L119.25 1016.83 L119.75 1016.82 L120.25 1016.82 L120.75 1016.81 L121.25 1016.8 L121.75 1016.79 L122.25 1016.78 L122.75 1016.78 L123.25 1016.77 L123.75 1016.76 L124.25 1016.75 L124.75 1016.74 L125.25 1016.73 L125.75 1016.73 L126.25 1016.72 L126.75 1016.71 L127.25 1016.7 L127.75 1016.69 L128.25 1016.68 L128.75 1016.67 L129.25 1016.66 L129.75 1016.65 L130.25 1016.65 L130.75 1016.64 L131.25 1016.63 L131.75 1016.62 L132.25 1016.61 L132.75 1016.6 L133.25 1016.59 L133.75 1016.58 L134.25 1016.57 L134.75 1016.56 L135.25 1016.55 L135.75 1016.54 L136.25 1016.53 L136.75 1016.52 L137.25 1016.51 L137.75 1016.5 L138.25 1016.49 L138.75 1016.48 L139.25 1016.47 L139.75 1016.45 L140.25 1016.44 L140.75 1016.43 L141.25 1016.42 L141.75 1016.41 L142.25 1016.4 L142.75 1016.39 L143.25 1016.38 L143.75 1016.36 L144.25 1016.35 L144.75 1016.34 L145.25 1016.33 L145.75 1016.32 L146.25 1016.3 L146.75 1016.29 L147.25 1016.28 L147.75 1016.27 L148.25 1016.26 L148.75 1016.24 L149.25 1016.23 L149.75 1016.22 L150.25 1016.2 L150.75 1016.19 L151.25 1016.18 L151.75 1016.16 L152.25 1016.15 L152.75 1016.14 L153.25 1016.12 L153.75 1016.11 L154.25 1016.1 L154.75 1016.08 L155.25 1016.07 L155.75 1016.05 L156.25 1016.04 L156.75 1016.02 L157.25 1016.01 L157.75 1015.99 L158.25 1015.98 L158.75 1015.96 L159.25 1015.95 L159.75 1015.93 L160.25 1015.92 L160.75 1015.9 L161.25 1015.88 L161.75 1015.87 L162.25 1015.85 L162.75 1015.84 L163.25 1015.82 L163.75 1015.8 L164.25 1015.78 L164.75 1015.77 L165.25 1015.75 L165.75 1015.73 L166.25 1015.72 L166.75 1015.7 L167.25 1015.68 L167.75 1015.66 L168.25 1015.64 L168.75 1015.62 L169.25 1015.61 L169.75 1015.59 L170.25 1015.57 L170.75 1015.55 L171.25 1015.53 L171.75 1015.51 L172.25 1015.49 L172.75 1015.47 L173.25 1015.45 L173.75 1015.43 L174.25 1015.41 L174.75 1015.39 L175.25 1015.36 L175.75 1015.34 L176.25 1015.32 L176.75 1015.3 L177.25 1015.28 L177.75 1015.25 L178.25 1015.23 L178.75 1015.21 L179.25 1015.19 L179.75 1015.16 L180.25 1015.14 L180.75 1015.11 L181.25 1015.09 L181.75 1015.06 L182.25 1015.04 L182.75 1015.01 L183.25 1014.99 L183.75 1014.96 L184.25 1014.94 L184.75 1014.91 L185.25 1014.88 L185.75 1014.86 L186.25 1014.83 L186.75 1014.8 L187.25 1014.77 L187.75 1014.75 L188.25 1014.72 L188.75 1014.69 L189.25 1014.66 L189.75 1014.63 L190.25 1014.6 L190.75 1014.57 L191.25 1014.54 L191.75 1014.51 L192.25 1014.47 L192.75 1014.44 L193.25 1014.41 L193.75 1014.38 L194.25 1014.34 L194.75 1014.31 L195.25 1014.27 L195.75 1014.24 L196.25 1014.2 L196.75 1014.17 L197.25 1014.13 L197.75 1014.09 L198.25 1014.05 L198.75 1014.02 L199.25 1013.98 L199.75 1013.94 L200.25 1013.9 L200.75 1013.86 L201.25 1013.81 L201.75 1013.77 L202.25 1013.73 L202.75 1013.69 L203.25 1013.64 L203.75 1013.6 L204.25 1013.55 L204.75 1013.5 L205.25 1013.46 L205.75 1013.41 L206.25 1013.36 L206.75 1013.31 L207.25 1013.26 L207.75 1013.2 L208.25 1013.15 L208.75 1013.1 L209.25 1013.04 L209.75 1012.99 L210.25 1012.93 L210.75 1012.87 L211.25 1012.81 L211.75 1012.75 L212.25 1012.69 L212.75 1012.62 L213.25 1012.56 L213.75 1012.49 L214.25 1012.42 L214.75 1012.35 L215.25 1012.28 L215.75 1012.21 L216.25 1012.13 L216.75 1012.06 L217.25 1011.98 L217.75 1011.9 L218.25 1011.82 L218.75 1011.73 L219.25 1011.65 L219.75 1011.56 L220.25 1011.47 L220.75 1011.37 L221.25 1011.28 L221.75 1011.18 L222.25 1011.08 L222.75 1010.98 L223.25 1010.87 L223.75 1010.76 L224.25 1010.65 L224.75 1010.54 L225.25 1010.42 L225.75 1010.3 L226.25 1010.17 L226.75 1010.05 L227.25 1009.92 L227.75 1009.78 L228.25 1009.64 L228.75 1009.5 L229.25 1009.35 L229.75 1009.2 L230.25 1009.05 L230.75 1008.89 L231.25 1008.73 L231.75 1008.56 L232.25 1008.38 L232.75 1008.21 L233.25 1008.02 L233.75 1007.83 L234.25 1007.64 L234.75 1007.44 L235.25 1007.24 L235.75 1007.02 L236.25 1006.81 L236.75 1006.58 L237.25 1006.36 L237.75 1006.12 L238.25 1005.88 L238.75 1005.63 L239.25 1005.37 L239.75 1005.11 L240.25 1004.83 L240.75 1004.56 L241.25 1004.27 L241.75 1003.97 L242.25 1003.67 L242.75 1003.36 L243.25 1003.04 L243.75 1002.71 L244.25 1002.37 L244.75 1002.03 L245.25 1001.67 L245.75 1001.31 L246.25 1000.93 L246.75 1000.55 L247.25 1000.15 L247.75 999.74 L248.25 999.33 L248.75 998.9 L249.25 998.46 L249.75 998.02 L250.25 997.56 L250.75 997.08 L251.25 996.6 L251.75 996.11 L252.25 995.6 L252.75 995.08 L253.25 994.55 L253.75 994.01 L254.25 993.45 L254.75 992.88 L255.25 992.3 L255.75 991.71 L256.25 991.1 L256.75 990.48 L257.25 989.84 L257.75 989.2 L258.25 988.54 L258.75 987.86 L259.25 987.17 L259.75 986.47 L260.25 985.75 L260.75 985.02 L261.25 984.27 L261.75 983.51 L262.25 982.74 L262.75 981.95 L263.25 981.15 L263.75 980.33 L264.25 979.5 L264.75 978.66 L265.25 977.8 L265.75 976.92 L266.25 976.03 L266.75 975.13 L267.25 974.21 L267.75 973.28 L268.25 972.34 L268.75 971.38 L269.25 970.41 L269.75 969.43 L270.25 968.43 L270.75 967.42 L271.25 966.39 L271.75 965.36 L272.25 964.31 L272.75 963.25 L273.25 962.18 L273.75 961.09 L274.25 960 L274.75 958.89 L275.25 957.77 L275.75 956.65 L276.25 955.51 L276.75 954.36 L277.25 953.21 L277.75 952.04 L278.25 950.87 L278.75 949.69 L279.25 948.5 L279.75 947.31 L280.25 946.11 L280.75 944.91 L281.25 943.7 L281.75 942.48 L282.25 941.27 L282.75 940.05 L283.25 938.83 L283.75 937.6 L284.25 936.38 L284.75 935.16 L285.25 933.93 L285.75 932.71 L286.25 931.5 L286.75 930.28 L287.25 929.08 L287.75 927.87 L288.25 926.68 L288.75 925.49 L289.25 924.31 L289.75 923.14 L290.25 921.98 L290.75 920.83 L291.25 919.7 L291.75 918.58 L292.25 917.47 L292.75 916.38 L293.25 915.31 L293.75 914.26 L294.25 913.23 L294.75 912.22 L295.25 911.24 L295.75 910.27 L296.25 909.34 L296.75 908.43 L297.25 907.54 L297.75 906.69 L298.25 905.87 L298.75 905.08 L299.25 904.32 L299.75 903.6 L300.25 902.91 L300.75 902.26 L301.25 901.64 L301.75 901.07 L302.25 900.53 L302.75 900.03 L303.25 899.58 L303.75 899.16 L304.25 898.79 L304.75 898.46 L305.25 898.18 L305.75 897.94 L306.25 897.75 L306.75 897.6 L307.25 897.5 L307.75 897.44 L308.25 897.42 L308.75 897.45 L309.25 897.52 L309.75 897.62 L310.25 897.77 L310.75 897.95 L311.25 898.17 L311.75 898.43 L312.25 898.73 L312.75 899.07 L313.25 899.44 L313.75 899.85 L314.25 900.29 L314.75 900.77 L315.25 901.28 L315.75 901.83 L316.25 902.41 L316.75 903.03 L317.25 903.67 L317.75 904.35 L318.25 905.06 L318.75 905.8 L319.25 906.57 L319.75 907.36 L320.25 908.19 L320.75 909.04 L321.25 909.91 L321.75 910.81 L322.25 911.74 L322.75 912.68 L323.25 913.65 L323.75 914.64 L324.25 915.65 L324.75 916.68 L325.25 917.72 L325.75 918.79 L326.25 919.87 L326.75 920.96 L327.25 922.07 L327.75 923.2 L328.25 924.33 L328.75 925.48 L329.25 926.64 L329.75 927.81 L330.25 928.99 L330.75 930.17 L331.25 931.36 L331.75 932.56 L332.25 933.77 L332.75 934.98 L333.25 936.19 L333.75 937.41 L334.25 938.63 L334.75 939.85 L335.25 941.07 L335.75 942.3 L336.25 943.52 L336.75 944.74 L337.25 945.96 L337.75 947.17 L338.25 948.38 L338.75 949.59 L339.25 950.8 L339.75 951.99 L340.25 953.19 L340.75 954.37 L341.25 955.55 L341.75 956.72 L342.25 957.89 L342.75 959.04 L343.25 960.19 L343.75 961.33 L344.25 962.46 L344.75 963.57 L345.25 964.68 L345.75 965.78 L346.25 966.86 L346.75 967.93 L347.25 968.99 L347.75 970.04 L348.25 971.07 L348.75 972.1 L349.25 973.11 L349.75 974.1 L350.25 975.08 L350.75 976.05 L351.25 977 L351.75 977.94 L352.25 978.87 L352.75 979.78 L353.25 980.68 L353.75 981.56 L354.25 982.42 L354.75 983.28 L355.25 984.11 L355.75 984.93 L356.25 985.74 L356.75 986.53 L357.25 987.31 L357.75 988.07 L358.25 988.82 L358.75 989.55 L359.25 990.26 L359.75 990.96 L360.25 991.65 L360.75 992.32 L361.25 992.98 L361.75 993.62 L362.25 994.25 L362.75 994.86 L363.25 995.46 L363.75 996.05 L364.25 996.62 L364.75 997.18 L365.25 997.72 L365.75 998.25 L366.25 998.77 L366.75 999.27 L367.25 999.76 L367.75 1000.24 L368.25 1000.71 L368.75 1001.16 L369.25 1001.6 L369.75 1002.03 L370.25 1002.45 L370.75 1002.85 L371.25 1003.25 L371.75 1003.63 L372.25 1004 L372.75 1004.36 L373.25 1004.72 L373.75 1005.06 L374.25 1005.39 L374.75 1005.71 L375.25 1006.02 L375.75 1006.32 L376.25 1006.61 L376.75 1006.89 L377.25 1007.17 L377.75 1007.43 L378.25 1007.69 L378.75 1007.94 L379.25 1008.18 L379.75 1008.41 L380.25 1008.63 L380.75 1008.85 L381.25 1009.06 L381.75 1009.27 L382.25 1009.46 L382.75 1009.65 L383.25 1009.84 L383.75 1010.01 L384.25 1010.18 L384.75 1010.35 L385.25 1010.51 L385.75 1010.66 L386.25 1010.81 L386.75 1010.96 L387.25 1011.09 L387.75 1011.23 L388.25 1011.36 L388.75 1011.48 L389.25 1011.6 L389.75 1011.72 L390.25 1011.83 L390.75 1011.93 L391.25 1012.04 L391.75 1012.14 L392.25 1012.23 L392.75 1012.33 L393.25 1012.42 L393.75 1012.5 L394.25 1012.58 L394.75 1012.66 L395.25 1012.74 L395.75 1012.82 L396.25 1012.89 L396.75 1012.96 L397.25 1013.02 L397.75 1013.09 L398.25 1013.15 L398.75 1013.21 L399.25 1013.26 L399.75 1013.32 L400.25 1013.37 L400.75 1013.43 L401.25 1013.47 L401.75 1013.52 L402.25 1013.57 L402.75 1013.61 L403.25 1013.66 L403.75 1013.7 L404.25 1013.74 L404.75 1013.78 L405.25 1013.81 L405.75 1013.85 L406.25 1013.89 L406.75 1013.92 L407.25 1013.95 L407.75 1013.98 L408.25 1014.02 L408.75 1014.05 L409.25 1014.07 L409.75 1014.1 L410.25 1014.13 L410.75 1014.16 L411.25 1014.18 L411.75 1014.21 L412.25 1014.23 L412.75 1014.25 L413.25 1014.28 L413.75 1014.3 L414.25 1014.32 L414.75 1014.34 L415.25 1014.36 L415.75 1014.38 L416.25 1014.4 L416.75 1014.42 L417.25 1014.44 L417.75 1014.45 L418.25 1014.47 L418.75 1014.49 L419.25 1014.51 L419.75 1014.52 L420.25 1014.54 L420.75 1014.55 L421.25 1014.57 L421.75 1014.58 L422.25 1014.6 L422.75 1014.61 L423.25 1014.63 L423.75 1014.64 L424.25 1014.65 L424.75 1014.67 L425.25 1014.68 L425.75 1014.69 L426.25 1014.7 L426.75 1014.72 L427.25 1014.73 L427.75 1014.74 L428.25 1014.75 L428.75 1014.76 L429.25 1014.78 L429.75 1014.79 L430.25 1014.8 L430.75 1014.81 L431.25 1014.82 L431.75 1014.83 L432.25 1014.84 L432.75 1014.85 L433.25 1014.86 L433.75 1014.87 L434.25 1014.88 L434.75 1014.89 L435.25 1014.9 L435.75 1014.91 L436.25 1014.92 L436.75 1014.93 L437.25 1014.93 L437.75 1014.94 L438.25 1014.95 L438.75 1014.96 L439.25 1014.97 L439.75 1014.98 L440.25 1014.99 L440.75 1014.99 L441.25 1015 L441.75 1015.01 L442.25 1015.02 L442.75 1015.03 L443.25 1015.03 L443.75 1015.04 L444.25 1015.05 L444.75 1015.06 L445.25 1015.06 L445.75 1015.07 L446.25 1015.08 L446.75 1015.09 L447.25 1015.09 L447.75 1015.1 L448.25 1015.11 L448.75 1015.11 L449.25 1015.12 L449.75 1015.13 L450.25 1015.13 L450.75 1015.14 L451.25 1015.15 L451.75 1015.15 L452.25 1015.16 L452.75 1015.17 L453.25 1015.17 L453.75 1015.18 L454.25 1015.19 L454.75 1015.19 L455.25 1015.2 L455.75 1015.2 L456.25 1015.21 L456.75 1015.22 L457.25 1015.22 L457.75 1015.23 L458.25 1015.23 L458.75 1015.24 L459.25 1015.25 L459.75 1015.25 L460.25 1015.26 L460.75 1015.26 L461.25 1015.27 L461.75 1015.27 L462.25 1015.28 L462.75 1015.28 L463.25 1015.29 L463.75 1015.29 L464.25 1015.3 L464.75 1015.3 L465.25 1015.31 L465.75 1015.31 L466.25 1015.32 L466.75 1015.32 L467.25 1015.33 L467.75 1015.33 L468.25 1015.34 L468.75 1015.34 L469.25 1015.35 L469.75 1015.35 L470.25 1015.36 L470.75 1015.36 L471.25 1015.37 L471.75 1015.37 L472.25 1015.38 L472.75 1015.38 L473.25 1015.39 L473.75 1015.39 L474.25 1015.39 L474.75 1015.4 L475.25 1015.4 L475.75 1015.41 L476.25 1015.41 L476.75 1015.42 L477.25 1015.42 L477.75 1015.42 L478.25 1015.43 L478.75 1015.43 L479.25 1015.44 L479.75 1015.44 L480.25 1015.44 L480.75 1015.45 L481.25 1015.45 L481.75 1015.46 L482.25 1015.46 L482.75 1015.46 L483.25 1015.47 L483.75 1015.47 L484.25 1015.47 L484.75 1015.48 L485.25 1015.48 L485.75 1015.49 L486.25 1015.49 L486.75 1015.49 L487.25 1015.5 L487.75 1015.5 L488.25 1015.5 L488.75 1015.51 L489.25 1015.51 L489.75 1015.51 L490.25 1015.52 L490.75 1015.52 L491.25 1015.52 L491.75 1015.53 L492.25 1015.53 L492.75 1015.53 L493.25 1015.54 L493.75 1015.54 L494.25 1015.54" fill="none" stroke="#e3101c" stroke-width="1.9" stroke-linejoin="round" />
</g>
<rect x="79.25" y="849.8" width="415" height="176.3" fill="none" stroke="#111" stroke-width="1.7"/>
<line x1="73.25" y1="1026.1" x2="79.25" y2="1026.1" stroke="#111" stroke-width="1.4" />
<line x1="488.25" y1="1026.1" x2="494.25" y2="1026.1" stroke="#111" stroke-width="1.4" />
<text x="0" y="0" font-size="17.8" text-anchor="end" font-weight="normal" font-style="normal" fill="#111" transform="translate(67.85 1031.4) scale(1.09 1)" >0</text>
<line x1="76.05" y1="1013.73" x2="79.25" y2="1013.73" stroke="#111" stroke-width="1.4" />
<line x1="491.05" y1="1013.73" x2="494.25" y2="1013.73" stroke="#111" stroke-width="1.4" />
<line x1="73.25" y1="1001.36" x2="79.25" y2="1001.36" stroke="#111" stroke-width="1.4" />
<line x1="488.25" y1="1001.36" x2="494.25" y2="1001.36" stroke="#111" stroke-width="1.4" />
<text x="0" y="0" font-size="17.8" text-anchor="end" font-weight="normal" font-style="normal" fill="#111" transform="translate(67.05 1006.66) scale(1.09 1)" >1.0</text>
<line x1="76.05" y1="988.99" x2="79.25" y2="988.99" stroke="#111" stroke-width="1.4" />
<line x1="491.05" y1="988.99" x2="494.25" y2="988.99" stroke="#111" stroke-width="1.4" />
<line x1="73.25" y1="976.62" x2="79.25" y2="976.62" stroke="#111" stroke-width="1.4" />
<line x1="488.25" y1="976.62" x2="494.25" y2="976.62" stroke="#111" stroke-width="1.4" />
<text x="0" y="0" font-size="17.8" text-anchor="end" font-weight="normal" font-style="normal" fill="#111" transform="translate(67.05 981.92) scale(1.09 1)" >2.0</text>
<line x1="76.05" y1="964.25" x2="79.25" y2="964.25" stroke="#111" stroke-width="1.4" />
<line x1="491.05" y1="964.25" x2="494.25" y2="964.25" stroke="#111" stroke-width="1.4" />
<line x1="73.25" y1="951.88" x2="79.25" y2="951.88" stroke="#111" stroke-width="1.4" />
<line x1="488.25" y1="951.88" x2="494.25" y2="951.88" stroke="#111" stroke-width="1.4" />
<text x="0" y="0" font-size="17.8" text-anchor="end" font-weight="normal" font-style="normal" fill="#111" transform="translate(67.05 957.18) scale(1.09 1)" >3.0</text>
<line x1="76.05" y1="939.51" x2="79.25" y2="939.51" stroke="#111" stroke-width="1.4" />
<line x1="491.05" y1="939.51" x2="494.25" y2="939.51" stroke="#111" stroke-width="1.4" />
<line x1="73.25" y1="927.14" x2="79.25" y2="927.14" stroke="#111" stroke-width="1.4" />
<line x1="488.25" y1="927.14" x2="494.25" y2="927.14" stroke="#111" stroke-width="1.4" />
<text x="0" y="0" font-size="17.8" text-anchor="end" font-weight="normal" font-style="normal" fill="#111" transform="translate(67.05 932.44) scale(1.09 1)" >4.0</text>
<line x1="76.05" y1="914.77" x2="79.25" y2="914.77" stroke="#111" stroke-width="1.4" />
<line x1="491.05" y1="914.77" x2="494.25" y2="914.77" stroke="#111" stroke-width="1.4" />
<line x1="73.25" y1="902.4" x2="79.25" y2="902.4" stroke="#111" stroke-width="1.4" />
<line x1="488.25" y1="902.4" x2="494.25" y2="902.4" stroke="#111" stroke-width="1.4" />
<text x="0" y="0" font-size="17.8" text-anchor="end" font-weight="normal" font-style="normal" fill="#111" transform="translate(67.05 907.7) scale(1.09 1)" >5.0</text>
<line x1="76.05" y1="890.03" x2="79.25" y2="890.03" stroke="#111" stroke-width="1.4" />
<line x1="491.05" y1="890.03" x2="494.25" y2="890.03" stroke="#111" stroke-width="1.4" />
<line x1="73.25" y1="877.66" x2="79.25" y2="877.66" stroke="#111" stroke-width="1.4" />
<line x1="488.25" y1="877.66" x2="494.25" y2="877.66" stroke="#111" stroke-width="1.4" />
<text x="0" y="0" font-size="17.8" text-anchor="end" font-weight="normal" font-style="normal" fill="#111" transform="translate(67.05 882.96) scale(1.09 1)" >6.0</text>
<line x1="79.25" y1="1026.1" x2="79.25" y2="1032.6" stroke="#111" stroke-width="1.4" />
<line x1="79.25" y1="849.8" x2="79.25" y2="856.3" stroke="#111" stroke-width="1.4" />
<text x="79.25" y="1053" font-size="18" text-anchor="middle" font-weight="normal" font-style="normal" fill="#111" >690</text>
<line x1="100" y1="1026.1" x2="100" y2="1029.6" stroke="#111" stroke-width="1.4" />
<line x1="100" y1="849.8" x2="100" y2="853.3" stroke="#111" stroke-width="1.4" />
<line x1="120.75" y1="1026.1" x2="120.75" y2="1029.6" stroke="#111" stroke-width="1.4" />
<line x1="120.75" y1="849.8" x2="120.75" y2="853.3" stroke="#111" stroke-width="1.4" />
<line x1="141.5" y1="1026.1" x2="141.5" y2="1029.6" stroke="#111" stroke-width="1.4" />
<line x1="141.5" y1="849.8" x2="141.5" y2="853.3" stroke="#111" stroke-width="1.4" />
<line x1="162.25" y1="1026.1" x2="162.25" y2="1032.6" stroke="#111" stroke-width="1.4" />
<line x1="162.25" y1="849.8" x2="162.25" y2="856.3" stroke="#111" stroke-width="1.4" />
<text x="162.25" y="1053" font-size="18" text-anchor="middle" font-weight="normal" font-style="normal" fill="#111" >688</text>
<line x1="183" y1="1026.1" x2="183" y2="1029.6" stroke="#111" stroke-width="1.4" />
<line x1="183" y1="849.8" x2="183" y2="853.3" stroke="#111" stroke-width="1.4" />
<line x1="203.75" y1="1026.1" x2="203.75" y2="1029.6" stroke="#111" stroke-width="1.4" />
<line x1="203.75" y1="849.8" x2="203.75" y2="853.3" stroke="#111" stroke-width="1.4" />
<line x1="224.5" y1="1026.1" x2="224.5" y2="1029.6" stroke="#111" stroke-width="1.4" />
<line x1="224.5" y1="849.8" x2="224.5" y2="853.3" stroke="#111" stroke-width="1.4" />
<line x1="245.25" y1="1026.1" x2="245.25" y2="1032.6" stroke="#111" stroke-width="1.4" />
<line x1="245.25" y1="849.8" x2="245.25" y2="856.3" stroke="#111" stroke-width="1.4" />
<text x="245.25" y="1053" font-size="18" text-anchor="middle" font-weight="normal" font-style="normal" fill="#111" >686</text>
<line x1="266" y1="1026.1" x2="266" y2="1029.6" stroke="#111" stroke-width="1.4" />
<line x1="266" y1="849.8" x2="266" y2="853.3" stroke="#111" stroke-width="1.4" />
<line x1="286.75" y1="1026.1" x2="286.75" y2="1029.6" stroke="#111" stroke-width="1.4" />
<line x1="286.75" y1="849.8" x2="286.75" y2="853.3" stroke="#111" stroke-width="1.4" />
<line x1="307.5" y1="1026.1" x2="307.5" y2="1029.6" stroke="#111" stroke-width="1.4" />
<line x1="307.5" y1="849.8" x2="307.5" y2="853.3" stroke="#111" stroke-width="1.4" />
<line x1="328.25" y1="1026.1" x2="328.25" y2="1032.6" stroke="#111" stroke-width="1.4" />
<line x1="328.25" y1="849.8" x2="328.25" y2="856.3" stroke="#111" stroke-width="1.4" />
<text x="328.25" y="1053" font-size="18" text-anchor="middle" font-weight="normal" font-style="normal" fill="#111" >684</text>
<line x1="349" y1="1026.1" x2="349" y2="1029.6" stroke="#111" stroke-width="1.4" />
<line x1="349" y1="849.8" x2="349" y2="853.3" stroke="#111" stroke-width="1.4" />
<line x1="369.75" y1="1026.1" x2="369.75" y2="1029.6" stroke="#111" stroke-width="1.4" />
<line x1="369.75" y1="849.8" x2="369.75" y2="853.3" stroke="#111" stroke-width="1.4" />
<line x1="390.5" y1="1026.1" x2="390.5" y2="1029.6" stroke="#111" stroke-width="1.4" />
<line x1="390.5" y1="849.8" x2="390.5" y2="853.3" stroke="#111" stroke-width="1.4" />
<line x1="411.25" y1="1026.1" x2="411.25" y2="1032.6" stroke="#111" stroke-width="1.4" />
<line x1="411.25" y1="849.8" x2="411.25" y2="856.3" stroke="#111" stroke-width="1.4" />
<text x="411.25" y="1053" font-size="18" text-anchor="middle" font-weight="normal" font-style="normal" fill="#111" >682</text>
<line x1="432" y1="1026.1" x2="432" y2="1029.6" stroke="#111" stroke-width="1.4" />
<line x1="432" y1="849.8" x2="432" y2="853.3" stroke="#111" stroke-width="1.4" />
<line x1="452.75" y1="1026.1" x2="452.75" y2="1029.6" stroke="#111" stroke-width="1.4" />
<line x1="452.75" y1="849.8" x2="452.75" y2="853.3" stroke="#111" stroke-width="1.4" />
<line x1="473.5" y1="1026.1" x2="473.5" y2="1029.6" stroke="#111" stroke-width="1.4" />
<line x1="473.5" y1="849.8" x2="473.5" y2="853.3" stroke="#111" stroke-width="1.4" />
<line x1="494.25" y1="1026.1" x2="494.25" y2="1032.6" stroke="#111" stroke-width="1.4" />
<line x1="494.25" y1="849.8" x2="494.25" y2="856.3" stroke="#111" stroke-width="1.4" />
<text x="494.25" y="1053" font-size="18" text-anchor="middle" font-weight="normal" font-style="normal" fill="#111" >680</text>
<text transform="translate(24.2 1054.2) rotate(-90) scale(1 1.1)" font-size="20.4" font-weight="bold" fill="#111">Intensity</text>
<text transform="translate(24.2 951) rotate(-90) scale(1 1.1)" font-size="20.4" font-weight="bold" fill="#111">[10</text>
<text transform="translate(14.5 922) rotate(-90) scale(1 0.95)" font-size="15" font-weight="bold" fill="#111">5</text>
<text transform="translate(24.2 904) rotate(-90) scale(1 1.1)" font-size="20.4" font-weight="bold" fill="#111">cps]</text>
<text x="184.2" y="1081.4" font-size="20.6" text-anchor="start" font-weight="bold" font-style="normal" fill="#111" >Binding Energy [eV]</text>
<text x="9" y="848.8" font-size="46.6" text-anchor="start" font-weight="bold" font-style="normal" fill="#111" >c</text>
<text x="0" y="0" font-size="17" text-anchor="start" font-weight="normal" font-style="italic" fill="#111" transform="translate(88.9 844.6) scale(0.91 1)" >Residuals</text>
<text x="0" y="0" font-size="17" text-anchor="start" font-weight="normal" font-style="italic" fill="#111" transform="translate(167.2 844.6) scale(0.91 1)" >(</text>
<text x="0" y="0" font-size="17" text-anchor="start" font-weight="normal" font-style="italic" fill="#111" transform="translate(173.6 844.6) scale(0.91 1)" >&#963;</text>
<text x="0" y="0" font-size="17" text-anchor="start" font-weight="normal" font-style="italic" fill="#111" transform="translate(187.8 844.6) scale(0.91 1)" >=</text>
<text x="0" y="0" font-size="17" text-anchor="start" font-weight="normal" font-style="italic" fill="#111" transform="translate(202.4 844.6) scale(0.91 1)" >0.044</text>
<text x="0" y="0" font-size="14.5" text-anchor="start" font-weight="normal" font-style="italic" fill="#111" transform="translate(250 844.4) scale(0.95 1)" >&#215;</text>
<text x="0" y="0" font-size="17" text-anchor="start" font-weight="normal" font-style="italic" fill="#111" transform="translate(264.3 844.6) scale(0.91 1)" >10</text>
<text x="0" y="0" font-size="11.5" text-anchor="start" font-weight="normal" font-style="italic" fill="#111" transform="translate(282.3 838) scale(0.91 1)" >5</text>
<text x="0" y="0" font-size="17" text-anchor="start" font-weight="normal" font-style="italic" fill="#111" transform="translate(293.6 844.6) scale(0.91 1)" >cps</text>
<text x="0" y="0" font-size="17" text-anchor="start" font-weight="normal" font-style="italic" fill="#111" transform="translate(320 844.6) scale(0.91 1)" >)</text>
<use href="#m" x="98" y="891.3"/>
<text x="113.2" y="897.8" font-size="16" text-anchor="start" font-weight="normal" font-style="normal" fill="#111" >F 1s Raw</text>
<rect x="89.6" y="906" width="16.8" height="16.8" fill="#fdd97a" stroke="#c39a45" stroke-width="1.3"/>
<text x="113.2" y="919.8" font-size="16" text-anchor="start" font-weight="normal" font-style="normal" fill="#111" >F 1s Fit</text>
<text x="173.6" y="919.8" font-size="16" text-anchor="start" font-weight="normal" font-style="normal" fill="#111" >(684.5 )</text>
<line x1="87.5" y1="935.1" x2="107.5" y2="935.1" stroke="#e3101c" stroke-width="1.7" />
<text x="0" y="0" font-size="16" text-anchor="start" font-weight="normal" font-style="normal" fill="#111" transform="translate(113.2 941.8) scale(0.97 1)" >Envelope</text>
<line x1="87.5" y1="957.8" x2="107.5" y2="957.8" stroke="#111" stroke-width="1.3" stroke-dasharray="5.4 1.9"/>
<text x="0" y="0" font-size="16" text-anchor="start" font-weight="normal" font-style="normal" fill="#111" transform="translate(113.2 963.6) scale(0.98 1)" >Background</text>
</svg>
</body></html>
